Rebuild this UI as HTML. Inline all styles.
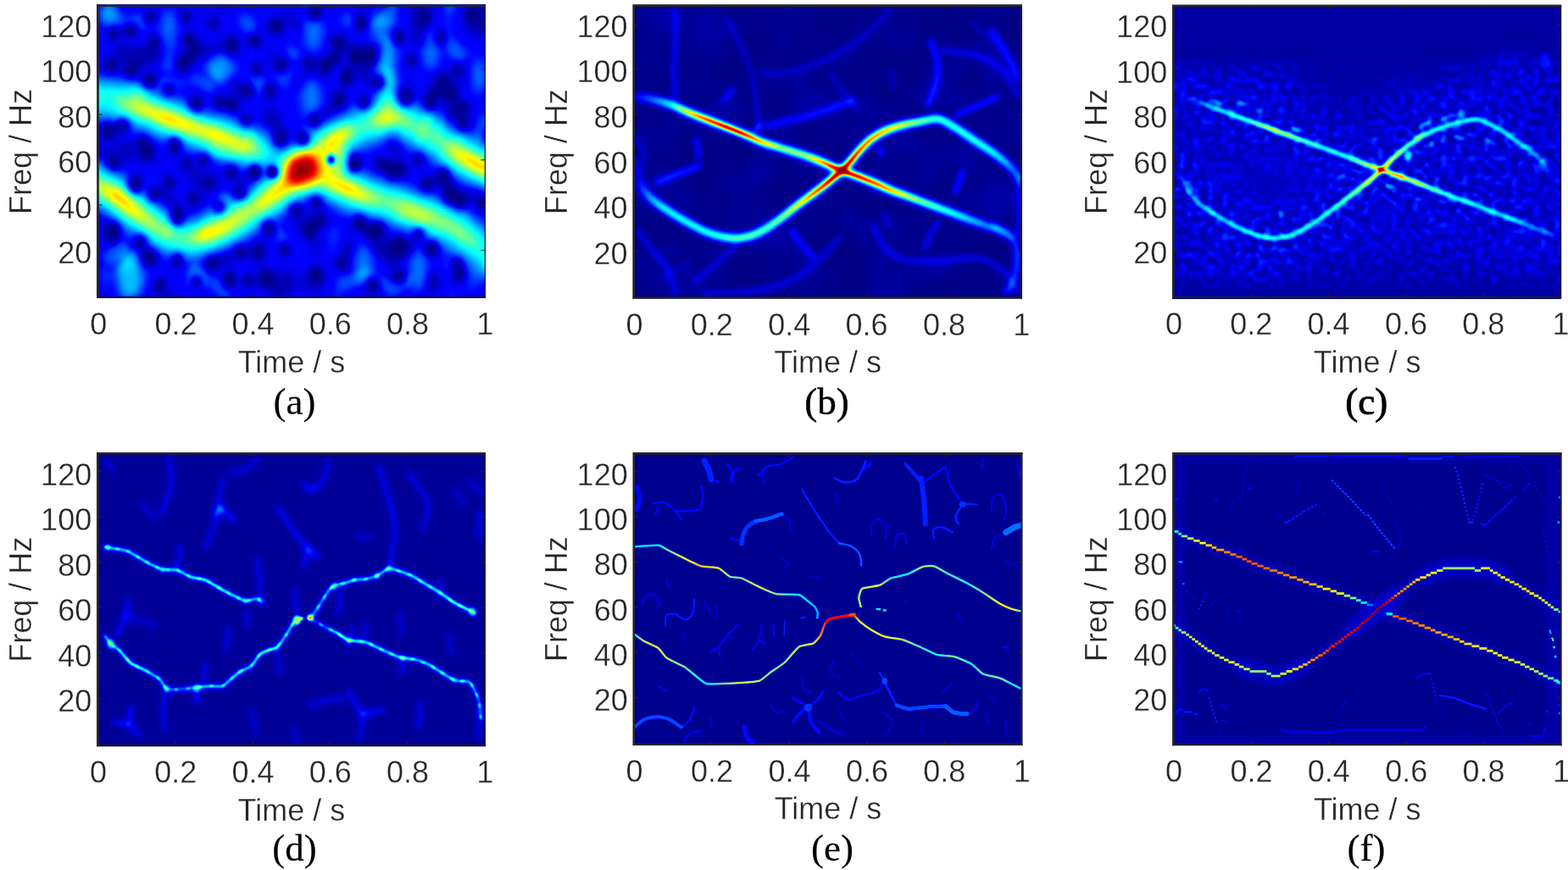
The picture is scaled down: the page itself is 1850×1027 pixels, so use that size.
<!DOCTYPE html>
<html lang="en">
<head>
<meta charset="utf-8">
<title>Time-frequency representations (a)-(f)</title>
<style>
html,body{margin:0;padding:0;background:#fff;}
body{width:1850px;height:1027px;overflow:hidden;}
svg{display:block;}
.tk text{font-family:"Liberation Sans",sans-serif;font-size:36px;fill:#262626;stroke:#fff;stroke-width:0.32px;paint-order:fill stroke;}
text.cap{font-family:"Liberation Serif",serif;font-size:45px;fill:#000;}
</style>
</head>
<body>
<svg width="1850" height="1027" viewBox="0 0 1850 1027">
<defs>
<filter id="jet" filterUnits="userSpaceOnUse" x="-50" y="-50" width="560" height="450" color-interpolation-filters="sRGB"><feComponentTransfer><feFuncR type="table" tableValues="0 0 0 0 0.5 1 1 1 0.5"/><feFuncG type="table" tableValues="0 0 0.5 1 1 1 0.5 0 0"/><feFuncB type="table" tableValues="0.5 1 1 1 0.5 0 0 0 0"/></feComponentTransfer></filter>
<clipPath id="clipP"><rect x="0.5" y="0.5" width="457.8" height="345.8"/></clipPath>
<filter id="bl0_5" filterUnits="userSpaceOnUse" x="-60" y="-60" width="580" height="470" color-interpolation-filters="sRGB"><feGaussianBlur stdDeviation="0.5"/></filter>
<filter id="bl0_6" filterUnits="userSpaceOnUse" x="-60" y="-60" width="580" height="470" color-interpolation-filters="sRGB"><feGaussianBlur stdDeviation="0.6"/></filter>
<filter id="bl0_8" filterUnits="userSpaceOnUse" x="-60" y="-60" width="580" height="470" color-interpolation-filters="sRGB"><feGaussianBlur stdDeviation="0.8"/></filter>
<filter id="bl0_85" filterUnits="userSpaceOnUse" x="-60" y="-60" width="580" height="470" color-interpolation-filters="sRGB"><feGaussianBlur stdDeviation="0.85"/></filter>
<filter id="bl0_9" filterUnits="userSpaceOnUse" x="-60" y="-60" width="580" height="470" color-interpolation-filters="sRGB"><feGaussianBlur stdDeviation="0.9"/></filter>
<filter id="bl1_2" filterUnits="userSpaceOnUse" x="-60" y="-60" width="580" height="470" color-interpolation-filters="sRGB"><feGaussianBlur stdDeviation="1.2"/></filter>
<filter id="bl1_3" filterUnits="userSpaceOnUse" x="-60" y="-60" width="580" height="470" color-interpolation-filters="sRGB"><feGaussianBlur stdDeviation="1.3"/></filter>
<filter id="bl1_6" filterUnits="userSpaceOnUse" x="-60" y="-60" width="580" height="470" color-interpolation-filters="sRGB"><feGaussianBlur stdDeviation="1.6"/></filter>
<filter id="bl1_8" filterUnits="userSpaceOnUse" x="-60" y="-60" width="580" height="470" color-interpolation-filters="sRGB"><feGaussianBlur stdDeviation="1.8"/></filter>
<filter id="bl1_9" filterUnits="userSpaceOnUse" x="-60" y="-60" width="580" height="470" color-interpolation-filters="sRGB"><feGaussianBlur stdDeviation="1.9"/></filter>
<filter id="bl2_0" filterUnits="userSpaceOnUse" x="-60" y="-60" width="580" height="470" color-interpolation-filters="sRGB"><feGaussianBlur stdDeviation="2.0"/></filter>
<filter id="bl2_5" filterUnits="userSpaceOnUse" x="-60" y="-60" width="580" height="470" color-interpolation-filters="sRGB"><feGaussianBlur stdDeviation="2.5"/></filter>
<filter id="bl2_6" filterUnits="userSpaceOnUse" x="-60" y="-60" width="580" height="470" color-interpolation-filters="sRGB"><feGaussianBlur stdDeviation="2.6"/></filter>
<filter id="bl3_0" filterUnits="userSpaceOnUse" x="-60" y="-60" width="580" height="470" color-interpolation-filters="sRGB"><feGaussianBlur stdDeviation="3.0"/></filter>
<filter id="bl3_5" filterUnits="userSpaceOnUse" x="-60" y="-60" width="580" height="470" color-interpolation-filters="sRGB"><feGaussianBlur stdDeviation="3.5"/></filter>
<filter id="bl4_0" filterUnits="userSpaceOnUse" x="-60" y="-60" width="580" height="470" color-interpolation-filters="sRGB"><feGaussianBlur stdDeviation="4.0"/></filter>
<filter id="bl4_5" filterUnits="userSpaceOnUse" x="-60" y="-60" width="580" height="470" color-interpolation-filters="sRGB"><feGaussianBlur stdDeviation="4.5"/></filter>
<filter id="bl5" filterUnits="userSpaceOnUse" x="-60" y="-60" width="580" height="470" color-interpolation-filters="sRGB"><feGaussianBlur stdDeviation="5"/></filter>
<filter id="bl6" filterUnits="userSpaceOnUse" x="-60" y="-60" width="580" height="470" color-interpolation-filters="sRGB"><feGaussianBlur stdDeviation="6"/></filter>
<filter id="bl8" filterUnits="userSpaceOnUse" x="-60" y="-60" width="580" height="470" color-interpolation-filters="sRGB"><feGaussianBlur stdDeviation="8"/></filter>
<filter id="bl9" filterUnits="userSpaceOnUse" x="-60" y="-60" width="580" height="470" color-interpolation-filters="sRGB"><feGaussianBlur stdDeviation="9"/></filter>
<filter id="bl12" filterUnits="userSpaceOnUse" x="-60" y="-60" width="580" height="470" color-interpolation-filters="sRGB"><feGaussianBlur stdDeviation="12"/></filter>
<filter id="tbA" filterUnits="userSpaceOnUse" x="-20" y="-20" width="500" height="390" color-interpolation-filters="sRGB"><feTurbulence type="fractalNoise" baseFrequency="0.03 0.026" numOctaves="1" seed="5" stitchTiles="noStitch"/><feColorMatrix type="matrix" values="1 0 0 0 0 1 0 0 0 0 1 0 0 0 0 0 0 0 0 1"/><feGaussianBlur stdDeviation="2"/><feComponentTransfer><feFuncR type="table" tableValues="0.04 0.04 0.04 0.04 0.04 0.05 0.06 0.08 0.1 0.115 0.125 0.125 0.13 0.15 0.19 0.22 0.22 0.22 0.22 0.22 0.22"/><feFuncG type="table" tableValues="0.04 0.04 0.04 0.04 0.04 0.05 0.06 0.08 0.1 0.115 0.125 0.125 0.13 0.15 0.19 0.22 0.22 0.22 0.22 0.22 0.22"/><feFuncB type="table" tableValues="0.04 0.04 0.04 0.04 0.04 0.05 0.06 0.08 0.1 0.115 0.125 0.125 0.13 0.15 0.19 0.22 0.22 0.22 0.22 0.22 0.22"/></feComponentTransfer></filter>
<filter id="tbB" filterUnits="userSpaceOnUse" x="-20" y="-20" width="500" height="390" color-interpolation-filters="sRGB"><feTurbulence type="fractalNoise" baseFrequency="0.018 0.02" numOctaves="2" seed="8" stitchTiles="noStitch"/><feColorMatrix type="matrix" values="1 0 0 0 0 1 0 0 0 0 1 0 0 0 0 0 0 0 0 1"/><feGaussianBlur stdDeviation="2"/><feComponentTransfer><feFuncR type="table" tableValues="0.01 0.01 0.01 0.01 0.01 0.01 0.01 0.01 0.012 0.014 0.017 0.02 0.025 0.03 0.035 0.04 0.04 0.04 0.04 0.04 0.04"/><feFuncG type="table" tableValues="0.01 0.01 0.01 0.01 0.01 0.01 0.01 0.01 0.012 0.014 0.017 0.02 0.025 0.03 0.035 0.04 0.04 0.04 0.04 0.04 0.04"/><feFuncB type="table" tableValues="0.01 0.01 0.01 0.01 0.01 0.01 0.01 0.01 0.012 0.014 0.017 0.02 0.025 0.03 0.035 0.04 0.04 0.04 0.04 0.04 0.04"/></feComponentTransfer></filter>
<filter id="tbC" filterUnits="userSpaceOnUse" x="-20" y="-20" width="500" height="390" color-interpolation-filters="sRGB"><feTurbulence type="fractalNoise" baseFrequency="0.12 0.14" numOctaves="1" seed="3" stitchTiles="noStitch"/><feColorMatrix type="matrix" values="1 0 0 0 0 1 0 0 0 0 1 0 0 0 0 0 0 0 0 1"/><feGaussianBlur stdDeviation="0.9"/><feComponentTransfer><feFuncR type="table" tableValues="0.03 0.03 0.03 0.03 0.03 0.03 0.035 0.04 0.05 0.065 0.085 0.11 0.14 0.165 0.18 0.19 0.2 0.2 0.2 0.2 0.2"/><feFuncG type="table" tableValues="0.03 0.03 0.03 0.03 0.03 0.03 0.035 0.04 0.05 0.065 0.085 0.11 0.14 0.165 0.18 0.19 0.2 0.2 0.2 0.2 0.2"/><feFuncB type="table" tableValues="0.03 0.03 0.03 0.03 0.03 0.03 0.035 0.04 0.05 0.065 0.085 0.11 0.14 0.165 0.18 0.19 0.2 0.2 0.2 0.2 0.2"/></feComponentTransfer></filter>
<mask id="tbCm" maskUnits="userSpaceOnUse" x="-20" y="-20" width="500" height="390" style="mask-type:luminance"><g filter="url(#bl9)"><rect x="-20" y="72" width="500" height="258" fill="#fff" fill-opacity="0.5"/><path d="M13 108.5C14.2 108.9 12.5 108.2 20.3 111.1C28.1 114 46.7 120.9 60 125.8C73.3 130.7 86.7 135.6 100 140.5C113.3 145.4 127.2 150.6 140 155.3C152.8 160 165.3 164.2 177 168.5C188.7 172.8 201.5 177.7 210 181C218.5 184.3 222 186.2 228.1 188.5C234.2 190.8 238.3 191.6 246.8 194.6C255.3 197.6 265.3 201.2 279.2 206.5C293.1 211.8 314.9 220.6 330.3 226.5C345.7 232.4 358.9 237.1 371.7 241.9C384.5 246.7 396.9 251.6 407 255.5C417.1 259.4 424.7 262.5 432 265.5C439.3 268.5 447.8 272.2 451 273.5" fill="none" stroke="#fff" stroke-opacity="0.600" stroke-width="50" stroke-linecap="round" stroke-linejoin="round"/><path d="M8.4 195.6C9.3 197.9 11.5 204.6 13.5 209.1C15.5 213.6 16.9 218.1 20.3 222.6C23.7 227.2 28.2 231.7 33.8 236.2C39.4 240.7 47.3 245.5 54.1 249.7C60.8 253.9 67.6 258.1 74.3 261.5C81.1 264.9 87.9 267.7 94.6 270C101.4 272.2 108.1 274.5 114.9 275C121.7 275.6 129 274.7 135.2 273.3C141.4 271.9 146.4 269.4 152.1 266.6C157.7 263.8 162.8 260.7 169 256.4C175.2 252.2 182.5 246.3 189.3 241.2C196 236.2 203.3 230.8 209.5 226C215.7 221.2 221.9 216.2 226.4 212.5C230.9 208.8 233.2 207 236.6 204.1C239.9 201.1 243.3 198.1 246.7 194.9C250.1 191.7 253.5 188.1 256.8 184.8C260.2 181.5 263 178.7 267 175.3C270.9 172 275.4 168.1 280.5 164.5C285.6 160.9 291.2 157 297.4 153.7C303.6 150.4 310.9 147.4 317.7 144.9C324.4 142.4 331.2 140.5 338 138.8C344.7 137.2 352.6 134.9 358.2 135.1C363.9 135.3 366.7 137.5 371.7 139.9C376.8 142.2 383 145.5 388.6 149C394.3 152.5 399.9 156.9 405.5 160.8C411.2 164.7 417.4 168.7 422.4 172.6C427.5 176.6 431.7 180.3 436 184.5C440.2 188.6 445.8 195.2 447.8 197.3" fill="none" stroke="#fff" stroke-opacity="0.600" stroke-width="50" stroke-linecap="round" stroke-linejoin="round"/><ellipse cx="351.5" cy="188.9" rx="77.7" ry="43.9" fill="#fff" fill-opacity="0.500"/><ellipse cx="256.8" cy="263.2" rx="111.5" ry="40.6" fill="#fff" fill-opacity="0.400"/><ellipse cx="81.1" cy="293.6" rx="74.3" ry="37.2" fill="#fff" fill-opacity="0.400"/><ellipse cx="405.5" cy="90.8" rx="47.3" ry="37.2" fill="#fff" fill-opacity="0.400"/><ellipse cx="101.4" cy="97.6" rx="43.9" ry="30.4" fill="#fff" fill-opacity="0.300"/><ellipse cx="287.3" cy="111.1" rx="50.7" ry="27" fill="#fff" fill-opacity="0.300"/><ellipse cx="20.3" cy="188.9" rx="16.9" ry="40.6" fill="#fff" fill-opacity="0.400"/><ellipse cx="128.4" cy="205.8" rx="50.7" ry="20.3" fill="#000" fill-opacity="0.450"/><ellipse cx="229.8" cy="84.1" rx="77.7" ry="27" fill="#000" fill-opacity="0.700"/><ellipse cx="263.6" cy="293.6" rx="60.8" ry="20.3" fill="#000" fill-opacity="0.300"/></g></mask>
<linearGradient id="lg1" gradientUnits="userSpaceOnUse" x1="-13.7" y1="0" x2="241.4" y2="0"><stop offset="0.000" stop-color="#fff" stop-opacity="0.300"/><stop offset="0.185" stop-color="#fff" stop-opacity="0.320"/><stop offset="0.318" stop-color="#fff" stop-opacity="0.360"/><stop offset="0.715" stop-color="#fff" stop-opacity="0.360"/><stop offset="0.795" stop-color="#fff" stop-opacity="0.300"/><stop offset="0.861" stop-color="#fff" stop-opacity="0.200"/><stop offset="0.927" stop-color="#fff" stop-opacity="0.160"/><stop offset="1.000" stop-color="#fff" stop-opacity="0.300"/></linearGradient>
<linearGradient id="lg2" gradientUnits="userSpaceOnUse" x1="241.4" y1="0" x2="472.9" y2="0"><stop offset="0.000" stop-color="#fff" stop-opacity="0.300"/><stop offset="0.124" stop-color="#fff" stop-opacity="0.360"/><stop offset="0.270" stop-color="#fff" stop-opacity="0.360"/><stop offset="0.416" stop-color="#fff" stop-opacity="0.300"/><stop offset="0.562" stop-color="#fff" stop-opacity="0.340"/><stop offset="0.781" stop-color="#fff" stop-opacity="0.320"/><stop offset="1.000" stop-color="#fff" stop-opacity="0.300"/></linearGradient>
<linearGradient id="lg3" gradientUnits="userSpaceOnUse" x1="-13.7" y1="0" x2="241.4" y2="0"><stop offset="0.000" stop-color="#fff" stop-opacity="0.300"/><stop offset="0.132" stop-color="#fff" stop-opacity="0.360"/><stop offset="0.318" stop-color="#fff" stop-opacity="0.330"/><stop offset="0.437" stop-color="#fff" stop-opacity="0.300"/><stop offset="0.543" stop-color="#fff" stop-opacity="0.360"/><stop offset="0.848" stop-color="#fff" stop-opacity="0.360"/><stop offset="1.000" stop-color="#fff" stop-opacity="0.360"/></linearGradient>
<linearGradient id="lg4" gradientUnits="userSpaceOnUse" x1="241.4" y1="0" x2="472.9" y2="0"><stop offset="0.000" stop-color="#fff" stop-opacity="0.300"/><stop offset="0.124" stop-color="#fff" stop-opacity="0.360"/><stop offset="0.226" stop-color="#fff" stop-opacity="0.340"/><stop offset="0.314" stop-color="#fff" stop-opacity="0.270"/><stop offset="0.431" stop-color="#fff" stop-opacity="0.360"/><stop offset="0.591" stop-color="#fff" stop-opacity="0.280"/><stop offset="0.781" stop-color="#fff" stop-opacity="0.360"/><stop offset="1.000" stop-color="#fff" stop-opacity="0.360"/></linearGradient>
<linearGradient id="lg5" gradientUnits="userSpaceOnUse" x1="-13.7" y1="0" x2="241.4" y2="0"><stop offset="0.000" stop-color="#fff" stop-opacity="0.000"/><stop offset="0.132" stop-color="#fff" stop-opacity="0.100"/><stop offset="0.225" stop-color="#fff" stop-opacity="0.300"/><stop offset="0.318" stop-color="#fff" stop-opacity="0.450"/><stop offset="0.371" stop-color="#fff" stop-opacity="0.550"/><stop offset="0.437" stop-color="#fff" stop-opacity="0.450"/><stop offset="0.517" stop-color="#fff" stop-opacity="0.360"/><stop offset="0.609" stop-color="#fff" stop-opacity="0.460"/><stop offset="0.689" stop-color="#fff" stop-opacity="0.380"/><stop offset="0.768" stop-color="#fff" stop-opacity="0.250"/><stop offset="0.848" stop-color="#fff" stop-opacity="0.080"/><stop offset="0.927" stop-color="#fff" stop-opacity="0.000"/><stop offset="1.000" stop-color="#fff" stop-opacity="0.100"/></linearGradient>
<linearGradient id="lg6" gradientUnits="userSpaceOnUse" x1="241.4" y1="0" x2="472.9" y2="0"><stop offset="0.000" stop-color="#fff" stop-opacity="0.200"/><stop offset="0.109" stop-color="#fff" stop-opacity="0.300"/><stop offset="0.182" stop-color="#fff" stop-opacity="0.500"/><stop offset="0.241" stop-color="#fff" stop-opacity="0.550"/><stop offset="0.328" stop-color="#fff" stop-opacity="0.350"/><stop offset="0.431" stop-color="#fff" stop-opacity="0.150"/><stop offset="0.562" stop-color="#fff" stop-opacity="0.340"/><stop offset="0.679" stop-color="#fff" stop-opacity="0.200"/><stop offset="0.781" stop-color="#fff" stop-opacity="0.280"/><stop offset="0.869" stop-color="#fff" stop-opacity="0.150"/><stop offset="1.000" stop-color="#fff" stop-opacity="0.100"/></linearGradient>
<linearGradient id="lg7" gradientUnits="userSpaceOnUse" x1="-13.7" y1="0" x2="241.4" y2="0"><stop offset="0.000" stop-color="#fff" stop-opacity="0.100"/><stop offset="0.079" stop-color="#fff" stop-opacity="0.300"/><stop offset="0.146" stop-color="#fff" stop-opacity="0.580"/><stop offset="0.225" stop-color="#fff" stop-opacity="0.450"/><stop offset="0.318" stop-color="#fff" stop-opacity="0.250"/><stop offset="0.411" stop-color="#fff" stop-opacity="0.100"/><stop offset="0.464" stop-color="#fff" stop-opacity="0.150"/><stop offset="0.543" stop-color="#fff" stop-opacity="0.500"/><stop offset="0.636" stop-color="#fff" stop-opacity="0.400"/><stop offset="0.742" stop-color="#fff" stop-opacity="0.300"/><stop offset="0.821" stop-color="#fff" stop-opacity="0.400"/><stop offset="0.901" stop-color="#fff" stop-opacity="0.480"/><stop offset="0.954" stop-color="#fff" stop-opacity="0.400"/><stop offset="1.000" stop-color="#fff" stop-opacity="0.300"/></linearGradient>
<linearGradient id="lg8" gradientUnits="userSpaceOnUse" x1="241.4" y1="0" x2="472.9" y2="0"><stop offset="0.000" stop-color="#fff" stop-opacity="0.300"/><stop offset="0.066" stop-color="#fff" stop-opacity="0.200"/><stop offset="0.124" stop-color="#fff" stop-opacity="0.350"/><stop offset="0.197" stop-color="#fff" stop-opacity="0.500"/><stop offset="0.270" stop-color="#fff" stop-opacity="0.150"/><stop offset="0.343" stop-color="#fff" stop-opacity="0.100"/><stop offset="0.431" stop-color="#fff" stop-opacity="0.420"/><stop offset="0.504" stop-color="#fff" stop-opacity="0.300"/><stop offset="0.591" stop-color="#fff" stop-opacity="0.100"/><stop offset="0.708" stop-color="#fff" stop-opacity="0.150"/><stop offset="0.796" stop-color="#fff" stop-opacity="0.400"/><stop offset="0.869" stop-color="#fff" stop-opacity="0.520"/><stop offset="0.942" stop-color="#fff" stop-opacity="0.500"/><stop offset="1.000" stop-color="#fff" stop-opacity="0.400"/></linearGradient>
<linearGradient id="lg9" gradientUnits="userSpaceOnUse" x1="-10.4" y1="0" x2="445.8" y2="0"><stop offset="0.000" stop-color="#fff" stop-opacity="0.050"/><stop offset="0.037" stop-color="#fff" stop-opacity="0.120"/><stop offset="0.074" stop-color="#fff" stop-opacity="0.250"/><stop offset="0.119" stop-color="#fff" stop-opacity="0.420"/><stop offset="0.170" stop-color="#fff" stop-opacity="0.500"/><stop offset="0.319" stop-color="#fff" stop-opacity="0.550"/><stop offset="0.407" stop-color="#fff" stop-opacity="0.480"/><stop offset="0.467" stop-color="#fff" stop-opacity="0.480"/><stop offset="0.541" stop-color="#fff" stop-opacity="0.600"/><stop offset="0.652" stop-color="#fff" stop-opacity="0.600"/><stop offset="0.733" stop-color="#fff" stop-opacity="0.500"/><stop offset="0.793" stop-color="#fff" stop-opacity="0.460"/><stop offset="0.859" stop-color="#fff" stop-opacity="0.420"/><stop offset="0.933" stop-color="#fff" stop-opacity="0.280"/><stop offset="0.985" stop-color="#fff" stop-opacity="0.160"/><stop offset="1.000" stop-color="#fff" stop-opacity="0.100"/></linearGradient>
<linearGradient id="lg10" gradientUnits="userSpaceOnUse" x1="1.4" y1="0" x2="466.1" y2="0"><stop offset="0.000" stop-color="#fff" stop-opacity="0.060"/><stop offset="0.018" stop-color="#fff" stop-opacity="0.140"/><stop offset="0.040" stop-color="#fff" stop-opacity="0.300"/><stop offset="0.069" stop-color="#fff" stop-opacity="0.420"/><stop offset="0.185" stop-color="#fff" stop-opacity="0.450"/><stop offset="0.265" stop-color="#fff" stop-opacity="0.470"/><stop offset="0.375" stop-color="#fff" stop-opacity="0.470"/><stop offset="0.447" stop-color="#fff" stop-opacity="0.550"/><stop offset="0.527" stop-color="#fff" stop-opacity="0.650"/><stop offset="0.600" stop-color="#fff" stop-opacity="0.600"/><stop offset="0.680" stop-color="#fff" stop-opacity="0.500"/><stop offset="0.760" stop-color="#fff" stop-opacity="0.470"/><stop offset="0.869" stop-color="#fff" stop-opacity="0.450"/><stop offset="0.927" stop-color="#fff" stop-opacity="0.400"/><stop offset="0.964" stop-color="#fff" stop-opacity="0.250"/><stop offset="1.000" stop-color="#fff" stop-opacity="0.100"/></linearGradient>
<linearGradient id="lg11" gradientUnits="userSpaceOnUse" x1="-10.4" y1="0" x2="445.8" y2="0"><stop offset="0.000" stop-color="#fff" stop-opacity="0.000"/><stop offset="0.119" stop-color="#fff" stop-opacity="0.000"/><stop offset="0.148" stop-color="#fff" stop-opacity="0.250"/><stop offset="0.178" stop-color="#fff" stop-opacity="0.500"/><stop offset="0.215" stop-color="#fff" stop-opacity="0.750"/><stop offset="0.267" stop-color="#fff" stop-opacity="0.950"/><stop offset="0.304" stop-color="#fff" stop-opacity="0.900"/><stop offset="0.333" stop-color="#fff" stop-opacity="0.650"/><stop offset="0.363" stop-color="#fff" stop-opacity="0.450"/><stop offset="0.407" stop-color="#fff" stop-opacity="0.200"/><stop offset="0.467" stop-color="#fff" stop-opacity="0.220"/><stop offset="0.504" stop-color="#fff" stop-opacity="0.450"/><stop offset="0.533" stop-color="#fff" stop-opacity="0.800"/><stop offset="0.563" stop-color="#fff" stop-opacity="1.000"/><stop offset="0.615" stop-color="#fff" stop-opacity="0.800"/><stop offset="0.652" stop-color="#fff" stop-opacity="0.650"/><stop offset="0.689" stop-color="#fff" stop-opacity="0.480"/><stop offset="0.733" stop-color="#fff" stop-opacity="0.280"/><stop offset="0.793" stop-color="#fff" stop-opacity="0.100"/><stop offset="0.852" stop-color="#fff" stop-opacity="0.030"/><stop offset="1.000" stop-color="#fff" stop-opacity="0.000"/></linearGradient>
<linearGradient id="lg12" gradientUnits="userSpaceOnUse" x1="1.4" y1="0" x2="466.1" y2="0"><stop offset="0.000" stop-color="#fff" stop-opacity="0.000"/><stop offset="0.142" stop-color="#fff" stop-opacity="0.000"/><stop offset="0.215" stop-color="#fff" stop-opacity="0.040"/><stop offset="0.265" stop-color="#fff" stop-opacity="0.100"/><stop offset="0.338" stop-color="#fff" stop-opacity="0.060"/><stop offset="0.389" stop-color="#fff" stop-opacity="0.200"/><stop offset="0.433" stop-color="#fff" stop-opacity="0.450"/><stop offset="0.469" stop-color="#fff" stop-opacity="0.700"/><stop offset="0.505" stop-color="#fff" stop-opacity="0.950"/><stop offset="0.527" stop-color="#fff" stop-opacity="1.000"/><stop offset="0.556" stop-color="#fff" stop-opacity="0.800"/><stop offset="0.578" stop-color="#fff" stop-opacity="0.600"/><stop offset="0.615" stop-color="#fff" stop-opacity="0.500"/><stop offset="0.651" stop-color="#fff" stop-opacity="0.380"/><stop offset="0.695" stop-color="#fff" stop-opacity="0.250"/><stop offset="0.738" stop-color="#fff" stop-opacity="0.100"/><stop offset="0.767" stop-color="#fff" stop-opacity="0.030"/><stop offset="1.000" stop-color="#fff" stop-opacity="0.000"/></linearGradient>
<linearGradient id="lg13" gradientUnits="userSpaceOnUse" x1="13" y1="0" x2="451" y2="0"><stop offset="0.000" stop-color="#fff" stop-opacity="0.040"/><stop offset="0.039" stop-color="#fff" stop-opacity="0.180"/><stop offset="0.073" stop-color="#fff" stop-opacity="0.380"/><stop offset="0.130" stop-color="#fff" stop-opacity="0.500"/><stop offset="0.279" stop-color="#fff" stop-opacity="0.550"/><stop offset="0.370" stop-color="#fff" stop-opacity="0.500"/><stop offset="0.438" stop-color="#fff" stop-opacity="0.500"/><stop offset="0.507" stop-color="#fff" stop-opacity="0.600"/><stop offset="0.632" stop-color="#fff" stop-opacity="0.600"/><stop offset="0.712" stop-color="#fff" stop-opacity="0.500"/><stop offset="0.815" stop-color="#fff" stop-opacity="0.480"/><stop offset="0.895" stop-color="#fff" stop-opacity="0.420"/><stop offset="0.957" stop-color="#fff" stop-opacity="0.300"/><stop offset="1.000" stop-color="#fff" stop-opacity="0.150"/></linearGradient>
<linearGradient id="lg14" gradientUnits="userSpaceOnUse" x1="8.4" y1="0" x2="447.8" y2="0"><stop offset="0.000" stop-color="#fff" stop-opacity="0.050"/><stop offset="0.019" stop-color="#fff" stop-opacity="0.200"/><stop offset="0.050" stop-color="#fff" stop-opacity="0.400"/><stop offset="0.181" stop-color="#fff" stop-opacity="0.480"/><stop offset="0.265" stop-color="#fff" stop-opacity="0.500"/><stop offset="0.381" stop-color="#fff" stop-opacity="0.500"/><stop offset="0.458" stop-color="#fff" stop-opacity="0.550"/><stop offset="0.542" stop-color="#fff" stop-opacity="0.650"/><stop offset="0.619" stop-color="#fff" stop-opacity="0.550"/><stop offset="0.704" stop-color="#fff" stop-opacity="0.500"/><stop offset="0.796" stop-color="#fff" stop-opacity="0.500"/><stop offset="0.904" stop-color="#fff" stop-opacity="0.450"/><stop offset="0.950" stop-color="#fff" stop-opacity="0.350"/><stop offset="0.981" stop-color="#fff" stop-opacity="0.200"/><stop offset="1.000" stop-color="#fff" stop-opacity="0.100"/></linearGradient>
<linearGradient id="lg15" gradientUnits="userSpaceOnUse" x1="13" y1="0" x2="451" y2="0"><stop offset="0.000" stop-color="#fff" stop-opacity="0.000"/><stop offset="0.126" stop-color="#fff" stop-opacity="0.000"/><stop offset="0.171" stop-color="#fff" stop-opacity="0.120"/><stop offset="0.217" stop-color="#fff" stop-opacity="0.320"/><stop offset="0.240" stop-color="#fff" stop-opacity="0.400"/><stop offset="0.279" stop-color="#fff" stop-opacity="0.320"/><stop offset="0.317" stop-color="#fff" stop-opacity="0.150"/><stop offset="0.370" stop-color="#fff" stop-opacity="0.030"/><stop offset="0.434" stop-color="#fff" stop-opacity="0.030"/><stop offset="0.473" stop-color="#fff" stop-opacity="0.150"/><stop offset="0.502" stop-color="#fff" stop-opacity="0.380"/><stop offset="0.534" stop-color="#fff" stop-opacity="0.620"/><stop offset="0.564" stop-color="#fff" stop-opacity="0.500"/><stop offset="0.596" stop-color="#fff" stop-opacity="0.400"/><stop offset="0.635" stop-color="#fff" stop-opacity="0.280"/><stop offset="0.680" stop-color="#fff" stop-opacity="0.120"/><stop offset="0.742" stop-color="#fff" stop-opacity="0.030"/><stop offset="1.000" stop-color="#fff" stop-opacity="0.000"/></linearGradient>
<linearGradient id="lg16" gradientUnits="userSpaceOnUse" x1="8.4" y1="0" x2="447.8" y2="0"><stop offset="0.000" stop-color="#fff" stop-opacity="0.000"/><stop offset="0.396" stop-color="#fff" stop-opacity="0.000"/><stop offset="0.442" stop-color="#fff" stop-opacity="0.060"/><stop offset="0.481" stop-color="#fff" stop-opacity="0.200"/><stop offset="0.512" stop-color="#fff" stop-opacity="0.400"/><stop offset="0.542" stop-color="#fff" stop-opacity="0.620"/><stop offset="0.565" stop-color="#fff" stop-opacity="0.420"/><stop offset="0.588" stop-color="#fff" stop-opacity="0.250"/><stop offset="0.619" stop-color="#fff" stop-opacity="0.080"/><stop offset="0.658" stop-color="#fff" stop-opacity="0.020"/><stop offset="1.000" stop-color="#fff" stop-opacity="0.000"/></linearGradient>
<linearGradient id="lg17" gradientUnits="userSpaceOnUse" x1="253.9" y1="0" x2="454.3" y2="0"><stop offset="0.000" stop-color="#fff" stop-opacity="0.100"/><stop offset="0.132" stop-color="#fff" stop-opacity="0.200"/><stop offset="0.924" stop-color="#fff" stop-opacity="0.200"/><stop offset="1.000" stop-color="#fff" stop-opacity="0.120"/></linearGradient>
<linearGradient id="lg18" gradientUnits="userSpaceOnUse" x1="9.9" y1="0" x2="196.5" y2="0"><stop offset="0.000" stop-color="#fff" stop-opacity="0.360"/><stop offset="0.145" stop-color="#fff" stop-opacity="0.400"/><stop offset="0.254" stop-color="#fff" stop-opacity="0.440"/><stop offset="0.362" stop-color="#fff" stop-opacity="0.400"/><stop offset="0.489" stop-color="#fff" stop-opacity="0.400"/><stop offset="0.634" stop-color="#fff" stop-opacity="0.600"/><stop offset="0.743" stop-color="#fff" stop-opacity="0.560"/><stop offset="0.815" stop-color="#fff" stop-opacity="0.440"/><stop offset="0.924" stop-color="#fff" stop-opacity="0.360"/><stop offset="0.978" stop-color="#fff" stop-opacity="0.240"/><stop offset="1.000" stop-color="#fff" stop-opacity="0.080"/></linearGradient>
<linearGradient id="lg19" gradientUnits="userSpaceOnUse" x1="253.9" y1="0" x2="453.3" y2="0"><stop offset="0.000" stop-color="#fff" stop-opacity="0.120"/><stop offset="0.081" stop-color="#fff" stop-opacity="0.120"/><stop offset="0.132" stop-color="#fff" stop-opacity="0.400"/><stop offset="0.166" stop-color="#fff" stop-opacity="0.640"/><stop offset="0.251" stop-color="#fff" stop-opacity="0.480"/><stop offset="0.420" stop-color="#fff" stop-opacity="0.400"/><stop offset="0.522" stop-color="#fff" stop-opacity="0.520"/><stop offset="0.607" stop-color="#fff" stop-opacity="0.400"/><stop offset="0.759" stop-color="#fff" stop-opacity="0.400"/><stop offset="0.929" stop-color="#fff" stop-opacity="0.360"/><stop offset="0.980" stop-color="#fff" stop-opacity="0.240"/><stop offset="1.000" stop-color="#fff" stop-opacity="0.100"/></linearGradient>
<linearGradient id="lg20" gradientUnits="userSpaceOnUse" x1="9.9" y1="0" x2="233" y2="0"><stop offset="0.000" stop-color="#fff" stop-opacity="0.320"/><stop offset="0.076" stop-color="#fff" stop-opacity="0.400"/><stop offset="0.136" stop-color="#fff" stop-opacity="0.640"/><stop offset="0.182" stop-color="#fff" stop-opacity="0.560"/><stop offset="0.227" stop-color="#fff" stop-opacity="0.400"/><stop offset="0.318" stop-color="#fff" stop-opacity="0.320"/><stop offset="0.348" stop-color="#fff" stop-opacity="0.100"/><stop offset="0.439" stop-color="#fff" stop-opacity="0.100"/><stop offset="0.477" stop-color="#fff" stop-opacity="0.400"/><stop offset="0.621" stop-color="#fff" stop-opacity="0.400"/><stop offset="0.712" stop-color="#fff" stop-opacity="0.400"/><stop offset="0.803" stop-color="#fff" stop-opacity="0.440"/><stop offset="0.864" stop-color="#fff" stop-opacity="0.600"/><stop offset="0.909" stop-color="#fff" stop-opacity="0.480"/><stop offset="0.955" stop-color="#fff" stop-opacity="0.320"/><stop offset="1.000" stop-color="#fff" stop-opacity="0.400"/></linearGradient>
<linearGradient id="lg21" gradientUnits="userSpaceOnUse" x1="253.3" y1="0" x2="445.9" y2="0"><stop offset="0.000" stop-color="#fff" stop-opacity="0.240"/><stop offset="0.070" stop-color="#fff" stop-opacity="0.200"/><stop offset="0.132" stop-color="#fff" stop-opacity="0.400"/><stop offset="0.263" stop-color="#fff" stop-opacity="0.360"/><stop offset="0.368" stop-color="#fff" stop-opacity="0.240"/><stop offset="0.439" stop-color="#fff" stop-opacity="0.400"/><stop offset="0.614" stop-color="#fff" stop-opacity="0.400"/><stop offset="0.789" stop-color="#fff" stop-opacity="0.480"/><stop offset="0.877" stop-color="#fff" stop-opacity="0.640"/><stop offset="0.947" stop-color="#fff" stop-opacity="0.560"/><stop offset="1.000" stop-color="#fff" stop-opacity="0.400"/></linearGradient>
<linearGradient id="jg22" gradientUnits="userSpaceOnUse" x1="1.4" y1="0" x2="217.7" y2="0"><stop offset="0.000" stop-color="#00f0ff"/><stop offset="0.021" stop-color="#00f3ff"/><stop offset="0.042" stop-color="#00f6ff"/><stop offset="0.062" stop-color="#00f9ff"/><stop offset="0.083" stop-color="#00fcff"/><stop offset="0.104" stop-color="#01fffe"/><stop offset="0.125" stop-color="#04fffb"/><stop offset="0.146" stop-color="#1fffe0"/><stop offset="0.167" stop-color="#47ffb8"/><stop offset="0.188" stop-color="#70ff8f"/><stop offset="0.208" stop-color="#90ff6f"/><stop offset="0.229" stop-color="#acff53"/><stop offset="0.250" stop-color="#c7ff38"/><stop offset="0.271" stop-color="#e2ff1d"/><stop offset="0.292" stop-color="#f5ff0a"/><stop offset="0.312" stop-color="#fff700"/><stop offset="0.333" stop-color="#ffe400"/><stop offset="0.354" stop-color="#ffd200"/><stop offset="0.375" stop-color="#ffcc00"/><stop offset="0.396" stop-color="#ffda00"/><stop offset="0.417" stop-color="#ffe700"/><stop offset="0.438" stop-color="#fff500"/><stop offset="0.458" stop-color="#fcff03"/><stop offset="0.479" stop-color="#d6ff29"/><stop offset="0.500" stop-color="#adff52"/><stop offset="0.521" stop-color="#85ff7a"/><stop offset="0.542" stop-color="#80ff80"/><stop offset="0.562" stop-color="#80ff80"/><stop offset="0.583" stop-color="#80ff80"/><stop offset="0.604" stop-color="#84ff7b"/><stop offset="0.625" stop-color="#a4ff5b"/><stop offset="0.646" stop-color="#c5ff3a"/><stop offset="0.667" stop-color="#e6ff19"/><stop offset="0.688" stop-color="#f0ff0f"/><stop offset="0.708" stop-color="#d4ff2b"/><stop offset="0.729" stop-color="#b9ff46"/><stop offset="0.750" stop-color="#9eff61"/><stop offset="0.771" stop-color="#83ff7c"/><stop offset="0.792" stop-color="#6cff93"/><stop offset="0.812" stop-color="#55ffaa"/><stop offset="0.833" stop-color="#3effc1"/><stop offset="0.854" stop-color="#28ffd7"/><stop offset="0.875" stop-color="#15ffea"/><stop offset="0.896" stop-color="#0bfff4"/><stop offset="0.917" stop-color="#00ffff"/><stop offset="0.938" stop-color="#00f4ff"/><stop offset="0.958" stop-color="#00e1ff"/><stop offset="0.979" stop-color="#00caff"/><stop offset="1.000" stop-color="#00b2ff"/></linearGradient>
<linearGradient id="jg23" gradientUnits="userSpaceOnUse" x1="1.4" y1="0" x2="259.9" y2="0"><stop offset="0.000" stop-color="#00f0ff"/><stop offset="0.021" stop-color="#60ff9f"/><stop offset="0.042" stop-color="#d0ff2f"/><stop offset="0.062" stop-color="#ebff14"/><stop offset="0.083" stop-color="#f1ff0e"/><stop offset="0.104" stop-color="#f8ff07"/><stop offset="0.125" stop-color="#e7ff18"/><stop offset="0.146" stop-color="#caff35"/><stop offset="0.167" stop-color="#b0ff4f"/><stop offset="0.188" stop-color="#a0ff5f"/><stop offset="0.208" stop-color="#8fff70"/><stop offset="0.229" stop-color="#7fff80"/><stop offset="0.250" stop-color="#5effa1"/><stop offset="0.271" stop-color="#3effc1"/><stop offset="0.292" stop-color="#1dffe2"/><stop offset="0.312" stop-color="#12ffed"/><stop offset="0.333" stop-color="#0afff5"/><stop offset="0.354" stop-color="#14ffeb"/><stop offset="0.375" stop-color="#3dffc2"/><stop offset="0.396" stop-color="#66ff99"/><stop offset="0.417" stop-color="#8eff71"/><stop offset="0.438" stop-color="#b7ff48"/><stop offset="0.458" stop-color="#d0ff2f"/><stop offset="0.479" stop-color="#ccff33"/><stop offset="0.500" stop-color="#c9ff36"/><stop offset="0.521" stop-color="#c5ff3a"/><stop offset="0.542" stop-color="#c1ff3e"/><stop offset="0.562" stop-color="#beff41"/><stop offset="0.583" stop-color="#b1ff4e"/><stop offset="0.604" stop-color="#a1ff5e"/><stop offset="0.625" stop-color="#91ff6e"/><stop offset="0.646" stop-color="#80ff7f"/><stop offset="0.667" stop-color="#8bff74"/><stop offset="0.688" stop-color="#97ff68"/><stop offset="0.708" stop-color="#a3ff5c"/><stop offset="0.729" stop-color="#b0ff4f"/><stop offset="0.750" stop-color="#bcff43"/><stop offset="0.771" stop-color="#cfff30"/><stop offset="0.792" stop-color="#e2ff1d"/><stop offset="0.812" stop-color="#f6ff09"/><stop offset="0.833" stop-color="#ffd100"/><stop offset="0.854" stop-color="#ff8e00"/><stop offset="0.875" stop-color="#ff2000"/><stop offset="0.896" stop-color="#ff0b00"/><stop offset="0.917" stop-color="#ff0600"/><stop offset="0.938" stop-color="#ff0100"/><stop offset="0.958" stop-color="#fa0000"/><stop offset="0.979" stop-color="#ff1800"/><stop offset="1.000" stop-color="#ff3800"/></linearGradient>
<linearGradient id="jg24" gradientUnits="userSpaceOnUse" x1="266" y1="0" x2="458" y2="0"><stop offset="0.000" stop-color="#b3ff4c"/><stop offset="0.021" stop-color="#beff41"/><stop offset="0.042" stop-color="#caff35"/><stop offset="0.062" stop-color="#d6ff29"/><stop offset="0.083" stop-color="#e1ff1e"/><stop offset="0.104" stop-color="#edff12"/><stop offset="0.125" stop-color="#f9ff06"/><stop offset="0.146" stop-color="#bdff42"/><stop offset="0.167" stop-color="#7bff84"/><stop offset="0.188" stop-color="#38ffc7"/><stop offset="0.208" stop-color="#17ffe8"/><stop offset="0.229" stop-color="#13ffec"/><stop offset="0.250" stop-color="#0ffff0"/><stop offset="0.271" stop-color="#0bfff4"/><stop offset="0.292" stop-color="#07fff8"/><stop offset="0.312" stop-color="#19ffe6"/><stop offset="0.333" stop-color="#45ffba"/><stop offset="0.354" stop-color="#70ff8f"/><stop offset="0.375" stop-color="#9cff63"/><stop offset="0.396" stop-color="#b8ff47"/><stop offset="0.417" stop-color="#a6ff59"/><stop offset="0.438" stop-color="#94ff6b"/><stop offset="0.458" stop-color="#82ff7d"/><stop offset="0.479" stop-color="#75ff8a"/><stop offset="0.500" stop-color="#69ff96"/><stop offset="0.521" stop-color="#5dffa2"/><stop offset="0.542" stop-color="#51ffae"/><stop offset="0.562" stop-color="#46ffb9"/><stop offset="0.583" stop-color="#3cffc3"/><stop offset="0.604" stop-color="#32ffcd"/><stop offset="0.625" stop-color="#28ffd7"/><stop offset="0.646" stop-color="#1effe1"/><stop offset="0.667" stop-color="#25ffda"/><stop offset="0.688" stop-color="#39ffc6"/><stop offset="0.708" stop-color="#4dffb2"/><stop offset="0.729" stop-color="#61ff9e"/><stop offset="0.750" stop-color="#75ff8a"/><stop offset="0.771" stop-color="#8bff74"/><stop offset="0.792" stop-color="#a4ff5b"/><stop offset="0.812" stop-color="#bcff43"/><stop offset="0.833" stop-color="#d4ff2b"/><stop offset="0.854" stop-color="#ecff13"/><stop offset="0.875" stop-color="#feff01"/><stop offset="0.896" stop-color="#fff700"/><stop offset="0.917" stop-color="#ffee00"/><stop offset="0.938" stop-color="#ffe900"/><stop offset="0.958" stop-color="#cdff32"/><stop offset="0.979" stop-color="#85ff7a"/><stop offset="1.000" stop-color="#05fffa"/></linearGradient>
<linearGradient id="jg25" gradientUnits="userSpaceOnUse" x1="259.9" y1="0" x2="458" y2="0"><stop offset="0.000" stop-color="#ff4c00"/><stop offset="0.021" stop-color="#ffbd00"/><stop offset="0.042" stop-color="#faff05"/><stop offset="0.062" stop-color="#faff05"/><stop offset="0.083" stop-color="#faff05"/><stop offset="0.104" stop-color="#faff05"/><stop offset="0.125" stop-color="#faff05"/><stop offset="0.146" stop-color="#faff05"/><stop offset="0.167" stop-color="#faff05"/><stop offset="0.188" stop-color="#faff05"/><stop offset="0.208" stop-color="#eeff11"/><stop offset="0.229" stop-color="#e1ff1e"/><stop offset="0.250" stop-color="#d5ff2a"/><stop offset="0.271" stop-color="#c8ff37"/><stop offset="0.292" stop-color="#bbff44"/><stop offset="0.312" stop-color="#a4ff5b"/><stop offset="0.333" stop-color="#8dff72"/><stop offset="0.354" stop-color="#76ff89"/><stop offset="0.375" stop-color="#60ff9f"/><stop offset="0.396" stop-color="#4bffb4"/><stop offset="0.417" stop-color="#40ffbf"/><stop offset="0.438" stop-color="#36ffc9"/><stop offset="0.458" stop-color="#2cffd3"/><stop offset="0.479" stop-color="#21ffde"/><stop offset="0.500" stop-color="#1fffe0"/><stop offset="0.521" stop-color="#33ffcc"/><stop offset="0.542" stop-color="#48ffb7"/><stop offset="0.562" stop-color="#5dffa2"/><stop offset="0.583" stop-color="#72ff8d"/><stop offset="0.604" stop-color="#79ff86"/><stop offset="0.625" stop-color="#64ff9b"/><stop offset="0.646" stop-color="#4fffb0"/><stop offset="0.667" stop-color="#3affc5"/><stop offset="0.688" stop-color="#26ffd9"/><stop offset="0.708" stop-color="#20ffdf"/><stop offset="0.729" stop-color="#30ffcf"/><stop offset="0.750" stop-color="#3fffc0"/><stop offset="0.771" stop-color="#4effb1"/><stop offset="0.792" stop-color="#58ffa7"/><stop offset="0.812" stop-color="#63ff9c"/><stop offset="0.833" stop-color="#6dff92"/><stop offset="0.854" stop-color="#77ff88"/><stop offset="0.875" stop-color="#78ff87"/><stop offset="0.896" stop-color="#59ffa6"/><stop offset="0.917" stop-color="#3affc5"/><stop offset="0.938" stop-color="#1bffe4"/><stop offset="0.958" stop-color="#0cfff3"/><stop offset="0.979" stop-color="#00feff"/><stop offset="1.000" stop-color="#00f0ff"/></linearGradient>
</defs>
<rect width="1850" height="1027" fill="#fff"/>
<g transform="translate(114.2 5.4) scale(1.00000 1.00000)">
<g clip-path="url(#clipP)"><g filter="url(#jet)">
<rect x="-40" y="-40" width="538.8" height="426.8" fill="#202020"/>
<rect x="-20" y="-20" width="500" height="390" fill="#000" filter="url(#tbA)"/>
<g filter="url(#bl6)"><ellipse cx="85" cy="42.2" rx="9.6" ry="36.2" fill="#fff" fill-opacity="0.135"/><ellipse cx="146.3" cy="74.6" rx="14.9" ry="17" fill="#fff" fill-opacity="0.230"/><ellipse cx="10" cy="9.8" rx="10.6" ry="10.6" fill="#fff" fill-opacity="0.108"/><ellipse cx="221.3" cy="84.8" rx="8.5" ry="12.8" fill="#fff" fill-opacity="0.108"/><ellipse cx="255.4" cy="33.7" rx="10.6" ry="21.3" fill="#fff" fill-opacity="0.135"/><ellipse cx="251.9" cy="110.3" rx="11.7" ry="23.4" fill="#fff" fill-opacity="0.149"/><ellipse cx="343.1" cy="103.5" rx="10.6" ry="25.6" fill="#fff" fill-opacity="0.216" transform="rotate(5 343.1 103.5)"/><ellipse cx="340.5" cy="71.2" rx="9.6" ry="36.2" fill="#fff" fill-opacity="0.216" transform="rotate(8 340.5 71.2)"/><ellipse cx="333.7" cy="26.9" rx="9.6" ry="19.2" fill="#fff" fill-opacity="0.135"/><ellipse cx="393.3" cy="52.4" rx="9.6" ry="23.4" fill="#fff" fill-opacity="0.135" transform="rotate(-5 393.3 52.4)"/><ellipse cx="451.3" cy="84.8" rx="8.5" ry="19.2" fill="#fff" fill-opacity="0.135"/><ellipse cx="39" cy="319.1" rx="14.9" ry="27.7" fill="#fff" fill-opacity="0.270"/><ellipse cx="117.3" cy="322.5" rx="10.6" ry="12.8" fill="#fff" fill-opacity="0.068"/><ellipse cx="8.3" cy="325.9" rx="8.5" ry="12.8" fill="#fff" fill-opacity="0.081"/><ellipse cx="315" cy="305.5" rx="10.6" ry="23.4" fill="#fff" fill-opacity="0.135"/><ellipse cx="379.7" cy="312.3" rx="10.6" ry="25.6" fill="#fff" fill-opacity="0.135"/><ellipse cx="446.2" cy="325.9" rx="8.5" ry="14.9" fill="#fff" fill-opacity="0.108"/><ellipse cx="280.9" cy="278.2" rx="8.5" ry="14.9" fill="#fff" fill-opacity="0.068"/></g>
<g filter="url(#bl8)"><path d="M-14 108C-11.1 108.4 -2.3 109.5 3.4 110.4C9.1 111.3 13.5 112.1 20 113.5C26.5 114.9 35.6 116.7 42.6 118.9C49.6 121.1 55.5 124 62 126.5C68.5 129.1 74.1 131.4 81.8 134.2C89.5 136.9 99.1 140 108 143C116.9 146 126.6 148.9 135 152C143.4 155.1 150.7 158.6 158.6 161.5C166.5 164.4 174.9 167 182.3 169.5C189.7 172 196.2 173.8 203 176.5C209.8 179.2 216.6 183.1 223 186C229.4 188.9 238.4 192.7 241.5 194" fill="none" stroke="url(#lg1)" stroke-width="43" stroke-linecap="round" stroke-linejoin="round"/><path d="M241.4 193.9C246.2 195.9 261.4 202.1 270.2 205.8C278.9 209.4 285.9 212.5 293.8 215.9C301.7 219.3 309.6 223.2 317.5 226C325.4 228.8 332.1 230 341.1 232.8C350.1 235.6 362 239.5 371.5 242.9C381.1 246.3 390.1 249.1 398.6 253.1C407 257 414.9 262.1 422.2 266.6C429.6 271.1 436.9 275.6 442.5 280.1C448.1 284.6 451 289.1 456 293.6C461.1 298.1 470.1 304.9 472.9 307.1" fill="none" stroke="url(#lg2)" stroke-width="43" stroke-linecap="round" stroke-linejoin="round"/><path d="M-13.7 202.4C-10.9 204.6 -3 211.9 3.2 215.9C9.4 219.8 16.7 221.5 23.5 226C30.2 230.5 36.4 237.3 43.7 242.9C51.1 248.6 59.5 254.8 67.4 259.8C75.3 264.9 84.9 270.4 91 273.3C97.2 276.3 98.9 277.7 104.6 277.4C110.2 277.1 117.5 274 124.8 271.7C132.2 269.3 140.1 267.4 148.5 263.2C156.9 259 167.6 251.4 175.5 246.3C183.4 241.2 189.1 237.3 195.8 232.8C202.6 228.3 210.5 223.2 216.1 219.3C221.7 215.3 225.4 213.4 229.6 209.1C233.8 204.9 239.5 196.5 241.4 193.9" fill="none" stroke="url(#lg3)" stroke-width="43" stroke-linecap="round" stroke-linejoin="round"/><path d="M241.4 193.9C245.7 189.7 259.2 175.1 266.8 168.6C274.4 162.1 279.7 159 287.1 155.1C294.4 151.1 301.7 148.5 310.7 144.9C319.7 141.4 333.2 135.5 341.1 133.8C349 132.1 353 133.5 358 134.8C363.1 136.1 365.4 138.2 371.5 141.5C377.7 144.9 387.9 150.6 395.2 155.1C402.5 159.6 408.2 163.8 415.5 168.6C422.8 173.4 432.4 179.8 439.1 183.8C445.9 187.7 450.4 189.7 456 192.2C461.7 194.8 470.1 197.9 472.9 199" fill="none" stroke="url(#lg4)" stroke-width="43" stroke-linecap="round" stroke-linejoin="round"/></g>
<g filter="url(#bl4_0)"><ellipse cx="19.4" cy="34.5" rx="7.5" ry="7.9" fill="#000" fill-opacity="0.950"/><ellipse cx="39.8" cy="30.3" rx="8.5" ry="8.7" fill="#000" fill-opacity="0.950"/><ellipse cx="62.8" cy="15.8" rx="8.1" ry="9.1" fill="#000" fill-opacity="0.950"/><ellipse cx="67.9" cy="43.9" rx="6.7" ry="7.9" fill="#000" fill-opacity="0.950"/><ellipse cx="105.4" cy="14.9" rx="6.6" ry="7.6" fill="#000" fill-opacity="0.950"/><ellipse cx="137.8" cy="22.6" rx="6.7" ry="6.9" fill="#000" fill-opacity="0.950"/><ellipse cx="159.1" cy="46.4" rx="7.8" ry="10" fill="#000" fill-opacity="0.950"/><ellipse cx="117.3" cy="52.4" rx="6.9" ry="7.4" fill="#000" fill-opacity="0.950"/><ellipse cx="102" cy="69.4" rx="8.4" ry="11.2" fill="#000" fill-opacity="0.950"/><ellipse cx="16.8" cy="71.2" rx="8.2" ry="9.4" fill="#000" fill-opacity="0.950"/><ellipse cx="39.8" cy="76.3" rx="9.4" ry="9.6" fill="#000" fill-opacity="0.950"/><ellipse cx="62.8" cy="89.9" rx="9.1" ry="10" fill="#000" fill-opacity="0.950"/><ellipse cx="85" cy="100.1" rx="6.9" ry="7.2" fill="#000" fill-opacity="0.950"/><ellipse cx="117.3" cy="117.1" rx="7.4" ry="9.5" fill="#000" fill-opacity="0.950"/><ellipse cx="144.6" cy="115.4" rx="7" ry="8.5" fill="#000" fill-opacity="0.950"/><ellipse cx="159.9" cy="117.1" rx="8.4" ry="9.5" fill="#000" fill-opacity="0.950"/><ellipse cx="176.1" cy="101.8" rx="8.1" ry="8.3" fill="#000" fill-opacity="0.950"/><ellipse cx="176.1" cy="135.9" rx="6.7" ry="7.2" fill="#000" fill-opacity="0.950"/><ellipse cx="216.2" cy="158" rx="8.5" ry="9.8" fill="#000" fill-opacity="0.950"/><ellipse cx="204.2" cy="101.8" rx="7.4" ry="9" fill="#000" fill-opacity="0.950"/><ellipse cx="30.5" cy="142.7" rx="7.9" ry="8.7" fill="#000" fill-opacity="0.950"/><ellipse cx="13.4" cy="149.5" rx="8.9" ry="11.1" fill="#000" fill-opacity="0.950"/><ellipse cx="54.3" cy="163.1" rx="7.2" ry="8.7" fill="#000" fill-opacity="0.950"/><ellipse cx="91.8" cy="166.6" rx="8.1" ry="10.5" fill="#000" fill-opacity="0.950"/><ellipse cx="185.5" cy="42.2" rx="8.7" ry="9.6" fill="#000" fill-opacity="0.950"/><ellipse cx="211" cy="25.2" rx="9.4" ry="9.8" fill="#000" fill-opacity="0.950"/><ellipse cx="217.9" cy="71.2" rx="7.8" ry="9.8" fill="#000" fill-opacity="0.950"/><ellipse cx="187.2" cy="76.3" rx="7" ry="8.1" fill="#000" fill-opacity="0.950"/><ellipse cx="110.5" cy="62.6" rx="6.6" ry="8.2" fill="#000" fill-opacity="0.950"/><ellipse cx="108.8" cy="42.2" rx="8.8" ry="10.6" fill="#000" fill-opacity="0.950"/><ellipse cx="257.1" cy="9.8" rx="9.1" ry="10.1" fill="#000" fill-opacity="0.950"/><ellipse cx="311.6" cy="21.7" rx="8.6" ry="10.4" fill="#000" fill-opacity="0.950"/><ellipse cx="286" cy="45.6" rx="8.2" ry="9.6" fill="#000" fill-opacity="0.950"/><ellipse cx="304.8" cy="60.9" rx="9" ry="12" fill="#000" fill-opacity="0.950"/><ellipse cx="321.8" cy="60.9" rx="7.9" ry="9.8" fill="#000" fill-opacity="0.950"/><ellipse cx="250.2" cy="69.4" rx="6.7" ry="8.3" fill="#000" fill-opacity="0.950"/><ellipse cx="269" cy="72.9" rx="8.4" ry="11.4" fill="#000" fill-opacity="0.950"/><ellipse cx="332" cy="91.6" rx="9" ry="9.9" fill="#000" fill-opacity="0.950"/><ellipse cx="355.9" cy="38.8" rx="7.7" ry="9.4" fill="#000" fill-opacity="0.950"/><ellipse cx="371.2" cy="66" rx="6.6" ry="7.6" fill="#000" fill-opacity="0.950"/><ellipse cx="386.5" cy="14.9" rx="7" ry="7.3" fill="#000" fill-opacity="0.950"/><ellipse cx="405.3" cy="38.8" rx="6.7" ry="8.5" fill="#000" fill-opacity="0.950"/><ellipse cx="425.7" cy="78" rx="6.9" ry="7.5" fill="#000" fill-opacity="0.950"/><ellipse cx="441" cy="11.5" rx="7.7" ry="10" fill="#000" fill-opacity="0.950"/><ellipse cx="408.7" cy="88.2" rx="6.7" ry="7.8" fill="#000" fill-opacity="0.950"/><ellipse cx="393.3" cy="113.7" rx="8.1" ry="10.7" fill="#000" fill-opacity="0.950"/><ellipse cx="364.4" cy="108.6" rx="9" ry="11.7" fill="#000" fill-opacity="0.950"/><ellipse cx="315" cy="115.4" rx="7.3" ry="8.4" fill="#000" fill-opacity="0.950"/><ellipse cx="286" cy="110.3" rx="7.6" ry="9.9" fill="#000" fill-opacity="0.950"/><ellipse cx="430.8" cy="122.3" rx="9.4" ry="9.9" fill="#000" fill-opacity="0.950"/><ellipse cx="432.5" cy="141" rx="7" ry="7.6" fill="#000" fill-opacity="0.950"/><ellipse cx="257.1" cy="135.9" rx="7.2" ry="8.4" fill="#000" fill-opacity="0.950"/><ellipse cx="243.4" cy="158" rx="8.3" ry="9" fill="#000" fill-opacity="0.950"/><ellipse cx="400.2" cy="101.8" rx="6.5" ry="7.5" fill="#000" fill-opacity="0.950"/><ellipse cx="417.2" cy="105.2" rx="7.6" ry="9.1" fill="#000" fill-opacity="0.950"/><ellipse cx="294.5" cy="84.8" rx="9.4" ry="11.6" fill="#000" fill-opacity="0.950"/><ellipse cx="280.9" cy="64.3" rx="8" ry="9.8" fill="#000" fill-opacity="0.950"/><ellipse cx="20.2" cy="186.2" rx="8.5" ry="8.7" fill="#000" fill-opacity="0.950"/><ellipse cx="59.4" cy="174.3" rx="9.2" ry="11.7" fill="#000" fill-opacity="0.950"/><ellipse cx="45.8" cy="211.8" rx="9.1" ry="11.7" fill="#000" fill-opacity="0.950"/><ellipse cx="67.9" cy="223.7" rx="7.7" ry="8.7" fill="#000" fill-opacity="0.950"/><ellipse cx="85" cy="210.1" rx="6.8" ry="8.3" fill="#000" fill-opacity="0.950"/><ellipse cx="105.4" cy="187.9" rx="6.7" ry="6.8" fill="#000" fill-opacity="0.950"/><ellipse cx="125.9" cy="182.8" rx="7.1" ry="7.5" fill="#000" fill-opacity="0.950"/><ellipse cx="113.9" cy="228.8" rx="7.5" ry="7.7" fill="#000" fill-opacity="0.950"/><ellipse cx="134.4" cy="211.8" rx="6.5" ry="6.8" fill="#000" fill-opacity="0.950"/><ellipse cx="144.6" cy="239" rx="6.8" ry="7.7" fill="#000" fill-opacity="0.950"/><ellipse cx="158.2" cy="198.2" rx="6.6" ry="8.6" fill="#000" fill-opacity="0.950"/><ellipse cx="168.5" cy="222" rx="8.3" ry="8.8" fill="#000" fill-opacity="0.950"/><ellipse cx="187.2" cy="198.2" rx="7.3" ry="8.1" fill="#000" fill-opacity="0.950"/><ellipse cx="207.6" cy="198.2" rx="7.6" ry="7.9" fill="#000" fill-opacity="0.950"/><ellipse cx="95.2" cy="249.3" rx="9" ry="12.2" fill="#000" fill-opacity="0.950"/><ellipse cx="202.5" cy="262.9" rx="7.9" ry="9.2" fill="#000" fill-opacity="0.950"/><ellipse cx="16.8" cy="274.8" rx="6.8" ry="7" fill="#000" fill-opacity="0.950"/><ellipse cx="50.9" cy="279.9" rx="7.5" ry="8.2" fill="#000" fill-opacity="0.950"/><ellipse cx="62.8" cy="298.7" rx="9" ry="9.5" fill="#000" fill-opacity="0.950"/><ellipse cx="95.2" cy="302.1" rx="6.6" ry="8.8" fill="#000" fill-opacity="0.950"/><ellipse cx="136.1" cy="305.5" rx="8.1" ry="8.5" fill="#000" fill-opacity="0.950"/><ellipse cx="170.2" cy="291.9" rx="8.1" ry="8.2" fill="#000" fill-opacity="0.950"/><ellipse cx="190.6" cy="291.9" rx="8.1" ry="10.9" fill="#000" fill-opacity="0.950"/><ellipse cx="156.5" cy="325.9" rx="9.1" ry="11.3" fill="#000" fill-opacity="0.950"/><ellipse cx="178.7" cy="325.9" rx="7.3" ry="8.2" fill="#000" fill-opacity="0.950"/><ellipse cx="117.3" cy="327.6" rx="7" ry="8.9" fill="#000" fill-opacity="0.950"/><ellipse cx="73.1" cy="331" rx="8.1" ry="10.3" fill="#000" fill-opacity="0.950"/><ellipse cx="221.3" cy="288.4" rx="7.5" ry="8.1" fill="#000" fill-opacity="0.950"/><ellipse cx="18.5" cy="268" rx="8.9" ry="12" fill="#000" fill-opacity="0.950"/><ellipse cx="200.8" cy="322.5" rx="9.1" ry="11.6" fill="#000" fill-opacity="0.950"/><ellipse cx="303.1" cy="186.2" rx="9" ry="11.3" fill="#000" fill-opacity="0.950"/><ellipse cx="335.4" cy="187.9" rx="7.2" ry="8.5" fill="#000" fill-opacity="0.950"/><ellipse cx="359.3" cy="194.7" rx="7.6" ry="7.6" fill="#000" fill-opacity="0.950"/><ellipse cx="379.7" cy="182.8" rx="6.6" ry="7.2" fill="#000" fill-opacity="0.950"/><ellipse cx="389.9" cy="211.8" rx="7.3" ry="9" fill="#000" fill-opacity="0.950"/><ellipse cx="408.7" cy="203.3" rx="9.4" ry="10.8" fill="#000" fill-opacity="0.950"/><ellipse cx="417.2" cy="223.7" rx="9.3" ry="12.5" fill="#000" fill-opacity="0.950"/><ellipse cx="429.1" cy="230.5" rx="9.4" ry="10.6" fill="#000" fill-opacity="0.950"/><ellipse cx="234.9" cy="242.4" rx="7.2" ry="7.7" fill="#000" fill-opacity="0.950"/><ellipse cx="258.8" cy="233.9" rx="7.1" ry="7.6" fill="#000" fill-opacity="0.950"/><ellipse cx="251.9" cy="264.6" rx="8.4" ry="11" fill="#000" fill-opacity="0.950"/><ellipse cx="309.9" cy="257.8" rx="9" ry="10.5" fill="#000" fill-opacity="0.950"/><ellipse cx="332" cy="266.3" rx="8.5" ry="10.8" fill="#000" fill-opacity="0.950"/><ellipse cx="379.7" cy="271.4" rx="6.8" ry="8.3" fill="#000" fill-opacity="0.950"/><ellipse cx="355.9" cy="285" rx="9.2" ry="11.8" fill="#000" fill-opacity="0.950"/><ellipse cx="395" cy="288.4" rx="8.8" ry="10.2" fill="#000" fill-opacity="0.950"/><ellipse cx="425.7" cy="307.2" rx="7" ry="9" fill="#000" fill-opacity="0.950"/><ellipse cx="289.4" cy="305.5" rx="7.5" ry="9.6" fill="#000" fill-opacity="0.950"/><ellipse cx="258.8" cy="319.1" rx="9.4" ry="10.7" fill="#000" fill-opacity="0.950"/><ellipse cx="325.2" cy="331" rx="7.7" ry="10.3" fill="#000" fill-opacity="0.950"/><ellipse cx="355.9" cy="320.8" rx="8.7" ry="9.2" fill="#000" fill-opacity="0.950"/><ellipse cx="454.7" cy="235.6" rx="6.9" ry="7.2" fill="#000" fill-opacity="0.950"/><ellipse cx="349.1" cy="194.7" rx="9.2" ry="11.8" fill="#000" fill-opacity="0.950"/><ellipse cx="263.9" cy="254.4" rx="6.9" ry="8.9" fill="#000" fill-opacity="0.950"/><ellipse cx="325.2" cy="268" rx="9.4" ry="11.6" fill="#000" fill-opacity="0.950"/><ellipse cx="427.4" cy="319.1" rx="7.6" ry="9" fill="#000" fill-opacity="0.950"/></g>
<g filter="url(#bl6)"><path d="M-14 108C-11.1 108.4 -2.3 109.5 3.4 110.4C9.1 111.3 13.5 112.1 20 113.5C26.5 114.9 35.6 116.7 42.6 118.9C49.6 121.1 55.5 124 62 126.5C68.5 129.1 74.1 131.4 81.8 134.2C89.5 136.9 99.1 140 108 143C116.9 146 126.6 148.9 135 152C143.4 155.1 150.7 158.6 158.6 161.5C166.5 164.4 174.9 167 182.3 169.5C189.7 172 196.2 173.8 203 176.5C209.8 179.2 216.6 183.1 223 186C229.4 188.9 238.4 192.7 241.5 194" fill="none" stroke="url(#lg5)" stroke-width="14" stroke-linecap="round" stroke-linejoin="round"/><path d="M241.4 193.9C246.2 195.9 261.4 202.1 270.2 205.8C278.9 209.4 285.9 212.5 293.8 215.9C301.7 219.3 309.6 223.2 317.5 226C325.4 228.8 332.1 230 341.1 232.8C350.1 235.6 362 239.5 371.5 242.9C381.1 246.3 390.1 249.1 398.6 253.1C407 257 414.9 262.1 422.2 266.6C429.6 271.1 436.9 275.6 442.5 280.1C448.1 284.6 451 289.1 456 293.6C461.1 298.1 470.1 304.9 472.9 307.1" fill="none" stroke="url(#lg6)" stroke-width="14" stroke-linecap="round" stroke-linejoin="round"/><path d="M-13.7 202.4C-10.9 204.6 -3 211.9 3.2 215.9C9.4 219.8 16.7 221.5 23.5 226C30.2 230.5 36.4 237.3 43.7 242.9C51.1 248.6 59.5 254.8 67.4 259.8C75.3 264.9 84.9 270.4 91 273.3C97.2 276.3 98.9 277.7 104.6 277.4C110.2 277.1 117.5 274 124.8 271.7C132.2 269.3 140.1 267.4 148.5 263.2C156.9 259 167.6 251.4 175.5 246.3C183.4 241.2 189.1 237.3 195.8 232.8C202.6 228.3 210.5 223.2 216.1 219.3C221.7 215.3 225.4 213.4 229.6 209.1C233.8 204.9 239.5 196.5 241.4 193.9" fill="none" stroke="url(#lg7)" stroke-width="14" stroke-linecap="round" stroke-linejoin="round"/><path d="M241.4 193.9C245.7 189.7 259.2 175.1 266.8 168.6C274.4 162.1 279.7 159 287.1 155.1C294.4 151.1 301.7 148.5 310.7 144.9C319.7 141.4 333.2 135.5 341.1 133.8C349 132.1 353 133.5 358 134.8C363.1 136.1 365.4 138.2 371.5 141.5C377.7 144.9 387.9 150.6 395.2 155.1C402.5 159.6 408.2 163.8 415.5 168.6C422.8 173.4 432.4 179.8 439.1 183.8C445.9 187.7 450.4 189.7 456 192.2C461.7 194.8 470.1 197.9 472.9 199" fill="none" stroke="url(#lg8)" stroke-width="14" stroke-linecap="round" stroke-linejoin="round"/></g>
<g filter="url(#bl6)"><ellipse cx="282" cy="183.8" rx="15" ry="20" fill="#fff" fill-opacity="0.300"/></g>
<g filter="url(#bl2_5)"><ellipse cx="276.2" cy="183.1" rx="5.2" ry="6.2" fill="#000" fill-opacity="0.900"/><ellipse cx="185.7" cy="197.3" rx="5.5" ry="6.6" fill="#000" fill-opacity="0.900"/><ellipse cx="206.6" cy="197.3" rx="5" ry="6" fill="#000" fill-opacity="0.900"/><ellipse cx="304" cy="188.9" rx="5" ry="6" fill="#000" fill-opacity="0.900"/></g>
<g filter="url(#bl4_5)"><path d="M225.8 208.9L230.3 184.9L253.8 179.4L259.3 189.9L257.8 200.9L236.8 210.4Z" fill="#fff" fill-opacity="0.74"/></g>
<g filter="url(#bl3_5)"><ellipse cx="239.8" cy="195.9" rx="5.5" ry="4.5" fill="#fff" fill-opacity="0.620" transform="rotate(-30 239.8 195.9)"/></g>
</g>
</g>
<path d="M93.2 345.8v-4.6M93.2 1v4.6M184.4 345.8v-4.6M184.4 1v4.6M275.6 345.8v-4.6M275.6 1v4.6M366.8 345.8v-4.6M366.8 1v4.6M1 290.2h5.2M457.8 290.2h-4.6M1 236.7h5.2M457.8 236.7h-4.6M1 183.3h5.2M457.8 183.3h-4.6M1 129.8h5.2M457.8 129.8h-4.6M1 76.4h5.2M457.8 76.4h-4.6M1 22.9h5.2M457.8 22.9h-4.6" stroke="#262626" stroke-width="1.5" stroke-opacity="0.7" fill="none"/>
<path d="M458.15 0.4V346.6" fill="none" stroke="#14143c" stroke-width="1.3" stroke-opacity="0.92"/>
<path d="M0.4 345.45H458.7" fill="none" stroke="#14143c" stroke-width="2.4" stroke-opacity="0.92"/>
<path d="M1.3 346.65000000000003V1.3H458.7" fill="none" stroke="#262626" stroke-width="2.6"/>
</g>
<g class="tk">
<text x="108.4" y="311.1" text-anchor="end">20</text>
<text x="108.4" y="257.7" text-anchor="end">40</text>
<text x="108.4" y="204.3" text-anchor="end">60</text>
<text x="108.4" y="150.8" text-anchor="end">80</text>
<text x="108.4" y="97.4" text-anchor="end">100</text>
<text x="108.4" y="43.9" text-anchor="end">120</text>
<text x="116.2" y="395.1" text-anchor="middle">0</text>
<text x="207.4" y="395.1" text-anchor="middle">0.2</text>
<text x="298.6" y="395.1" text-anchor="middle">0.4</text>
<text x="389.8" y="395.1" text-anchor="middle">0.6</text>
<text x="481.0" y="395.1" text-anchor="middle">0.8</text>
<text x="572.2" y="395.1" text-anchor="middle">1</text>
<text x="344.0" y="439.6" text-anchor="middle">Time / s</text>
<text transform="translate(36.8 178.9) rotate(-90)" text-anchor="middle">Freq / Hz</text>
</g>
<text class="cap" x="347.5" y="489.0" text-anchor="middle" stroke="#000" stroke-width="0.15">(a)</text>
<g transform="translate(746.4 5.3) scale(1.00196 1.00202)">
<g clip-path="url(#clipP)"><g filter="url(#jet)">
<rect x="-40" y="-40" width="538.8" height="426.8" fill="#040404"/>
<rect x="-20" y="-20" width="500" height="390" fill="#000" filter="url(#tbB)"/>
<g filter="url(#bl3_0)"><path d="M50.4 6.4C50.4 12 50.7 28.3 50.4 40.2C50.1 52 48.7 65.5 48.7 77.3C48.7 89.2 50.1 105.5 50.4 111.1" fill="none" stroke="#fff" stroke-opacity="0.125" stroke-width="6" stroke-linecap="round" stroke-linejoin="round"/><path d="M111.2 16.5C114 22.1 123.1 38.5 128.1 50.3C133.2 62.1 138.3 72.3 141.6 87.5C145 102.7 147.3 132.5 148.4 141.5" fill="none" stroke="#fff" stroke-opacity="0.088" stroke-width="5.5" stroke-linecap="round" stroke-linejoin="round"/><path d="M158.5 143.2C162.5 142.1 173.7 138.6 182.2 136.5C190.6 134.4 200.2 133.3 209.2 130.7C218.2 128.2 227.8 124.2 236.3 121.3C244.7 118.3 256 114.2 259.9 112.8" fill="none" stroke="#fff" stroke-opacity="0.163" stroke-width="6.5" stroke-linecap="round" stroke-linejoin="round"/><path d="M303.9 6.4C299.4 10.9 288.1 24.4 276.8 33.4C265.6 42.4 250.9 52.8 236.3 60.4C221.6 68 203 75.6 189 79C174.9 82.4 158 80.4 151.8 80.7" fill="none" stroke="#fff" stroke-opacity="0.075" stroke-width="6.5" stroke-linecap="round" stroke-linejoin="round"/><path d="M232.9 80.7C235.1 84.1 240.8 93.7 246.4 101C252 108.3 263.3 120.7 266.7 124.6" fill="none" stroke="#fff" stroke-opacity="0.075" stroke-width="5.5" stroke-linecap="round" stroke-linejoin="round"/><path d="M351.2 43.5C352.4 47.5 357.5 59.3 358.6 67.2C359.7 75.1 359.7 82.4 357.9 90.8C356.1 99.3 349.5 113.4 347.8 117.9" fill="none" stroke="#fff" stroke-opacity="0.175" stroke-width="6.5" stroke-linecap="round" stroke-linejoin="round"/><path d="M422.1 30C425 34.5 433.7 47.5 439 57.1C444.4 66.6 451.7 82.4 454.2 87.5" fill="none" stroke="#fff" stroke-opacity="0.163" stroke-width="6.5" stroke-linecap="round" stroke-linejoin="round"/><path d="M364.7 53.7C371.4 54.8 393.4 56.5 405.2 60.4C417.1 64.4 427.5 69.4 435.7 77.3C443.8 85.2 451.1 102.7 454.2 107.7" fill="none" stroke="#fff" stroke-opacity="0.112" stroke-width="6" stroke-linecap="round" stroke-linejoin="round"/><path d="M381.6 129.7C385.5 128 397.4 123 405.2 119.6C413.1 116.2 425 111.1 428.9 109.4" fill="none" stroke="#fff" stroke-opacity="0.163" stroke-width="6.5" stroke-linecap="round" stroke-linejoin="round"/><path d="M30.1 209.1C33.5 207.7 42.5 203.8 50.4 200.7C58.3 197.6 72.9 192.2 77.4 190.5" fill="none" stroke="#fff" stroke-opacity="0.175" stroke-width="7.5" stroke-linecap="round" stroke-linejoin="round"/><path d="M74.7 158.4C75.1 160.1 76.2 164.9 76.8 168.6C77.3 172.2 77.9 178.4 78.1 180.4" fill="none" stroke="#fff" stroke-opacity="0.150" stroke-width="6.5" stroke-linecap="round" stroke-linejoin="round"/><path d="M107.8 112.8L118 99.3" fill="none" stroke="#fff" stroke-opacity="0.150" stroke-width="6.5" stroke-linecap="round" stroke-linejoin="round"/><path d="M121.4 283.5C118.5 286.3 112.4 293.3 104.5 300.4C96.6 307.4 79.1 321.5 74 325.7" fill="none" stroke="#fff" stroke-opacity="0.100" stroke-width="6" stroke-linecap="round" stroke-linejoin="round"/><path d="M187.3 266.6C189.2 269.4 194.9 278.4 199.1 283.5C203.3 288.5 210.4 294.7 212.6 297" fill="none" stroke="#fff" stroke-opacity="0.150" stroke-width="6.5" stroke-linecap="round" stroke-linejoin="round"/><path d="M84.2 340.9C93.8 340.4 124.2 340.4 141.6 337.6C159.1 334.7 176 330.2 189 324C201.9 317.8 210.4 308.5 219.4 300.4C228.4 292.2 239.1 279.3 243 275" fill="none" stroke="#fff" stroke-opacity="0.100" stroke-width="6.5" stroke-linecap="round" stroke-linejoin="round"/><path d="M283.6 259.8C285.8 264.3 290.9 280.1 297.1 286.9C303.3 293.6 309.5 297.8 320.8 300.4C332 302.9 350.6 302.3 364.7 302.1C378.8 301.8 393.4 296.7 405.2 298.7C417.1 300.7 427.8 307.4 435.7 313.9C443.5 320.4 449.7 333.6 452.6 337.6" fill="none" stroke="#fff" stroke-opacity="0.112" stroke-width="6.5" stroke-linecap="round" stroke-linejoin="round"/><path d="M344.4 285.2C345.5 282.6 348.6 274.7 351.2 270C353.7 265.2 358.2 258.7 359.6 256.4" fill="none" stroke="#fff" stroke-opacity="0.125" stroke-width="6.5" stroke-linecap="round" stroke-linejoin="round"/><path d="M379.9 221C380.6 219 382.9 213.1 384.3 209.1C385.7 205.2 387.7 199.3 388.3 197.3" fill="none" stroke="#fff" stroke-opacity="0.175" stroke-width="6.5" stroke-linecap="round" stroke-linejoin="round"/><path d="M6.5 266.6C9.3 270.5 17.7 282.9 23.4 290.2C29 297.6 35.7 302.1 40.3 310.5C44.8 319 48.7 335.9 50.4 340.9" fill="none" stroke="#fff" stroke-opacity="0.100" stroke-width="6.5" stroke-linecap="round" stroke-linejoin="round"/><path d="M3.1 158.4C4.8 161.3 12.1 169.1 13.2 175.3C14.3 181.5 10.4 192.2 9.8 195.6" fill="none" stroke="#fff" stroke-opacity="0.075" stroke-width="6.5" stroke-linecap="round" stroke-linejoin="round"/><path d="M290.3 168.6L293 177" fill="none" stroke="#fff" stroke-opacity="0.200" stroke-width="5.5" stroke-linecap="round" stroke-linejoin="round"/><path d="M303.9 77.3L307.2 97.6" fill="none" stroke="#fff" stroke-opacity="0.075" stroke-width="5.5" stroke-linecap="round" stroke-linejoin="round"/><path d="M297.1 246.3L300.5 259.8" fill="none" stroke="#fff" stroke-opacity="0.100" stroke-width="5.5" stroke-linecap="round" stroke-linejoin="round"/><path d="M454.2 202.4C454.4 208 455.3 224.9 455.3 236.2C455.3 247.4 454.4 264.3 454.2 270" fill="none" stroke="#fff" stroke-opacity="0.125" stroke-width="6.5" stroke-linecap="round" stroke-linejoin="round"/><path d="M145 148.3L150.1 141.5" fill="none" stroke="#fff" stroke-opacity="0.250" stroke-width="5.5" stroke-linecap="round" stroke-linejoin="round"/><path d="M33.5 324L67.3 303.8" fill="none" stroke="#fff" stroke-opacity="0.062" stroke-width="5.5" stroke-linecap="round" stroke-linejoin="round"/><path d="M398.5 19.9L425.5 46.9" fill="none" stroke="#fff" stroke-opacity="0.062" stroke-width="5.5" stroke-linecap="round" stroke-linejoin="round"/></g>
<g filter="url(#bl3_0)"><path d="M-10.4 107.1C-8.7 107.3 -5.4 107.7 -0.3 108.4C4.8 109.1 12.7 109.6 20 111.1C27.3 112.6 35.7 114.8 43.6 117.5C51.5 120.3 58.8 124.2 67.3 127.7C75.7 131.1 85.9 134.9 94.3 138.2C102.8 141.4 110.7 144.4 118 147.3C125.3 150.2 132.6 153.3 138.3 155.7C143.9 158.2 145.6 159.6 151.8 161.8C158 164.1 167 166.6 175.4 169.3C183.9 171.9 194.6 175 202.5 177.7C210.4 180.4 217.1 183.2 222.7 185.5C228.4 187.8 232.3 189.9 236.3 191.6C240.2 193.2 241.3 193.7 246.4 195.6C251.5 197.5 259.9 200.5 266.7 203C273.4 205.6 280.8 208.6 287 211.2C293.2 213.7 297.7 216.1 303.9 218.6C310.1 221.1 316.2 223.1 324.1 226C332 229 342.2 232.8 351.2 236.2C360.2 239.5 369.2 242.9 378.2 246.3C387.2 249.7 396.2 253.1 405.2 256.4C414.3 259.8 425.5 263.8 432.3 266.6C439 269.4 443.5 272.2 445.8 273.3" fill="none" stroke="url(#lg9)" stroke-width="9" stroke-linecap="round" stroke-linejoin="round"/><path d="M425.5 261.2C427.9 262.5 436.1 266.2 440 269C443.9 271.8 446.9 274.2 449 278C451.1 281.8 452.2 287.2 452.8 291.9C453.4 296.6 452.8 301.8 452.5 306C452.2 310.2 452.2 313.4 451.1 317.4C450 321.4 447.9 326.6 446 330C444.1 333.4 441 336.7 440 338" fill="none" stroke="#fff" stroke-opacity="0.200" stroke-width="7.5" stroke-linecap="round" stroke-linejoin="round"/><path d="M1.4 182.1C2.1 185.5 3.8 196.2 5.8 202.4C7.8 208.6 9.7 214.2 13.2 219.3C16.7 224.3 21.1 228.3 26.7 232.8C32.4 237.3 40.3 242.1 47 246.3C53.8 250.5 60.5 254.5 67.3 258.1C74 261.8 80.8 265.6 87.6 268.3C94.3 270.9 101.6 272.8 107.8 274C114 275.2 119.1 275.8 124.7 275.4C130.4 275 136 273.7 141.6 271.7C147.3 269.6 152.9 266.6 158.5 263.2C164.2 259.8 169.8 255.6 175.4 251.4C181.1 247.1 186.7 242.2 192.3 237.9C198 233.5 203.6 229.6 209.2 225.4C214.9 221.1 221.6 216.1 226.1 212.5C230.6 209 232.9 206.9 236.3 204.1C239.6 201.2 243 198.8 246.4 195.6C249.8 192.4 253.2 188.6 256.5 184.8C259.9 181 262.7 176.9 266.7 172.6C270.6 168.4 275.1 163.1 280.2 159.1C285.3 155.2 290.9 151.8 297.1 149C303.3 146.2 310.6 144 317.4 142.2C324.1 140.4 331.5 139.4 337.7 138.2C343.8 136.9 350.3 135.2 354.5 134.8C358.8 134.3 360.2 134.6 363 135.5C365.8 136.3 367.8 137.7 371.4 139.9C375.1 142 379.3 144.6 385 148.3C390.6 152 398.5 157.3 405.2 161.8C412 166.3 419.3 170.8 425.5 175.3C431.7 179.8 437.3 184.1 442.4 188.9C447.5 193.6 452 199 455.9 204.1C459.9 209.1 464.4 216.7 466.1 219.3" fill="none" stroke="url(#lg10)" stroke-width="9" stroke-linecap="round" stroke-linejoin="round"/></g>
<g filter="url(#bl1_8)"><path d="M-10.4 107.1C-8.7 107.3 -5.4 107.7 -0.3 108.4C4.8 109.1 12.7 109.6 20 111.1C27.3 112.6 35.7 114.8 43.6 117.5C51.5 120.3 58.8 124.2 67.3 127.7C75.7 131.1 85.9 134.9 94.3 138.2C102.8 141.4 110.7 144.4 118 147.3C125.3 150.2 132.6 153.3 138.3 155.7C143.9 158.2 145.6 159.6 151.8 161.8C158 164.1 167 166.6 175.4 169.3C183.9 171.9 194.6 175 202.5 177.7C210.4 180.4 217.1 183.2 222.7 185.5C228.4 187.8 232.3 189.9 236.3 191.6C240.2 193.2 241.3 193.7 246.4 195.6C251.5 197.5 259.9 200.5 266.7 203C273.4 205.6 280.8 208.6 287 211.2C293.2 213.7 297.7 216.1 303.9 218.6C310.1 221.1 316.2 223.1 324.1 226C332 229 342.2 232.8 351.2 236.2C360.2 239.5 369.2 242.9 378.2 246.3C387.2 249.7 396.2 253.1 405.2 256.4C414.3 259.8 425.5 263.8 432.3 266.6C439 269.4 443.5 272.2 445.8 273.3" fill="none" stroke="url(#lg11)" stroke-width="4.6" stroke-linecap="round" stroke-linejoin="round"/><path d="M1.4 182.1C2.1 185.5 3.8 196.2 5.8 202.4C7.8 208.6 9.7 214.2 13.2 219.3C16.7 224.3 21.1 228.3 26.7 232.8C32.4 237.3 40.3 242.1 47 246.3C53.8 250.5 60.5 254.5 67.3 258.1C74 261.8 80.8 265.6 87.6 268.3C94.3 270.9 101.6 272.8 107.8 274C114 275.2 119.1 275.8 124.7 275.4C130.4 275 136 273.7 141.6 271.7C147.3 269.6 152.9 266.6 158.5 263.2C164.2 259.8 169.8 255.6 175.4 251.4C181.1 247.1 186.7 242.2 192.3 237.9C198 233.5 203.6 229.6 209.2 225.4C214.9 221.1 221.6 216.1 226.1 212.5C230.6 209 232.9 206.9 236.3 204.1C239.6 201.2 243 198.8 246.4 195.6C249.8 192.4 253.2 188.6 256.5 184.8C259.9 181 262.7 176.9 266.7 172.6C270.6 168.4 275.1 163.1 280.2 159.1C285.3 155.2 290.9 151.8 297.1 149C303.3 146.2 310.6 144 317.4 142.2C324.1 140.4 331.5 139.4 337.7 138.2C343.8 136.9 350.3 135.2 354.5 134.8C358.8 134.3 360.2 134.6 363 135.5C365.8 136.3 367.8 137.7 371.4 139.9C375.1 142 379.3 144.6 385 148.3C390.6 152 398.5 157.3 405.2 161.8C412 166.3 419.3 170.8 425.5 175.3C431.7 179.8 437.3 184.1 442.4 188.9C447.5 193.6 452 199 455.9 204.1C459.9 209.1 464.4 216.7 466.1 219.3" fill="none" stroke="url(#lg12)" stroke-width="4.6" stroke-linecap="round" stroke-linejoin="round"/></g>
<g filter="url(#bl2_0)"><ellipse cx="247.1" cy="195.6" rx="5.5" ry="4" fill="#fff" fill-opacity="0.950" transform="rotate(10 247.1 195.6)"/></g>
</g>
</g>
<path d="M93.2 345.8v-4.6M93.2 1v4.6M184.4 345.8v-4.6M184.4 1v4.6M275.6 345.8v-4.6M275.6 1v4.6M366.8 345.8v-4.6M366.8 1v4.6M1 290.2h5.2M457.8 290.2h-4.6M1 236.7h5.2M457.8 236.7h-4.6M1 183.3h5.2M457.8 183.3h-4.6M1 129.8h5.2M457.8 129.8h-4.6M1 76.4h5.2M457.8 76.4h-4.6M1 22.9h5.2M457.8 22.9h-4.6" stroke="#262626" stroke-width="1.5" stroke-opacity="0.7" fill="none"/>
<path d="M457.60 0.4V346.6" fill="none" stroke="#1a1a3a" stroke-width="2.4" stroke-opacity="0.92"/>
<path d="M0.4 345.25H458.7" fill="none" stroke="#1a1a3a" stroke-width="2.8" stroke-opacity="0.92"/>
<path d="M1.3 346.65000000000003V1.3H458.7" fill="none" stroke="#262626" stroke-width="2.6"/>
</g>
<g class="tk">
<text x="740.6" y="311.7" text-anchor="end">20</text>
<text x="740.6" y="258.1" text-anchor="end">40</text>
<text x="740.6" y="204.6" text-anchor="end">60</text>
<text x="740.6" y="151.0" text-anchor="end">80</text>
<text x="740.6" y="97.4" text-anchor="end">100</text>
<text x="740.6" y="43.9" text-anchor="end">120</text>
<text x="748.4" y="395.8" text-anchor="middle">0</text>
<text x="839.8" y="395.8" text-anchor="middle">0.2</text>
<text x="931.2" y="395.8" text-anchor="middle">0.4</text>
<text x="1022.5" y="395.8" text-anchor="middle">0.6</text>
<text x="1113.9" y="395.8" text-anchor="middle">0.8</text>
<text x="1205.3" y="395.8" text-anchor="middle">1</text>
<text x="976.7" y="440.4" text-anchor="middle">Time / s</text>
<text transform="translate(668.8 179.2) rotate(-90)" text-anchor="middle">Freq / Hz</text>
</g>
<text class="cap" x="975.6" y="489.0" text-anchor="middle" stroke="#000" stroke-width="0.5">(b)</text>
<g transform="translate(1383.0 5.5) scale(1.00109 1.00058)">
<g clip-path="url(#clipP)"><g filter="url(#jet)">
<rect x="-40" y="-40" width="538.8" height="426.8" fill="#090909"/>
<g filter="url(#bl12)"><path d="M13 108.5C14.2 108.9 12.5 108.2 20.3 111.1C28.1 114 46.7 120.9 60 125.8C73.3 130.7 86.7 135.6 100 140.5C113.3 145.4 127.2 150.6 140 155.3C152.8 160 165.3 164.2 177 168.5C188.7 172.8 201.5 177.7 210 181C218.5 184.3 222 186.2 228.1 188.5C234.2 190.8 238.3 191.6 246.8 194.6C255.3 197.6 265.3 201.2 279.2 206.5C293.1 211.8 314.9 220.6 330.3 226.5C345.7 232.4 358.9 237.1 371.7 241.9C384.5 246.7 396.9 251.6 407 255.5C417.1 259.4 424.7 262.5 432 265.5C439.3 268.5 447.8 272.2 451 273.5" fill="none" stroke="#fff" stroke-opacity="0.050" stroke-width="70" stroke-linecap="round" stroke-linejoin="round"/><path d="M8.4 195.6C9.3 197.9 11.5 204.6 13.5 209.1C15.5 213.6 16.9 218.1 20.3 222.6C23.7 227.2 28.2 231.7 33.8 236.2C39.4 240.7 47.3 245.5 54.1 249.7C60.8 253.9 67.6 258.1 74.3 261.5C81.1 264.9 87.9 267.7 94.6 270C101.4 272.2 108.1 274.5 114.9 275C121.7 275.6 129 274.7 135.2 273.3C141.4 271.9 146.4 269.4 152.1 266.6C157.7 263.8 162.8 260.7 169 256.4C175.2 252.2 182.5 246.3 189.3 241.2C196 236.2 203.3 230.8 209.5 226C215.7 221.2 221.9 216.2 226.4 212.5C230.9 208.8 233.2 207 236.6 204.1C239.9 201.1 243.3 198.1 246.7 194.9C250.1 191.7 253.5 188.1 256.8 184.8C260.2 181.5 263 178.7 267 175.3C270.9 172 275.4 168.1 280.5 164.5C285.6 160.9 291.2 157 297.4 153.7C303.6 150.4 310.9 147.4 317.7 144.9C324.4 142.4 331.2 140.5 338 138.8C344.7 137.2 352.6 134.9 358.2 135.1C363.9 135.3 366.7 137.5 371.7 139.9C376.8 142.2 383 145.5 388.6 149C394.3 152.5 399.9 156.9 405.5 160.8C411.2 164.7 417.4 168.7 422.4 172.6C427.5 176.6 431.7 180.3 436 184.5C440.2 188.6 445.8 195.2 447.8 197.3" fill="none" stroke="#fff" stroke-opacity="0.050" stroke-width="70" stroke-linecap="round" stroke-linejoin="round"/><ellipse cx="118.3" cy="209.1" rx="87.9" ry="37.2" fill="#fff" fill-opacity="0.030"/><ellipse cx="354.8" cy="188.9" rx="74.3" ry="40.6" fill="#fff" fill-opacity="0.040"/><ellipse cx="253.5" cy="263.2" rx="111.5" ry="37.2" fill="#fff" fill-opacity="0.040"/><ellipse cx="84.5" cy="297" rx="67.6" ry="30.4" fill="#fff" fill-opacity="0.035"/><ellipse cx="398.8" cy="297" rx="50.7" ry="23.7" fill="#fff" fill-opacity="0.030"/><ellipse cx="398.8" cy="87.5" rx="43.9" ry="30.4" fill="#fff" fill-opacity="0.040"/><ellipse cx="101.4" cy="101" rx="37.2" ry="27" fill="#fff" fill-opacity="0.030"/><ellipse cx="287.3" cy="111.1" rx="47.3" ry="23.7" fill="#fff" fill-opacity="0.030"/></g>
<g mask="url(#tbCm)"><rect x="-20" y="-20" width="500" height="390" fill="#000" filter="url(#tbC)"/></g>
<g filter="url(#bl1_8)"><ellipse cx="145.3" cy="147.3" rx="6.1" ry="3" fill="#fff" fill-opacity="0.280" transform="rotate(25 145.3 147.3)"/><ellipse cx="277.8" cy="178" rx="4.7" ry="6.1" fill="#fff" fill-opacity="0.260" transform="rotate(20 277.8 178)"/><ellipse cx="267" cy="202.4" rx="8.8" ry="3" fill="#fff" fill-opacity="0.260" transform="rotate(12 267 202.4)"/><ellipse cx="341.3" cy="128" rx="4.1" ry="5.4" fill="#fff" fill-opacity="0.200"/><ellipse cx="290.6" cy="155.7" rx="7.4" ry="3" fill="#fff" fill-opacity="0.220" transform="rotate(-30 290.6 155.7)"/><ellipse cx="338" cy="156.7" rx="7.4" ry="2.7" fill="#fff" fill-opacity="0.180" transform="rotate(10 338 156.7)"/><ellipse cx="375.1" cy="161.8" rx="6.8" ry="2.7" fill="#fff" fill-opacity="0.150" transform="rotate(25 375.1 161.8)"/><ellipse cx="128.4" cy="246.3" rx="3.4" ry="4.1" fill="#fff" fill-opacity="0.160"/><ellipse cx="121.7" cy="148.3" rx="3.4" ry="3.4" fill="#fff" fill-opacity="0.120"/><ellipse cx="50.7" cy="114.5" rx="8.4" ry="3.4" fill="#fff" fill-opacity="0.160" transform="rotate(20 50.7 114.5)"/><ellipse cx="199.4" cy="202.4" rx="4.7" ry="2.7" fill="#fff" fill-opacity="0.140"/><ellipse cx="212.9" cy="205.8" rx="3.4" ry="2.7" fill="#fff" fill-opacity="0.140"/><ellipse cx="439.3" cy="67.2" rx="6.1" ry="10.1" fill="#fff" fill-opacity="0.100"/><ellipse cx="436" cy="188.9" rx="5.4" ry="6.1" fill="#fff" fill-opacity="0.120"/><ellipse cx="20.3" cy="215.9" rx="4.1" ry="8.4" fill="#fff" fill-opacity="0.150"/><ellipse cx="81.1" cy="116.2" rx="4.7" ry="2.7" fill="#fff" fill-opacity="0.140"/><ellipse cx="101.4" cy="124.6" rx="4.7" ry="2.7" fill="#fff" fill-opacity="0.140"/><ellipse cx="239.9" cy="158.4" rx="3.4" ry="2.7" fill="#fff" fill-opacity="0.100"/><ellipse cx="256.8" cy="214.2" rx="5.4" ry="2.7" fill="#fff" fill-opacity="0.200" transform="rotate(5 256.8 214.2)"/><ellipse cx="290.6" cy="229.4" rx="4.1" ry="2.7" fill="#fff" fill-opacity="0.120"/><ellipse cx="305.8" cy="164.5" rx="3.4" ry="4.7" fill="#fff" fill-opacity="0.180" transform="rotate(15 305.8 164.5)"/><ellipse cx="319.4" cy="158.4" rx="2.7" ry="4.7" fill="#fff" fill-opacity="0.160" transform="rotate(15 319.4 158.4)"/><ellipse cx="297.4" cy="141.5" rx="8.8" ry="2.7" fill="#fff" fill-opacity="0.200" transform="rotate(-28 297.4 141.5)"/><ellipse cx="324.4" cy="133.1" rx="10.1" ry="2.7" fill="#fff" fill-opacity="0.160" transform="rotate(-18 324.4 133.1)"/></g>
<g filter="url(#bl1_9)"><path d="M13 108.5C14.2 108.9 12.5 108.2 20.3 111.1C28.1 114 46.7 120.9 60 125.8C73.3 130.7 86.7 135.6 100 140.5C113.3 145.4 127.2 150.6 140 155.3C152.8 160 165.3 164.2 177 168.5C188.7 172.8 201.5 177.7 210 181C218.5 184.3 222 186.2 228.1 188.5C234.2 190.8 238.3 191.6 246.8 194.6C255.3 197.6 265.3 201.2 279.2 206.5C293.1 211.8 314.9 220.6 330.3 226.5C345.7 232.4 358.9 237.1 371.7 241.9C384.5 246.7 396.9 251.6 407 255.5C417.1 259.4 424.7 262.5 432 265.5C439.3 268.5 447.8 272.2 451 273.5" fill="none" stroke="url(#lg13)" stroke-width="4.2" stroke-linecap="round" stroke-linejoin="round"/><path d="M8.4 195.6C9.3 197.9 11.5 204.6 13.5 209.1C15.5 213.6 16.9 218.1 20.3 222.6C23.7 227.2 28.2 231.7 33.8 236.2C39.4 240.7 47.3 245.5 54.1 249.7C60.8 253.9 67.6 258.1 74.3 261.5C81.1 264.9 87.9 267.7 94.6 270C101.4 272.2 108.1 274.5 114.9 275C121.7 275.6 129 274.7 135.2 273.3C141.4 271.9 146.4 269.4 152.1 266.6C157.7 263.8 162.8 260.7 169 256.4C175.2 252.2 182.5 246.3 189.3 241.2C196 236.2 203.3 230.8 209.5 226C215.7 221.2 221.9 216.2 226.4 212.5C230.9 208.8 233.2 207 236.6 204.1C239.9 201.1 243.3 198.1 246.7 194.9C250.1 191.7 253.5 188.1 256.8 184.8C260.2 181.5 263 178.7 267 175.3C270.9 172 275.4 168.1 280.5 164.5C285.6 160.9 291.2 157 297.4 153.7C303.6 150.4 310.9 147.4 317.7 144.9C324.4 142.4 331.2 140.5 338 138.8C344.7 137.2 352.6 134.9 358.2 135.1C363.9 135.3 366.7 137.5 371.7 139.9C376.8 142.2 383 145.5 388.6 149C394.3 152.5 399.9 156.9 405.5 160.8C411.2 164.7 417.4 168.7 422.4 172.6C427.5 176.6 431.7 180.3 436 184.5C440.2 188.6 445.8 195.2 447.8 197.3" fill="none" stroke="url(#lg14)" stroke-width="4.2" stroke-linecap="round" stroke-linejoin="round"/></g>
<g filter="url(#bl1_2)"><path d="M13 108.5C14.2 108.9 12.5 108.2 20.3 111.1C28.1 114 46.7 120.9 60 125.8C73.3 130.7 86.7 135.6 100 140.5C113.3 145.4 127.2 150.6 140 155.3C152.8 160 165.3 164.2 177 168.5C188.7 172.8 201.5 177.7 210 181C218.5 184.3 222 186.2 228.1 188.5C234.2 190.8 238.3 191.6 246.8 194.6C255.3 197.6 265.3 201.2 279.2 206.5C293.1 211.8 314.9 220.6 330.3 226.5C345.7 232.4 358.9 237.1 371.7 241.9C384.5 246.7 396.9 251.6 407 255.5C417.1 259.4 424.7 262.5 432 265.5C439.3 268.5 447.8 272.2 451 273.5" fill="none" stroke="url(#lg15)" stroke-width="2.6" stroke-linecap="round" stroke-linejoin="round"/><path d="M8.4 195.6C9.3 197.9 11.5 204.6 13.5 209.1C15.5 213.6 16.9 218.1 20.3 222.6C23.7 227.2 28.2 231.7 33.8 236.2C39.4 240.7 47.3 245.5 54.1 249.7C60.8 253.9 67.6 258.1 74.3 261.5C81.1 264.9 87.9 267.7 94.6 270C101.4 272.2 108.1 274.5 114.9 275C121.7 275.6 129 274.7 135.2 273.3C141.4 271.9 146.4 269.4 152.1 266.6C157.7 263.8 162.8 260.7 169 256.4C175.2 252.2 182.5 246.3 189.3 241.2C196 236.2 203.3 230.8 209.5 226C215.7 221.2 221.9 216.2 226.4 212.5C230.9 208.8 233.2 207 236.6 204.1C239.9 201.1 243.3 198.1 246.7 194.9C250.1 191.7 253.5 188.1 256.8 184.8C260.2 181.5 263 178.7 267 175.3C270.9 172 275.4 168.1 280.5 164.5C285.6 160.9 291.2 157 297.4 153.7C303.6 150.4 310.9 147.4 317.7 144.9C324.4 142.4 331.2 140.5 338 138.8C344.7 137.2 352.6 134.9 358.2 135.1C363.9 135.3 366.7 137.5 371.7 139.9C376.8 142.2 383 145.5 388.6 149C394.3 152.5 399.9 156.9 405.5 160.8C411.2 164.7 417.4 168.7 422.4 172.6C427.5 176.6 431.7 180.3 436 184.5C440.2 188.6 445.8 195.2 447.8 197.3" fill="none" stroke="url(#lg16)" stroke-width="2.6" stroke-linecap="round" stroke-linejoin="round"/></g>
<g filter="url(#bl1_3)"><ellipse cx="245.7" cy="194.4" rx="3" ry="2.6" fill="#fff" fill-opacity="0.900"/></g>
</g>
</g>
<path d="M93.2 345.8v-4.6M93.2 1v4.6M184.4 345.8v-4.6M184.4 1v4.6M275.6 345.8v-4.6M275.6 1v4.6M366.8 345.8v-4.6M366.8 1v4.6M1 290.2h5.2M457.8 290.2h-4.6M1 236.7h5.2M457.8 236.7h-4.6M1 183.3h5.2M457.8 183.3h-4.6M1 129.8h5.2M457.8 129.8h-4.6M1 76.4h5.2M457.8 76.4h-4.6M1 22.9h5.2M457.8 22.9h-4.6" stroke="#262626" stroke-width="1.5" stroke-opacity="0.7" fill="none"/>
<path d="M457.80 0.4V346.6" fill="none" stroke="#1a1a3a" stroke-width="2.0" stroke-opacity="0.92"/>
<path d="M0.4 345.25H458.7" fill="none" stroke="#1a1a3a" stroke-width="2.8" stroke-opacity="0.92"/>
<path d="M1.3 346.65000000000003V1.3H458.7" fill="none" stroke="#262626" stroke-width="2.6"/>
</g>
<g class="tk">
<text x="1377.2" y="311.4" text-anchor="end">20</text>
<text x="1377.2" y="257.9" text-anchor="end">40</text>
<text x="1377.2" y="204.5" text-anchor="end">60</text>
<text x="1377.2" y="151.0" text-anchor="end">80</text>
<text x="1377.2" y="97.5" text-anchor="end">100</text>
<text x="1377.2" y="44.0" text-anchor="end">120</text>
<text x="1385.0" y="395.4" text-anchor="middle">0</text>
<text x="1476.3" y="395.4" text-anchor="middle">0.2</text>
<text x="1567.6" y="395.4" text-anchor="middle">0.4</text>
<text x="1658.9" y="395.4" text-anchor="middle">0.6</text>
<text x="1750.2" y="395.4" text-anchor="middle">0.8</text>
<text x="1841.5" y="395.4" text-anchor="middle">1</text>
<text x="1613.1" y="440.0" text-anchor="middle">Time / s</text>
<text transform="translate(1305.5 179.1) rotate(-90)" text-anchor="middle">Freq / Hz</text>
</g>
<text class="cap" x="1612.2" y="489.0" text-anchor="middle" stroke="#000" stroke-width="0.9">(c)</text>
<g transform="translate(114.0 533.9) scale(1.00044 1.00202)">
<g clip-path="url(#clipP)"><g filter="url(#jet)">
<rect x="-40" y="-40" width="538.8" height="426.8" fill="#060606"/>
<g filter="url(#bl5)"><path d="M84.3 5.1C85 9.9 88.6 25.6 88.3 33.8C88.1 42 84.7 47.9 82.6 54.1C80.5 60.3 77 68.2 75.8 71" fill="none" stroke="#fff" stroke-opacity="0.045" stroke-width="11" stroke-linecap="round" stroke-linejoin="round"/><path d="M148.5 32.1C147.7 36.3 143.9 51.8 143.4 57.5C143 63.1 145.4 64.5 145.8 65.9" fill="none" stroke="#fff" stroke-opacity="0.045" stroke-width="11" stroke-linecap="round" stroke-linejoin="round"/><path d="M145.8 65.9L162 79.4" fill="none" stroke="#fff" stroke-opacity="0.045" stroke-width="11" stroke-linecap="round" stroke-linejoin="round"/><path d="M145.8 65.9C144 70.7 137.9 87 135 94.6C132.1 102.2 129.3 108.7 128.2 111.5" fill="none" stroke="#fff" stroke-opacity="0.045" stroke-width="11" stroke-linecap="round" stroke-linejoin="round"/><path d="M145.8 65.9L140.1 72.7" fill="none" stroke="#fff" stroke-opacity="0.045" stroke-width="11" stroke-linecap="round" stroke-linejoin="round"/><path d="M189.1 6.8C186.8 9 180.6 17.5 175.5 20.3C170.5 23.1 161.5 23.1 158.6 23.7" fill="none" stroke="#fff" stroke-opacity="0.045" stroke-width="11" stroke-linecap="round" stroke-linejoin="round"/><path d="M212.7 64.2C214.7 67 220.6 75.5 224.5 81.1C228.5 86.7 232.1 92.4 236.4 98C240.6 103.6 247.6 112.1 249.9 114.9" fill="none" stroke="#fff" stroke-opacity="0.045" stroke-width="11" stroke-linecap="round" stroke-linejoin="round"/><path d="M249.9 114.9L261.7 123.4" fill="none" stroke="#fff" stroke-opacity="0.045" stroke-width="11" stroke-linecap="round" stroke-linejoin="round"/><path d="M249.9 114.9L243.8 135.2" fill="none" stroke="#fff" stroke-opacity="0.045" stroke-width="11" stroke-linecap="round" stroke-linejoin="round"/><path d="M273.5 11.8C272.4 15.5 270.2 28.4 266.8 33.8C263.4 39.1 255.5 42.2 253.3 43.9" fill="none" stroke="#fff" stroke-opacity="0.045" stroke-width="11" stroke-linecap="round" stroke-linejoin="round"/><path d="M253.3 43.9L243.1 37.2" fill="none" stroke="#fff" stroke-opacity="0.045" stroke-width="11" stroke-linecap="round" stroke-linejoin="round"/><path d="M332.7 16.9C334.1 21.4 338.3 34.4 341.1 43.9C343.9 53.5 347.9 64.8 349.6 74.3C351.3 83.9 352 91.5 351.3 101.4C350.5 111.2 346.2 128.1 345.2 133.5" fill="none" stroke="#fff" stroke-opacity="0.045" stroke-width="11" stroke-linecap="round" stroke-linejoin="round"/><path d="M366.5 23.7C369 27 377.5 37.2 381.7 43.9C385.9 50.7 391.5 56.3 391.8 64.2C392.1 72.1 384.8 86.7 383.4 91.2" fill="none" stroke="#fff" stroke-opacity="0.045" stroke-width="11" stroke-linecap="round" stroke-linejoin="round"/><path d="M189.1 125C189.5 129 191.1 141.4 191.8 148.7C192.4 156 192.9 165.6 193.1 169" fill="none" stroke="#fff" stroke-opacity="0.045" stroke-width="11" stroke-linecap="round" stroke-linejoin="round"/><path d="M98.5 111.5C98.1 114.3 96.8 124 96.1 128.4C95.4 132.8 94.7 136.3 94.4 137.9" fill="none" stroke="#fff" stroke-opacity="0.045" stroke-width="11" stroke-linecap="round" stroke-linejoin="round"/><path d="M37 174C36.5 177.1 36.5 185.6 34.3 192.6C32 199.7 25.3 212.3 23.5 216.3" fill="none" stroke="#fff" stroke-opacity="0.045" stroke-width="11" stroke-linecap="round" stroke-linejoin="round"/><path d="M34.3 192.6L67.4 202.8" fill="none" stroke="#fff" stroke-opacity="0.045" stroke-width="11" stroke-linecap="round" stroke-linejoin="round"/><path d="M452.7 71L451 101.4" fill="none" stroke="#fff" stroke-opacity="0.045" stroke-width="11" stroke-linecap="round" stroke-linejoin="round"/><path d="M439.1 33.8L454.3 47.3" fill="none" stroke="#fff" stroke-opacity="0.045" stroke-width="11" stroke-linecap="round" stroke-linejoin="round"/><path d="M40.4 300.8L37.7 321.1" fill="none" stroke="#fff" stroke-opacity="0.045" stroke-width="11" stroke-linecap="round" stroke-linejoin="round"/><path d="M20.1 317.7C23 318.2 32.6 318.5 37.7 321.1C42.7 323.6 48.4 330.9 50.5 332.9" fill="none" stroke="#fff" stroke-opacity="0.045" stroke-width="11" stroke-linecap="round" stroke-linejoin="round"/><path d="M118.1 278.8L118.1 294" fill="none" stroke="#fff" stroke-opacity="0.045" stroke-width="11" stroke-linecap="round" stroke-linejoin="round"/><path d="M82.6 278.8C81.9 283 78.5 296.3 78.2 304.2C77.9 312 80.5 322.5 80.9 326.1" fill="none" stroke="#fff" stroke-opacity="0.045" stroke-width="11" stroke-linecap="round" stroke-linejoin="round"/><path d="M297.2 280.5C298.6 283.3 302.8 292.8 305.6 297.4C308.5 302 312.7 306.4 314.1 308.2" fill="none" stroke="#fff" stroke-opacity="0.045" stroke-width="11" stroke-linecap="round" stroke-linejoin="round"/><path d="M314.1 308.2L337.8 303.5" fill="none" stroke="#fff" stroke-opacity="0.045" stroke-width="11" stroke-linecap="round" stroke-linejoin="round"/><path d="M314.1 308.2L310.7 338" fill="none" stroke="#fff" stroke-opacity="0.045" stroke-width="11" stroke-linecap="round" stroke-linejoin="round"/><path d="M249.9 298.1C253.3 297.1 263.4 293.7 270.2 292.3C276.9 291 287.1 290.4 290.4 290" fill="none" stroke="#fff" stroke-opacity="0.045" stroke-width="11" stroke-linecap="round" stroke-linejoin="round"/><path d="M381.7 294L379 324.4" fill="none" stroke="#fff" stroke-opacity="0.045" stroke-width="11" stroke-linecap="round" stroke-linejoin="round"/><path d="M452 297.4L451 338" fill="none" stroke="#fff" stroke-opacity="0.045" stroke-width="11" stroke-linecap="round" stroke-linejoin="round"/><path d="M155.3 207.8L152.6 233.2" fill="none" stroke="#fff" stroke-opacity="0.045" stroke-width="11" stroke-linecap="round" stroke-linejoin="round"/><path d="M176.2 187.6L178.9 204.5" fill="none" stroke="#fff" stroke-opacity="0.045" stroke-width="11" stroke-linecap="round" stroke-linejoin="round"/><path d="M213.4 236.6L216.1 258.5" fill="none" stroke="#fff" stroke-opacity="0.045" stroke-width="11" stroke-linecap="round" stroke-linejoin="round"/><path d="M287.7 162.2L285.7 189.3" fill="none" stroke="#fff" stroke-opacity="0.045" stroke-width="11" stroke-linecap="round" stroke-linejoin="round"/><path d="M300.6 206.2L297.2 229.8" fill="none" stroke="#fff" stroke-opacity="0.045" stroke-width="11" stroke-linecap="round" stroke-linejoin="round"/><path d="M317.5 201.1L315.8 218" fill="none" stroke="#fff" stroke-opacity="0.045" stroke-width="11" stroke-linecap="round" stroke-linejoin="round"/><path d="M128.2 248.4L126.5 270.4" fill="none" stroke="#fff" stroke-opacity="0.045" stroke-width="11" stroke-linecap="round" stroke-linejoin="round"/><path d="M361.4 243.3L359.7 260.2" fill="none" stroke="#fff" stroke-opacity="0.045" stroke-width="11" stroke-linecap="round" stroke-linejoin="round"/><path d="M405.3 152.1L403.7 169" fill="none" stroke="#fff" stroke-opacity="0.045" stroke-width="11" stroke-linecap="round" stroke-linejoin="round"/><path d="M9.9 10.1L20.1 20.3" fill="none" stroke="#fff" stroke-opacity="0.045" stroke-width="11" stroke-linecap="round" stroke-linejoin="round"/><path d="M422.2 43.9L432.4 60.8" fill="none" stroke="#fff" stroke-opacity="0.045" stroke-width="11" stroke-linecap="round" stroke-linejoin="round"/><path d="M53.9 60.8L67.4 77.7" fill="none" stroke="#fff" stroke-opacity="0.045" stroke-width="11" stroke-linecap="round" stroke-linejoin="round"/><path d="M233 162.2L236.4 189.3" fill="none" stroke="#fff" stroke-opacity="0.045" stroke-width="11" stroke-linecap="round" stroke-linejoin="round"/><path d="M324.2 101.4L307.3 98" fill="none" stroke="#fff" stroke-opacity="0.045" stroke-width="11" stroke-linecap="round" stroke-linejoin="round"/><path d="M358 189.3L359.7 216.3" fill="none" stroke="#fff" stroke-opacity="0.045" stroke-width="11" stroke-linecap="round" stroke-linejoin="round"/><path d="M182.3 304.2L189.1 331.2" fill="none" stroke="#fff" stroke-opacity="0.045" stroke-width="11" stroke-linecap="round" stroke-linejoin="round"/><path d="M233 324.4L236.4 341.3" fill="none" stroke="#fff" stroke-opacity="0.045" stroke-width="11" stroke-linecap="round" stroke-linejoin="round"/><path d="M415.5 216.3L418.9 236.6" fill="none" stroke="#fff" stroke-opacity="0.045" stroke-width="11" stroke-linecap="round" stroke-linejoin="round"/></g>
<g filter="url(#bl2_6)"><path d="M84.3 5.1C85 9.9 88.6 25.6 88.3 33.8C88.1 42 84.7 47.9 82.6 54.1C80.5 60.3 77 68.2 75.8 71" fill="none" stroke="#fff" stroke-opacity="0.081" stroke-width="3.4" stroke-linecap="round" stroke-linejoin="round"/><path d="M148.5 32.1C147.7 36.3 143.9 51.8 143.4 57.5C143 63.1 145.4 64.5 145.8 65.9" fill="none" stroke="#fff" stroke-opacity="0.081" stroke-width="3.4" stroke-linecap="round" stroke-linejoin="round"/><path d="M145.8 65.9L162 79.4" fill="none" stroke="#fff" stroke-opacity="0.108" stroke-width="3.8" stroke-linecap="round" stroke-linejoin="round"/><path d="M145.8 65.9C144 70.7 137.9 87 135 94.6C132.1 102.2 129.3 108.7 128.2 111.5" fill="none" stroke="#fff" stroke-opacity="0.072" stroke-width="3.4" stroke-linecap="round" stroke-linejoin="round"/><path d="M145.8 65.9L140.1 72.7" fill="none" stroke="#fff" stroke-opacity="0.126" stroke-width="4.8" stroke-linecap="round" stroke-linejoin="round"/><path d="M189.1 6.8C186.8 9 180.6 17.5 175.5 20.3C170.5 23.1 161.5 23.1 158.6 23.7" fill="none" stroke="#fff" stroke-opacity="0.054" stroke-width="3.4" stroke-linecap="round" stroke-linejoin="round"/><path d="M212.7 64.2C214.7 67 220.6 75.5 224.5 81.1C228.5 86.7 232.1 92.4 236.4 98C240.6 103.6 247.6 112.1 249.9 114.9" fill="none" stroke="#fff" stroke-opacity="0.090" stroke-width="3.4" stroke-linecap="round" stroke-linejoin="round"/><path d="M249.9 114.9L261.7 123.4" fill="none" stroke="#fff" stroke-opacity="0.108" stroke-width="3.8" stroke-linecap="round" stroke-linejoin="round"/><path d="M249.9 114.9L243.8 135.2" fill="none" stroke="#fff" stroke-opacity="0.090" stroke-width="3.4" stroke-linecap="round" stroke-linejoin="round"/><path d="M273.5 11.8C272.4 15.5 270.2 28.4 266.8 33.8C263.4 39.1 255.5 42.2 253.3 43.9" fill="none" stroke="#fff" stroke-opacity="0.081" stroke-width="3.4" stroke-linecap="round" stroke-linejoin="round"/><path d="M253.3 43.9L243.1 37.2" fill="none" stroke="#fff" stroke-opacity="0.072" stroke-width="3.8" stroke-linecap="round" stroke-linejoin="round"/><path d="M332.7 16.9C334.1 21.4 338.3 34.4 341.1 43.9C343.9 53.5 347.9 64.8 349.6 74.3C351.3 83.9 352 91.5 351.3 101.4C350.5 111.2 346.2 128.1 345.2 133.5" fill="none" stroke="#fff" stroke-opacity="0.090" stroke-width="3.4" stroke-linecap="round" stroke-linejoin="round"/><path d="M366.5 23.7C369 27 377.5 37.2 381.7 43.9C385.9 50.7 391.5 56.3 391.8 64.2C392.1 72.1 384.8 86.7 383.4 91.2" fill="none" stroke="#fff" stroke-opacity="0.072" stroke-width="3.4" stroke-linecap="round" stroke-linejoin="round"/><path d="M189.1 125C189.5 129 191.1 141.4 191.8 148.7C192.4 156 192.9 165.6 193.1 169" fill="none" stroke="#fff" stroke-opacity="0.072" stroke-width="3.4" stroke-linecap="round" stroke-linejoin="round"/><path d="M98.5 111.5C98.1 114.3 96.8 124 96.1 128.4C95.4 132.8 94.7 136.3 94.4 137.9" fill="none" stroke="#fff" stroke-opacity="0.090" stroke-width="3.4" stroke-linecap="round" stroke-linejoin="round"/><path d="M37 174C36.5 177.1 36.5 185.6 34.3 192.6C32 199.7 25.3 212.3 23.5 216.3" fill="none" stroke="#fff" stroke-opacity="0.090" stroke-width="3.4" stroke-linecap="round" stroke-linejoin="round"/><path d="M34.3 192.6L67.4 202.8" fill="none" stroke="#fff" stroke-opacity="0.045" stroke-width="3.4" stroke-linecap="round" stroke-linejoin="round"/><path d="M452.7 71L451 101.4" fill="none" stroke="#fff" stroke-opacity="0.063" stroke-width="3.8" stroke-linecap="round" stroke-linejoin="round"/><path d="M439.1 33.8L454.3 47.3" fill="none" stroke="#fff" stroke-opacity="0.045" stroke-width="3.4" stroke-linecap="round" stroke-linejoin="round"/><path d="M40.4 300.8L37.7 321.1" fill="none" stroke="#fff" stroke-opacity="0.108" stroke-width="3.8" stroke-linecap="round" stroke-linejoin="round"/><path d="M20.1 317.7C23 318.2 32.6 318.5 37.7 321.1C42.7 323.6 48.4 330.9 50.5 332.9" fill="none" stroke="#fff" stroke-opacity="0.090" stroke-width="3.8" stroke-linecap="round" stroke-linejoin="round"/><path d="M118.1 278.8L118.1 294" fill="none" stroke="#fff" stroke-opacity="0.108" stroke-width="3.8" stroke-linecap="round" stroke-linejoin="round"/><path d="M82.6 278.8C81.9 283 78.5 296.3 78.2 304.2C77.9 312 80.5 322.5 80.9 326.1" fill="none" stroke="#fff" stroke-opacity="0.072" stroke-width="3.4" stroke-linecap="round" stroke-linejoin="round"/><path d="M297.2 280.5C298.6 283.3 302.8 292.8 305.6 297.4C308.5 302 312.7 306.4 314.1 308.2" fill="none" stroke="#fff" stroke-opacity="0.090" stroke-width="3.4" stroke-linecap="round" stroke-linejoin="round"/><path d="M314.1 308.2L337.8 303.5" fill="none" stroke="#fff" stroke-opacity="0.090" stroke-width="3.4" stroke-linecap="round" stroke-linejoin="round"/><path d="M314.1 308.2L310.7 338" fill="none" stroke="#fff" stroke-opacity="0.072" stroke-width="3.4" stroke-linecap="round" stroke-linejoin="round"/><path d="M249.9 298.1C253.3 297.1 263.4 293.7 270.2 292.3C276.9 291 287.1 290.4 290.4 290" fill="none" stroke="#fff" stroke-opacity="0.063" stroke-width="3.4" stroke-linecap="round" stroke-linejoin="round"/><path d="M381.7 294L379 324.4" fill="none" stroke="#fff" stroke-opacity="0.072" stroke-width="3.4" stroke-linecap="round" stroke-linejoin="round"/><path d="M452 297.4L451 338" fill="none" stroke="#fff" stroke-opacity="0.054" stroke-width="3.4" stroke-linecap="round" stroke-linejoin="round"/><path d="M155.3 207.8L152.6 233.2" fill="none" stroke="#fff" stroke-opacity="0.054" stroke-width="3.4" stroke-linecap="round" stroke-linejoin="round"/><path d="M176.2 187.6L178.9 204.5" fill="none" stroke="#fff" stroke-opacity="0.054" stroke-width="3.4" stroke-linecap="round" stroke-linejoin="round"/><path d="M213.4 236.6L216.1 258.5" fill="none" stroke="#fff" stroke-opacity="0.063" stroke-width="3.4" stroke-linecap="round" stroke-linejoin="round"/><path d="M287.7 162.2L285.7 189.3" fill="none" stroke="#fff" stroke-opacity="0.072" stroke-width="3.4" stroke-linecap="round" stroke-linejoin="round"/><path d="M300.6 206.2L297.2 229.8" fill="none" stroke="#fff" stroke-opacity="0.072" stroke-width="3.4" stroke-linecap="round" stroke-linejoin="round"/><path d="M317.5 201.1L315.8 218" fill="none" stroke="#fff" stroke-opacity="0.063" stroke-width="3.4" stroke-linecap="round" stroke-linejoin="round"/><path d="M128.2 248.4L126.5 270.4" fill="none" stroke="#fff" stroke-opacity="0.063" stroke-width="3.4" stroke-linecap="round" stroke-linejoin="round"/><path d="M361.4 243.3L359.7 260.2" fill="none" stroke="#fff" stroke-opacity="0.072" stroke-width="3.4" stroke-linecap="round" stroke-linejoin="round"/><path d="M405.3 152.1L403.7 169" fill="none" stroke="#fff" stroke-opacity="0.054" stroke-width="3.4" stroke-linecap="round" stroke-linejoin="round"/><path d="M9.9 10.1L20.1 20.3" fill="none" stroke="#fff" stroke-opacity="0.054" stroke-width="3.8" stroke-linecap="round" stroke-linejoin="round"/><path d="M422.2 43.9L432.4 60.8" fill="none" stroke="#fff" stroke-opacity="0.045" stroke-width="3.4" stroke-linecap="round" stroke-linejoin="round"/><path d="M53.9 60.8L67.4 77.7" fill="none" stroke="#fff" stroke-opacity="0.045" stroke-width="3.4" stroke-linecap="round" stroke-linejoin="round"/><path d="M233 162.2L236.4 189.3" fill="none" stroke="#fff" stroke-opacity="0.063" stroke-width="3.4" stroke-linecap="round" stroke-linejoin="round"/><path d="M324.2 101.4L307.3 98" fill="none" stroke="#fff" stroke-opacity="0.036" stroke-width="3.4" stroke-linecap="round" stroke-linejoin="round"/><path d="M358 189.3L359.7 216.3" fill="none" stroke="#fff" stroke-opacity="0.045" stroke-width="3.4" stroke-linecap="round" stroke-linejoin="round"/><path d="M182.3 304.2L189.1 331.2" fill="none" stroke="#fff" stroke-opacity="0.045" stroke-width="3.4" stroke-linecap="round" stroke-linejoin="round"/><path d="M233 324.4L236.4 341.3" fill="none" stroke="#fff" stroke-opacity="0.045" stroke-width="3.4" stroke-linecap="round" stroke-linejoin="round"/><path d="M415.5 216.3L418.9 236.6" fill="none" stroke="#fff" stroke-opacity="0.045" stroke-width="3.4" stroke-linecap="round" stroke-linejoin="round"/></g>
<g filter="url(#bl2_6)"><path d="M9.9 111.5C11 111.7 17.4 112.7 20.1 113.2C22.8 113.7 33.3 115.1 37 116.6C40.7 118.1 53.2 126.3 57.3 128.4C61.3 130.6 73.8 136.9 77.5 137.9C81.2 138.9 91 137.6 94.4 138.6C97.8 139.5 107.9 145.8 111.3 147C114.7 148.2 124.5 148.9 128.2 150.4C131.9 151.9 145.1 160.4 148.5 162.2C151.9 164.1 159.3 167.7 162 169C164.7 170.3 172.8 174.7 175.5 175.1C178.2 175.4 187 172.1 189.1 172.4C191.1 172.6 195.7 177.2 196.5 177.8" fill="none" stroke="#fff" stroke-opacity="0.200" stroke-width="5" stroke-linecap="round" stroke-linejoin="round"/><path d="M253.9 196.7C255.6 197.6 267.2 204.5 270.2 206.2C273.1 207.8 281 211.4 283.7 212.9C286.4 214.4 293.8 220.3 297.2 221.4C300.6 222.4 313.4 222.5 317.5 223.7C321.5 224.9 333.7 231.4 337.8 233.2C341.8 235 354.3 240.6 358 241.6C361.7 242.7 371.5 243.2 374.9 244C378.3 244.8 388.8 248.6 391.8 250.1C394.9 251.5 402.3 256.7 405.3 258.5C408.4 260.4 418.9 267.5 422.2 268.7C425.6 269.9 436.8 269.2 439.1 270.4C441.5 271.5 444.7 278.1 445.9 280.5C447.1 282.9 450.2 290.6 451 294C451.7 297.4 453.1 312.3 453.3 314.3" fill="none" stroke="url(#lg17)" stroke-width="5" stroke-linecap="round" stroke-linejoin="round"/><path d="M9.9 216.3C10.6 217.2 15 224.1 16.7 225.8C18.4 227.4 24.5 230.9 26.8 233.2C29.2 235.5 37.3 246 40.4 248.4C43.4 250.8 53.9 255 57.3 256.8C60.6 258.7 71.6 264.8 74.1 267C76.7 269.2 80.2 277.6 82.6 278.8C85 280 94.3 279.3 97.8 279.1C101.4 279 114.4 277.5 118.1 277.1C121.8 276.7 131.9 275.6 135 275.4C138 275.3 146.1 276.3 148.5 275.4C150.9 274.6 156.6 268.7 158.6 267C160.7 265.3 166.4 260.1 168.8 258.5C171.1 257 179.9 253.8 182.3 251.8C184.7 249.7 190.4 240.1 192.4 238.3C194.5 236.4 200.5 234 202.6 233.2C204.6 232.3 210.7 231.5 212.7 229.8C214.7 228.1 220.8 219.3 222.8 216.3C224.9 213.2 232 201.1 233 199.4" fill="none" stroke="#fff" stroke-opacity="0.200" stroke-width="5" stroke-linecap="round" stroke-linejoin="round"/><path d="M253.3 194.3C254.3 192.8 261.4 182.3 263.4 179.1C265.4 176 271.9 165.1 273.5 162.9C275.2 160.7 278.3 158.1 280.3 157.1C282.3 156.2 291.5 154.4 293.8 153.8C296.2 153.1 301.6 150.8 304 150.4C306.3 149.9 314.8 149.9 317.5 149.4C320.2 148.9 328.3 146.6 331 145.3C333.7 144.1 341.8 137.4 344.5 136.9C347.2 136.4 355.3 139.4 358 140.3C360.7 141.1 368.5 143.8 371.5 145.3C374.6 146.8 385.1 153.4 388.4 155.5C391.8 157.5 402 163.4 405.3 165.6C408.7 167.8 419.2 175.6 422.2 177.4C425.3 179.3 433.4 183 435.8 184.2C438.1 185.4 444.9 188.7 445.9 189.3" fill="none" stroke="#fff" stroke-opacity="0.200" stroke-width="5" stroke-linecap="round" stroke-linejoin="round"/></g>
<g filter="url(#bl0_85)"><path d="M9.9 111.5C11 111.7 17.4 112.7 20.1 113.2C22.8 113.7 33.3 115.1 37 116.6C40.7 118.1 53.2 126.3 57.3 128.4C61.3 130.6 73.8 136.9 77.5 137.9C81.2 138.9 91 137.6 94.4 138.6C97.8 139.5 107.9 145.8 111.3 147C114.7 148.2 124.5 148.9 128.2 150.4C131.9 151.9 145.1 160.4 148.5 162.2C151.9 164.1 159.3 167.7 162 169C164.7 170.3 172.8 174.7 175.5 175.1C178.2 175.4 187 172.1 189.1 172.4C191.1 172.6 195.7 177.2 196.5 177.8" fill="none" stroke="url(#lg18)" stroke-width="1.5" stroke-linecap="round" stroke-linejoin="round"/><path d="M253.9 196.7C255.6 197.6 267.2 204.5 270.2 206.2C273.1 207.8 281 211.4 283.7 212.9C286.4 214.4 293.8 220.3 297.2 221.4C300.6 222.4 313.4 222.5 317.5 223.7C321.5 224.9 333.7 231.4 337.8 233.2C341.8 235 354.3 240.6 358 241.6C361.7 242.7 371.5 243.2 374.9 244C378.3 244.8 388.8 248.6 391.8 250.1C394.9 251.5 402.3 256.7 405.3 258.5C408.4 260.4 418.9 267.5 422.2 268.7C425.6 269.9 436.8 269.2 439.1 270.4C441.5 271.5 444.7 278.1 445.9 280.5C447.1 282.9 450.2 290.6 451 294C451.7 297.4 453.1 312.3 453.3 314.3" fill="none" stroke="url(#lg19)" stroke-width="1.5" stroke-linecap="round" stroke-linejoin="round"/><path d="M9.9 216.3C10.6 217.2 15 224.1 16.7 225.8C18.4 227.4 24.5 230.9 26.8 233.2C29.2 235.5 37.3 246 40.4 248.4C43.4 250.8 53.9 255 57.3 256.8C60.6 258.7 71.6 264.8 74.1 267C76.7 269.2 80.2 277.6 82.6 278.8C85 280 94.3 279.3 97.8 279.1C101.4 279 114.4 277.5 118.1 277.1C121.8 276.7 131.9 275.6 135 275.4C138 275.3 146.1 276.3 148.5 275.4C150.9 274.6 156.6 268.7 158.6 267C160.7 265.3 166.4 260.1 168.8 258.5C171.1 257 179.9 253.8 182.3 251.8C184.7 249.7 190.4 240.1 192.4 238.3C194.5 236.4 200.5 234 202.6 233.2C204.6 232.3 210.7 231.5 212.7 229.8C214.7 228.1 220.8 219.3 222.8 216.3C224.9 213.2 232 201.1 233 199.4" fill="none" stroke="url(#lg20)" stroke-width="1.5" stroke-linecap="round" stroke-linejoin="round"/><path d="M253.3 194.3C254.3 192.8 261.4 182.3 263.4 179.1C265.4 176 271.9 165.1 273.5 162.9C275.2 160.7 278.3 158.1 280.3 157.1C282.3 156.2 291.5 154.4 293.8 153.8C296.2 153.1 301.6 150.8 304 150.4C306.3 149.9 314.8 149.9 317.5 149.4C320.2 148.9 328.3 146.6 331 145.3C333.7 144.1 341.8 137.4 344.5 136.9C347.2 136.4 355.3 139.4 358 140.3C360.7 141.1 368.5 143.8 371.5 145.3C374.6 146.8 385.1 153.4 388.4 155.5C391.8 157.5 402 163.4 405.3 165.6C408.7 167.8 419.2 175.6 422.2 177.4C425.3 179.3 433.4 183 435.8 184.2C438.1 185.4 444.9 188.7 445.9 189.3" fill="none" stroke="url(#lg21)" stroke-width="1.5" stroke-linecap="round" stroke-linejoin="round"/></g>
<g filter="url(#bl0_8)"><path stroke-dasharray="4 9" stroke-dashoffset="0" d="M9.9 111.5C11 111.7 17.4 112.7 20.1 113.2C22.8 113.7 33.3 115.1 37 116.6C40.7 118.1 53.2 126.3 57.3 128.4C61.3 130.6 73.8 136.9 77.5 137.9C81.2 138.9 91 137.6 94.4 138.6C97.8 139.5 107.9 145.8 111.3 147C114.7 148.2 124.5 148.9 128.2 150.4C131.9 151.9 145.1 160.4 148.5 162.2C151.9 164.1 159.3 167.7 162 169C164.7 170.3 172.8 174.7 175.5 175.1C178.2 175.4 187 172.1 189.1 172.4C191.1 172.6 195.7 177.2 196.5 177.8" fill="none" stroke="#fff" stroke-opacity="0.420" stroke-width="1.5" stroke-linecap="butt" stroke-linejoin="round"/><path stroke-dasharray="5 8" stroke-dashoffset="3" d="M253.9 196.7C255.6 197.6 267.2 204.5 270.2 206.2C273.1 207.8 281 211.4 283.7 212.9C286.4 214.4 293.8 220.3 297.2 221.4C300.6 222.4 313.4 222.5 317.5 223.7C321.5 224.9 333.7 231.4 337.8 233.2C341.8 235 354.3 240.6 358 241.6C361.7 242.7 371.5 243.2 374.9 244C378.3 244.8 388.8 248.6 391.8 250.1C394.9 251.5 402.3 256.7 405.3 258.5C408.4 260.4 418.9 267.5 422.2 268.7C425.6 269.9 436.8 269.2 439.1 270.4C441.5 271.5 444.7 278.1 445.9 280.5C447.1 282.9 450.2 290.6 451 294C451.7 297.4 453.1 312.3 453.3 314.3" fill="none" stroke="#fff" stroke-opacity="0.420" stroke-width="1.5" stroke-linecap="butt" stroke-linejoin="round"/><path stroke-dasharray="4 10" stroke-dashoffset="5" d="M9.9 216.3C10.6 217.2 15 224.1 16.7 225.8C18.4 227.4 24.5 230.9 26.8 233.2C29.2 235.5 37.3 246 40.4 248.4C43.4 250.8 53.9 255 57.3 256.8C60.6 258.7 71.6 264.8 74.1 267C76.7 269.2 80.2 277.6 82.6 278.8C85 280 94.3 279.3 97.8 279.1C101.4 279 114.4 277.5 118.1 277.1C121.8 276.7 131.9 275.6 135 275.4C138 275.3 146.1 276.3 148.5 275.4C150.9 274.6 156.6 268.7 158.6 267C160.7 265.3 166.4 260.1 168.8 258.5C171.1 257 179.9 253.8 182.3 251.8C184.7 249.7 190.4 240.1 192.4 238.3C194.5 236.4 200.5 234 202.6 233.2C204.6 232.3 210.7 231.5 212.7 229.8C214.7 228.1 220.8 219.3 222.8 216.3C224.9 213.2 232 201.1 233 199.4" fill="none" stroke="#fff" stroke-opacity="0.420" stroke-width="1.5" stroke-linecap="butt" stroke-linejoin="round"/><path stroke-dasharray="5 9" stroke-dashoffset="2" d="M253.3 194.3C254.3 192.8 261.4 182.3 263.4 179.1C265.4 176 271.9 165.1 273.5 162.9C275.2 160.7 278.3 158.1 280.3 157.1C282.3 156.2 291.5 154.4 293.8 153.8C296.2 153.1 301.6 150.8 304 150.4C306.3 149.9 314.8 149.9 317.5 149.4C320.2 148.9 328.3 146.6 331 145.3C333.7 144.1 341.8 137.4 344.5 136.9C347.2 136.4 355.3 139.4 358 140.3C360.7 141.1 368.5 143.8 371.5 145.3C374.6 146.8 385.1 153.4 388.4 155.5C391.8 157.5 402 163.4 405.3 165.6C408.7 167.8 419.2 175.6 422.2 177.4C425.3 179.3 433.4 183 435.8 184.2C438.1 185.4 444.9 188.7 445.9 189.3" fill="none" stroke="#fff" stroke-opacity="0.420" stroke-width="1.5" stroke-linecap="butt" stroke-linejoin="round"/></g>
<g filter="url(#bl1_8)"><ellipse cx="13.3" cy="112.2" rx="3.2" ry="4.1" fill="#fff" fill-opacity="0.193"/><ellipse cx="78.2" cy="138.6" rx="2.8" ry="3.5" fill="#fff" fill-opacity="0.165"/><ellipse cx="175.5" cy="175.1" rx="2.8" ry="3.5" fill="#fff" fill-opacity="0.165"/><ellipse cx="192.4" cy="172.4" rx="2.4" ry="3" fill="#fff" fill-opacity="0.138"/><ellipse cx="16.7" cy="225.8" rx="4.9" ry="6.1" fill="#fff" fill-opacity="0.220"/><ellipse cx="82.6" cy="278.8" rx="3.2" ry="4.1" fill="#fff" fill-opacity="0.165"/><ellipse cx="118.1" cy="277.8" rx="4.1" ry="5.1" fill="#fff" fill-opacity="0.193"/><ellipse cx="168.8" cy="259.5" rx="2.4" ry="3" fill="#fff" fill-opacity="0.138"/><ellipse cx="280.3" cy="157.8" rx="3.6" ry="4.6" fill="#fff" fill-opacity="0.193"/><ellipse cx="331" cy="146" rx="3.2" ry="4.1" fill="#fff" fill-opacity="0.165"/><ellipse cx="345.2" cy="136.9" rx="3.2" ry="4.1" fill="#fff" fill-opacity="0.165"/><ellipse cx="443.2" cy="187.9" rx="4.5" ry="5.6" fill="#fff" fill-opacity="0.220"/><ellipse cx="361.4" cy="242.6" rx="2.8" ry="3.5" fill="#fff" fill-opacity="0.165"/><ellipse cx="297.2" cy="222" rx="2.4" ry="3" fill="#fff" fill-opacity="0.165"/><ellipse cx="422.2" cy="268.7" rx="2.4" ry="3" fill="#fff" fill-opacity="0.138"/><ellipse cx="212.7" cy="230.5" rx="2" ry="2.5" fill="#fff" fill-opacity="0.138"/><ellipse cx="304" cy="150.7" rx="2.4" ry="3" fill="#fff" fill-opacity="0.138"/><ellipse cx="145.1" cy="158.8" rx="2" ry="2.5" fill="#fff" fill-opacity="0.138"/></g>
<g filter="url(#bl1_6)"><ellipse cx="236.4" cy="197.7" rx="4.5" ry="5.5" fill="#fff" fill-opacity="0.500"/><ellipse cx="251.6" cy="194.7" rx="3.5" ry="3.5" fill="#fff" fill-opacity="0.500"/></g>
<g filter="url(#bl0_9)"><ellipse cx="241.1" cy="196" rx="3" ry="1.6" fill="#fff" fill-opacity="0.600" transform="rotate(-10 241.1 196)"/><ellipse cx="251.6" cy="195" rx="1.9" ry="1.5" fill="#fff" fill-opacity="0.750"/></g>
</g>
</g>
<path d="M93.2 345.8v-4.6M93.2 1v4.6M184.4 345.8v-4.6M184.4 1v4.6M275.6 345.8v-4.6M275.6 1v4.6M366.8 345.8v-4.6M366.8 1v4.6M1 290.2h5.2M457.8 290.2h-4.6M1 236.7h5.2M457.8 236.7h-4.6M1 183.3h5.2M457.8 183.3h-4.6M1 129.8h5.2M457.8 129.8h-4.6M1 76.4h5.2M457.8 76.4h-4.6M1 22.9h5.2M457.8 22.9h-4.6" stroke="#262626" stroke-width="1.5" stroke-opacity="0.7" fill="none"/>
<path d="M457.90 0.4V346.6" fill="none" stroke="#16163a" stroke-width="1.8" stroke-opacity="0.92"/>
<path d="M0.4 345.25H458.7" fill="none" stroke="#16163a" stroke-width="2.8" stroke-opacity="0.92"/>
<path d="M1.3 346.65000000000003V1.3H458.7" fill="none" stroke="#262626" stroke-width="2.6"/>
</g>
<g class="tk">
<text x="108.2" y="840.3" text-anchor="end">20</text>
<text x="108.2" y="786.7" text-anchor="end">40</text>
<text x="108.2" y="733.2" text-anchor="end">60</text>
<text x="108.2" y="679.6" text-anchor="end">80</text>
<text x="108.2" y="626.0" text-anchor="end">100</text>
<text x="108.2" y="572.5" text-anchor="end">120</text>
<text x="116.0" y="924.4" text-anchor="middle">0</text>
<text x="207.2" y="924.4" text-anchor="middle">0.2</text>
<text x="298.5" y="924.4" text-anchor="middle">0.4</text>
<text x="389.7" y="924.4" text-anchor="middle">0.6</text>
<text x="481.0" y="924.4" text-anchor="middle">0.8</text>
<text x="572.2" y="924.4" text-anchor="middle">1</text>
<text x="343.9" y="969.0" text-anchor="middle">Time / s</text>
<text transform="translate(36.6 707.8) rotate(-90)" text-anchor="middle">Freq / Hz</text>
</g>
<text class="cap" x="347.6" y="1016.4" text-anchor="middle" stroke="#000" stroke-width="0.15">(d)</text>
<g transform="translate(746.5 534.1) scale(1.00283 0.99798)">
<g clip-path="url(#clipP)"><g filter="url(#jet)">
<rect x="-40" y="-40" width="538.8" height="426.8" fill="#040404"/>
<g filter="url(#bl0_6)"><path d="M256.5 236.6L270.1 250.1" fill="none" stroke="#111111" stroke-opacity="1.000" stroke-width="2" stroke-linecap="round" stroke-linejoin="round"/><path d="M209.2 147L219.4 148.7" fill="none" stroke="#131313" stroke-opacity="1.000" stroke-width="2" stroke-linecap="round" stroke-linejoin="round"/><path d="M337.7 317.7L341 331.2" fill="none" stroke="#131313" stroke-opacity="1.000" stroke-width="2" stroke-linecap="round" stroke-linejoin="round"/><path d="M381.6 189.3L388.3 202.8" fill="none" stroke="#131313" stroke-opacity="1.000" stroke-width="2" stroke-linecap="round" stroke-linejoin="round"/><path d="M418.8 287.3L428.9 294" fill="none" stroke="#131313" stroke-opacity="1.000" stroke-width="2" stroke-linecap="round" stroke-linejoin="round"/><path d="M317.4 175.7L324.1 177.4" fill="none" stroke="#131313" stroke-opacity="1.000" stroke-width="2" stroke-linecap="round" stroke-linejoin="round"/><path d="M97.7 179.1L99.4 196" fill="none" stroke="#161616" stroke-opacity="1.000" stroke-width="2" stroke-linecap="round" stroke-linejoin="round"/><path d="M57.2 212.9L63.9 223" fill="none" stroke="#161616" stroke-opacity="1.000" stroke-width="2" stroke-linecap="round" stroke-linejoin="round"/><path d="M175.4 125C176.8 126.2 183.3 130.1 183.9 131.8C184.4 133.5 179.7 134.6 178.8 135.2" fill="none" stroke="#161616" stroke-opacity="1.000" stroke-width="2" stroke-linecap="round" stroke-linejoin="round"/><path d="M243 304.2L249.8 317.7" fill="none" stroke="#161616" stroke-opacity="1.000" stroke-width="2" stroke-linecap="round" stroke-linejoin="round"/><path d="M415.4 307.5L418.8 321.1" fill="none" stroke="#161616" stroke-opacity="1.000" stroke-width="2" stroke-linecap="round" stroke-linejoin="round"/><path d="M439 317.7L440.7 334.6" fill="none" stroke="#161616" stroke-opacity="1.000" stroke-width="2" stroke-linecap="round" stroke-linejoin="round"/><path d="M239.6 47.3L241.3 64.2" fill="none" stroke="#181818" stroke-opacity="1.000" stroke-width="1.5" stroke-linecap="round" stroke-linejoin="round"/><path d="M439 128.4L452.6 135.2" fill="none" stroke="#181818" stroke-opacity="1.000" stroke-width="2" stroke-linecap="round" stroke-linejoin="round"/><path d="M84.2 175.7L90.9 189.3" fill="none" stroke="#181818" stroke-opacity="1.000" stroke-width="2" stroke-linecap="round" stroke-linejoin="round"/><path d="M101.1 229.8L102.8 243.3" fill="none" stroke="#181818" stroke-opacity="1.000" stroke-width="2" stroke-linecap="round" stroke-linejoin="round"/><path d="M111.2 216.3L118 219.7" fill="none" stroke="#181818" stroke-opacity="1.000" stroke-width="2" stroke-linecap="round" stroke-linejoin="round"/><path d="M90.9 314.3L92.6 324.4" fill="none" stroke="#181818" stroke-opacity="1.000" stroke-width="2" stroke-linecap="round" stroke-linejoin="round"/><path d="M161.9 297.4C163 299.1 165.9 306.1 168.7 307.5C171.5 308.9 177.1 306.1 178.8 305.8" fill="none" stroke="#181818" stroke-opacity="1.000" stroke-width="2" stroke-linecap="round" stroke-linejoin="round"/><path d="M199.1 267C199.7 269.2 200.5 277.7 202.5 280.5C204.4 283.3 209.5 283.3 210.9 283.9" fill="none" stroke="#181818" stroke-opacity="1.000" stroke-width="2" stroke-linecap="round" stroke-linejoin="round"/><path d="M236.3 246.7C235.7 249 231.8 256.8 232.9 260.2C234 263.6 241.3 265.9 243 267" fill="none" stroke="#181818" stroke-opacity="1.000" stroke-width="2" stroke-linecap="round" stroke-linejoin="round"/><path d="M219.4 317.7C222.2 319.6 231.2 327 236.3 329.5C241.3 332 247.5 332.3 249.8 332.9" fill="none" stroke="#181818" stroke-opacity="1.000" stroke-width="2.5" stroke-linecap="round" stroke-linejoin="round"/><path d="M293.7 307.5C295.4 308.7 302.2 311.5 303.9 314.3C305.5 317.1 305 321.1 303.9 324.4C302.7 327.8 298.2 332.9 297.1 334.6" fill="none" stroke="#181818" stroke-opacity="1.000" stroke-width="2" stroke-linecap="round" stroke-linejoin="round"/><path d="M364.7 283.9L374.8 273.7" fill="none" stroke="#181818" stroke-opacity="1.000" stroke-width="2" stroke-linecap="round" stroke-linejoin="round"/><path d="M280.2 98C280.5 95.8 280.2 87.6 281.9 84.5C283.6 81.4 287.5 78.9 290.3 79.4C293.2 80 297.7 84.2 298.8 87.9C299.9 91.5 297.4 99.1 297.1 101.4" fill="none" stroke="#1b1b1b" stroke-opacity="1.000" stroke-width="2" stroke-linecap="round" stroke-linejoin="round"/><path d="M308.9 111.5C309.2 109.3 308.9 100.5 310.6 98C312.3 95.5 317.1 94.6 319.1 96.3C321 98 321.9 106.2 322.4 108.1" fill="none" stroke="#1b1b1b" stroke-opacity="1.000" stroke-width="2" stroke-linecap="round" stroke-linejoin="round"/><path d="M40.3 148.7L43.6 162.2" fill="none" stroke="#1b1b1b" stroke-opacity="1.000" stroke-width="2" stroke-linecap="round" stroke-linejoin="round"/><path d="M151.8 20.3L153.5 37.2" fill="none" stroke="#1d1d1d" stroke-opacity="1.000" stroke-width="2" stroke-linecap="round" stroke-linejoin="round"/><path d="M30.1 64.2L26.7 74.3" fill="none" stroke="#1d1d1d" stroke-opacity="1.000" stroke-width="2.5" stroke-linecap="round" stroke-linejoin="round"/><path d="M175.4 72.7C176.8 74.1 182.2 78 183.9 81.1C185.6 84.2 185.3 89.6 185.6 91.2" fill="none" stroke="#1d1d1d" stroke-opacity="1.000" stroke-width="2" stroke-linecap="round" stroke-linejoin="round"/><path d="M422.1 71C422.4 68.2 421.9 57.5 423.8 54.1C425.8 50.7 431.4 48.4 434 50.7C436.5 52.9 438.5 62.8 439 67.6C439.6 72.4 437.6 77.4 437.3 79.4" fill="none" stroke="#1d1d1d" stroke-opacity="1.000" stroke-width="2" stroke-linecap="round" stroke-linejoin="round"/><path d="M422.1 114.9C422.7 112.7 423.3 104.2 425.5 101.4C427.8 98.6 434 98.6 435.7 98" fill="none" stroke="#1d1d1d" stroke-opacity="1.000" stroke-width="2" stroke-linecap="round" stroke-linejoin="round"/><path d="M412 6.8L410.3 20.3" fill="none" stroke="#1d1d1d" stroke-opacity="1.000" stroke-width="2" stroke-linecap="round" stroke-linejoin="round"/><path d="M452.6 13.5L455.9 30.4" fill="none" stroke="#1d1d1d" stroke-opacity="1.000" stroke-width="2.5" stroke-linecap="round" stroke-linejoin="round"/><path d="M11.5 179.1C12.1 177.7 12.7 172.4 14.9 170.7C17.2 169 22.2 167.8 25 169C27.9 170.1 31.2 174.9 31.8 177.4C32.4 180 29 183.1 28.4 184.2" fill="none" stroke="#1d1d1d" stroke-opacity="1.000" stroke-width="2" stroke-linecap="round" stroke-linejoin="round"/><path d="M90.9 236.6C92.6 235.4 97.7 233.2 101.1 229.8C104.5 226.4 107.3 220.8 111.2 216.3C115.2 211.8 122.5 205 124.7 202.8" fill="none" stroke="#1d1d1d" stroke-opacity="1.000" stroke-width="2.5" stroke-linecap="round" stroke-linejoin="round"/><path d="M141.6 233.2C142.8 231.2 146.7 226.4 148.4 221.4C150.1 216.3 151.2 205.9 151.8 202.8" fill="none" stroke="#1d1d1d" stroke-opacity="1.000" stroke-width="2.5" stroke-linecap="round" stroke-linejoin="round"/><path d="M148.4 221.4L155.2 226.4" fill="none" stroke="#1d1d1d" stroke-opacity="1.000" stroke-width="2.5" stroke-linecap="round" stroke-linejoin="round"/><path d="M30.1 277.1L40.3 282.2" fill="none" stroke="#1d1d1d" stroke-opacity="1.000" stroke-width="2" stroke-linecap="round" stroke-linejoin="round"/><path d="M60.5 341.3C61.7 339.9 63.9 334.9 67.3 332.9C70.7 330.9 78.6 330.1 80.8 329.5" fill="none" stroke="#1d1d1d" stroke-opacity="1.000" stroke-width="2.5" stroke-linecap="round" stroke-linejoin="round"/><path d="M393.4 309.2C395.1 308.1 401.6 305 403.6 302.5C405.5 299.9 405 295.4 405.2 294" fill="none" stroke="#1d1d1d" stroke-opacity="1.000" stroke-width="2" stroke-linecap="round" stroke-linejoin="round"/><path d="M435.7 229.8L442.4 231.5" fill="none" stroke="#1d1d1d" stroke-opacity="1.000" stroke-width="2.5" stroke-linecap="round" stroke-linejoin="round"/><path d="M92.6 32.1L101.1 35.5" fill="none" stroke="#222222" stroke-opacity="1.000" stroke-width="2.5" stroke-linecap="round" stroke-linejoin="round"/><path d="M111.2 13.5C112.4 14.9 115.4 21.1 118 22C120.5 22.8 125 19.2 126.4 18.6" fill="none" stroke="#222222" stroke-opacity="1.000" stroke-width="2.5" stroke-linecap="round" stroke-linejoin="round"/><path d="M118 22L116.3 33.8" fill="none" stroke="#222222" stroke-opacity="1.000" stroke-width="4.3" stroke-linecap="round" stroke-linejoin="round"/><path d="M4.8 40.6C5.3 42.8 8.1 49.6 8.1 54.1C8.1 58.6 5.3 65.3 4.8 67.6" fill="none" stroke="#222222" stroke-opacity="1.000" stroke-width="5.3" stroke-linecap="round" stroke-linejoin="round"/><path d="M23.4 60.8C25.6 60.5 32.4 57.7 36.9 59.1C41.4 60.5 47 65.9 50.4 69.3C53.8 72.7 56 77.7 57.2 79.4" fill="none" stroke="#222222" stroke-opacity="1.000" stroke-width="2.5" stroke-linecap="round" stroke-linejoin="round"/><path d="M50.4 69.3C54.9 69 72.1 70.7 77.4 67.6C82.8 64.5 81.9 55.2 82.5 50.7C83.1 46.2 81.1 42.2 80.8 40.6" fill="none" stroke="#222222" stroke-opacity="1.000" stroke-width="2.5" stroke-linecap="round" stroke-linejoin="round"/><path d="M148.4 27C150.1 25.3 154 19.2 158.5 16.9C163 14.6 170.4 15.5 175.4 13.5C180.5 11.5 186.7 6.5 189 5.1" fill="none" stroke="#222222" stroke-opacity="1.000" stroke-width="2.5" stroke-linecap="round" stroke-linejoin="round"/><path d="M114.6 101.4L128.1 104.8" fill="none" stroke="#222222" stroke-opacity="1.000" stroke-width="2.5" stroke-linecap="round" stroke-linejoin="round"/><path d="M270.1 20.3L280.2 13.5" fill="none" stroke="#222222" stroke-opacity="1.000" stroke-width="4.3" stroke-linecap="round" stroke-linejoin="round"/><path d="M341 37.2C343.8 34.9 353.4 27 357.9 23.7C362.4 20.3 366.4 18 368.1 16.9" fill="none" stroke="#222222" stroke-opacity="1.000" stroke-width="2.5" stroke-linecap="round" stroke-linejoin="round"/><path d="M368.1 16.9C369.2 20.8 371.4 33.2 374.8 40.6C378.2 47.9 386.1 57.5 388.3 60.8" fill="none" stroke="#222222" stroke-opacity="1.000" stroke-width="2.5" stroke-linecap="round" stroke-linejoin="round"/><path d="M165.3 202.8L166 216.3" fill="none" stroke="#222222" stroke-opacity="1.000" stroke-width="2" stroke-linecap="round" stroke-linejoin="round"/><path d="M57.2 325.1C58.8 323.6 64.8 319.8 67.3 316C69.8 312.2 71.5 304.7 72.4 302.5" fill="none" stroke="#222222" stroke-opacity="1.000" stroke-width="2.5" stroke-linecap="round" stroke-linejoin="round"/><path d="M131.5 324.4C132.1 326.7 133.2 334.9 134.9 338C136.6 341 140.5 342.2 141.6 343" fill="none" stroke="#222222" stroke-opacity="1.000" stroke-width="5.3" stroke-linecap="round" stroke-linejoin="round"/><path d="M189 317.7C190.6 315.7 196.2 308.7 199.1 305.8C202 303 205.3 301.6 206.5 300.8" fill="none" stroke="#222222" stroke-opacity="1.000" stroke-width="4.3" stroke-linecap="round" stroke-linejoin="round"/><path d="M206.5 300.8C208.1 299.7 213 297.1 216 294C219 290.9 223 284.2 224.4 282.2" fill="none" stroke="#222222" stroke-opacity="1.000" stroke-width="3" stroke-linecap="round" stroke-linejoin="round"/><path d="M206.5 300.8C207 303.6 207.1 312.6 209.2 317.7C211.4 322.7 217.7 328.9 219.4 331.2" fill="none" stroke="#222222" stroke-opacity="1.000" stroke-width="4.3" stroke-linecap="round" stroke-linejoin="round"/><path d="M189 290.6L206.5 300.8" fill="none" stroke="#222222" stroke-opacity="1.000" stroke-width="3" stroke-linecap="round" stroke-linejoin="round"/><path d="M296.4 270.4C294.8 272.3 291.4 279.4 287 282.2C282.6 285 275.7 285.6 270.1 287.3C264.4 288.9 257.7 292.9 253.2 292.3C248.7 291.8 244.7 285.3 243 283.9" fill="none" stroke="#222222" stroke-opacity="1.000" stroke-width="2.5" stroke-linecap="round" stroke-linejoin="round"/><path d="M84.2 10.1C85 11.8 87.8 16.6 89.3 20.3C90.7 23.9 92.1 30.1 92.6 32.1" fill="none" stroke="#282828" stroke-opacity="1.000" stroke-width="7.3" stroke-linecap="round" stroke-linejoin="round"/><path d="M199.1 43.9C200.8 46.8 205.6 54.9 209.2 60.8C212.9 66.7 217.1 73.5 221.1 79.4C225 85.3 229.2 91.6 232.9 96.3C236.5 101 241.3 105.6 243 107.5" fill="none" stroke="#282828" stroke-opacity="1.000" stroke-width="2.5" stroke-linecap="round" stroke-linejoin="round"/><path d="M238 30.4C239.9 31.3 245.6 35.2 249.8 35.5C254 35.8 259.9 34.6 263.3 32.1C266.7 29.6 268.3 23.9 270.1 20.3C271.9 16.6 273.4 11.8 274.1 10.1" fill="none" stroke="#282828" stroke-opacity="1.000" stroke-width="3" stroke-linecap="round" stroke-linejoin="round"/><path d="M320.8 13.5C322.7 15.8 329.2 23.1 332.6 27C336 31 339.6 35.5 341 37.2" fill="none" stroke="#282828" stroke-opacity="1.000" stroke-width="4.3" stroke-linecap="round" stroke-linejoin="round"/><path d="M339.3 30.4C339.9 34.9 341.9 48.4 342.7 57.5C343.6 66.5 344.1 80 344.4 84.5" fill="none" stroke="#282828" stroke-opacity="1.000" stroke-width="6.3" stroke-linecap="round" stroke-linejoin="round"/><path d="M388.3 60.8L405.2 61.5" fill="none" stroke="#282828" stroke-opacity="1.000" stroke-width="2.5" stroke-linecap="round" stroke-linejoin="round"/><path d="M388.3 60.8C386.9 63.4 380.7 72.1 379.9 76C379.1 80 382.7 83.1 383.3 84.5" fill="none" stroke="#282828" stroke-opacity="1.000" stroke-width="3" stroke-linecap="round" stroke-linejoin="round"/><path d="M354.5 101.4C354.4 99.7 352.2 93.4 353.9 91.2C355.6 89.1 360.9 88 364.7 88.5C368.5 89.1 374.5 93.6 376.5 94.6" fill="none" stroke="#282828" stroke-opacity="1.000" stroke-width="2.5" stroke-linecap="round" stroke-linejoin="round"/><path d="M38.6 206.2C38.7 203.9 37.6 195.2 39.6 192.6C41.5 190.1 48.6 191.2 50.4 190.9" fill="none" stroke="#282828" stroke-opacity="1.000" stroke-width="2" stroke-linecap="round" stroke-linejoin="round"/><path d="M50.4 190.9C52.4 192.1 58.8 198 62.2 197.7C65.6 197.4 69 193.2 70.7 189.3C72.4 185.3 72.1 176.6 72.4 174" fill="none" stroke="#282828" stroke-opacity="1.000" stroke-width="2.5" stroke-linecap="round" stroke-linejoin="round"/><path d="M178.8 199.4L178.1 216.3" fill="none" stroke="#282828" stroke-opacity="1.000" stroke-width="2" stroke-linecap="round" stroke-linejoin="round"/><path d="M199.1 196L202.5 195" fill="none" stroke="#282828" stroke-opacity="1.000" stroke-width="2.5" stroke-linecap="round" stroke-linejoin="round"/><path d="M290.3 260.2L296.4 270.4" fill="none" stroke="#282828" stroke-opacity="1.000" stroke-width="2.5" stroke-linecap="round" stroke-linejoin="round"/><path d="M296.4 270.4C297.7 273.2 301.5 282.5 303.9 287.3C306.2 292 309.5 297.1 310.6 299.1" fill="none" stroke="#282828" stroke-opacity="1.000" stroke-width="3" stroke-linecap="round" stroke-linejoin="round"/><path d="M128.1 108.1C128.4 106.5 128.7 101.4 129.8 98C130.9 94.6 132.3 90.7 134.9 87.9C137.4 85.1 143.3 82.2 145 81.1" fill="none" stroke="#2d2d2d" stroke-opacity="1.000" stroke-width="5.3" stroke-linecap="round" stroke-linejoin="round"/><ellipse cx="388.3" cy="61.5" rx="4.1" ry="3.4" fill="#2d2d2d" fill-opacity="1.000"/><ellipse cx="206.5" cy="301.5" rx="4.7" ry="4.7" fill="#2d2d2d" fill-opacity="1.000"/><path d="M3.1 324.4C4.8 323 8.7 318 13.2 316C17.7 314 25 312.6 30.1 312.6C35.2 312.6 39.1 313.9 43.6 316C48.1 318.1 54.9 323.6 57.2 325.1" fill="none" stroke="#323232" stroke-opacity="1.000" stroke-width="4.3" stroke-linecap="round" stroke-linejoin="round"/><ellipse cx="296.4" cy="270.4" rx="3.4" ry="4.1" fill="#323232" fill-opacity="1.000"/><path d="M310.6 299.1C312.9 299.8 317.9 302.9 324.1 303.1C330.3 303.4 340.5 301.3 347.8 300.8C355.1 300.3 364.7 300.2 368.1 300.1" fill="none" stroke="#323232" stroke-opacity="1.000" stroke-width="4.8" stroke-linecap="round" stroke-linejoin="round"/><path d="M145 81.1C147.3 80.7 153.5 79.8 158.5 78.4C163.6 77 172.6 73.6 175.4 72.7" fill="none" stroke="#373737" stroke-opacity="1.000" stroke-width="4.8" stroke-linecap="round" stroke-linejoin="round"/><path d="M243 107.5C245.3 108 252.6 108.8 256.5 110.8C260.5 112.9 264.6 116.2 266.7 120C268.8 123.7 268.7 131.2 269 133.5" fill="none" stroke="#373737" stroke-opacity="1.000" stroke-width="2.7" stroke-linecap="round" stroke-linejoin="round"/><path d="M368.1 300.1C369.8 301.3 374 306 378.2 307.5C382.4 309.1 390.9 308.9 393.4 309.2" fill="none" stroke="#373737" stroke-opacity="1.000" stroke-width="5.3" stroke-linecap="round" stroke-linejoin="round"/><path d="M439 94.6C440.7 93.6 446.1 90 449.2 88.5C452.3 87.1 456.2 86.6 457.6 86.2" fill="none" stroke="#3c3c3c" stroke-opacity="1.000" stroke-width="7.3" stroke-linecap="round" stroke-linejoin="round"/></g>
<g filter="url(#bl1_3)"><path d="M1.4 111.5C3.8 111.4 26.9 109.6 30.1 109.8C33.4 110.1 37.7 113.6 40.3 114.9C42.8 116.2 57.2 123.4 60.5 125C63.9 126.7 77.4 133.5 80.8 134.5C84.2 135.5 98.3 135.8 101.1 136.9C103.9 137.9 112.4 146 114.6 147C116.9 148 125.3 147.7 128.1 148.7C130.9 149.7 145 157.3 148.4 158.8C151.8 160.4 164.7 166.5 168.7 167.3C172.6 168.1 192.6 167.6 195.7 168.3C198.8 169 204.3 174.6 205.9 175.7C207.4 176.9 213.3 181.3 214.3 182.5C215.3 183.7 217.5 188.7 217.7 189.9C217.9 191.1 217.1 196.1 217 196.7" fill="none" stroke="#fff" stroke-opacity="0.100" stroke-width="3.4" stroke-linecap="round" stroke-linejoin="round"/><path d="M1.4 214.6C2.4 215.3 10.8 221.6 13.2 223C15.6 224.5 27.9 229.8 30.1 231.5C32.4 233.2 37.7 241.5 40.3 243.3C42.8 245.2 57.4 251.5 60.5 253.5C63.6 255.4 75.2 265.3 77.4 267C79.7 268.7 84.2 273.2 87.6 273.7C90.9 274.2 112.9 273.3 118 273.1C123.1 272.8 144.7 271.4 148.4 270.4C152.1 269.3 159.4 262.1 161.9 260.2C164.5 258.4 176 250.9 178.8 248.4C181.6 245.9 192.9 231.7 195.7 229.8C198.5 227.9 210.5 226.9 212.6 225.8C214.7 224.6 219.9 218.2 221.1 216.3C222.2 214.4 225.4 204.3 226.1 202.8C226.9 201.2 228.8 198.4 230.2 197.7C231.6 197 240.5 194.8 243 194.3C245.5 193.8 258.5 192.2 259.9 192" fill="none" stroke="#fff" stroke-opacity="0.100" stroke-width="3.4" stroke-linecap="round" stroke-linejoin="round"/><path d="M268.7 183.2C268.5 182.3 265.9 174.2 266 172.4C266.1 170.5 268 162.1 270.1 160.9C272.1 159.6 287.5 158.2 290.3 157.1C293.2 156.1 301 149.8 303.9 148.7C306.7 147.6 321 144.8 324.1 143.6C327.2 142.5 338.5 135.9 341 135.2C343.6 134.4 352 133.8 354.5 134.5C357.1 135.2 368.3 142 371.4 143.6C374.5 145.2 388.3 151.9 391.7 153.8C395.1 155.6 408.6 163.5 412 165.6C415.4 167.7 429.5 177.5 432.3 179.1C435.1 180.7 443.7 184.5 445.8 185.2C447.9 185.9 456.9 187.7 458 187.9" fill="none" stroke="#fff" stroke-opacity="0.100" stroke-width="3.4" stroke-linecap="round" stroke-linejoin="round"/><path d="M259.9 192C260.5 192.6 265.7 198.6 267.4 200.1C269 201.5 277.7 208 280.2 209.5C282.7 211 294 217 297.1 218C300.2 219 314 220.4 317.4 221.4C320.8 222.3 334.3 228.3 337.7 229.8C341 231.3 354.5 238.3 357.9 239.3C361.3 240.3 374.8 240.7 378.2 241.6C381.6 242.5 395.7 248.4 398.5 250.1C401.3 251.8 409.2 260.5 412 261.9C414.8 263.3 429.5 266 432.3 267C435.1 268 443.7 272.7 445.8 273.7C447.9 274.8 456.9 279.3 458 279.8" fill="none" stroke="#fff" stroke-opacity="0.100" stroke-width="3.4" stroke-linecap="round" stroke-linejoin="round"/></g>
</g>
<g filter="url(#bl0_5)"><path d="M1.4 111.5C3.8 111.4 26.9 109.6 30.1 109.8C33.4 110.1 37.7 113.6 40.3 114.9C42.8 116.2 57.2 123.4 60.5 125C63.9 126.7 77.4 133.5 80.8 134.5C84.2 135.5 98.3 135.8 101.1 136.9C103.9 137.9 112.4 146 114.6 147C116.9 148 125.3 147.7 128.1 148.7C130.9 149.7 145 157.3 148.4 158.8C151.8 160.4 164.7 166.5 168.7 167.3C172.6 168.1 192.6 167.6 195.7 168.3C198.8 169 204.3 174.6 205.9 175.7C207.4 176.9 213.3 181.3 214.3 182.5C215.3 183.7 217.5 188.7 217.7 189.9C217.9 191.1 217.1 196.1 217 196.7" fill="none" stroke="url(#jg22)" stroke-width="2.3" stroke-linecap="butt" stroke-linejoin="round"/><path d="M1.4 214.6C2.4 215.3 10.8 221.6 13.2 223C15.6 224.5 27.9 229.8 30.1 231.5C32.4 233.2 37.7 241.5 40.3 243.3C42.8 245.2 57.4 251.5 60.5 253.5C63.6 255.4 75.2 265.3 77.4 267C79.7 268.7 84.2 273.2 87.6 273.7C90.9 274.2 112.9 273.3 118 273.1C123.1 272.8 144.7 271.4 148.4 270.4C152.1 269.3 159.4 262.1 161.9 260.2C164.5 258.4 176 250.9 178.8 248.4C181.6 245.9 192.9 231.7 195.7 229.8C198.5 227.9 210.5 226.9 212.6 225.8C214.7 224.6 219.9 218.2 221.1 216.3C222.2 214.4 225.4 204.3 226.1 202.8C226.9 201.2 228.8 198.4 230.2 197.7C231.6 197 240.5 194.8 243 194.3C245.5 193.8 258.5 192.2 259.9 192" fill="none" stroke="url(#jg23)" stroke-width="2.3" stroke-linecap="butt" stroke-linejoin="round"/><path d="M268.7 183.2C268.5 182.3 265.9 174.2 266 172.4C266.1 170.5 268 162.1 270.1 160.9C272.1 159.6 287.5 158.2 290.3 157.1C293.2 156.1 301 149.8 303.9 148.7C306.7 147.6 321 144.8 324.1 143.6C327.2 142.5 338.5 135.9 341 135.2C343.6 134.4 352 133.8 354.5 134.5C357.1 135.2 368.3 142 371.4 143.6C374.5 145.2 388.3 151.9 391.7 153.8C395.1 155.6 408.6 163.5 412 165.6C415.4 167.7 429.5 177.5 432.3 179.1C435.1 180.7 443.7 184.5 445.8 185.2C447.9 185.9 456.9 187.7 458 187.9" fill="none" stroke="url(#jg24)" stroke-width="2.3" stroke-linecap="butt" stroke-linejoin="round"/><path d="M259.9 192C260.5 192.6 265.7 198.6 267.4 200.1C269 201.5 277.7 208 280.2 209.5C282.7 211 294 217 297.1 218C300.2 219 314 220.4 317.4 221.4C320.8 222.3 334.3 228.3 337.7 229.8C341 231.3 354.5 238.3 357.9 239.3C361.3 240.3 374.8 240.7 378.2 241.6C381.6 242.5 395.7 248.4 398.5 250.1C401.3 251.8 409.2 260.5 412 261.9C414.8 263.3 429.5 266 432.3 267C435.1 268 443.7 272.7 445.8 273.7C447.9 274.8 456.9 279.3 458 279.8" fill="none" stroke="url(#jg25)" stroke-width="2.3" stroke-linecap="butt" stroke-linejoin="round"/><path d="M286.3 185.2L291.7 185.5" fill="none" stroke="#05fffa" stroke-opacity="1.000" stroke-width="2.4" stroke-linecap="butt" stroke-linejoin="round"/><path d="M294.4 186.5L298.4 186.9" fill="none" stroke="#00f0ff" stroke-opacity="1.000" stroke-width="2.4" stroke-linecap="butt" stroke-linejoin="round"/><path d="M228.2 200.1C228.6 199.7 231.4 197.2 232.9 196.7C234.4 196.1 240.8 195.1 243 194.7C245.2 194.3 253.1 192.9 254.9 192.6C256.6 192.4 260 192 260.6 192" fill="none" stroke="#ff0500" stroke-opacity="1.000" stroke-width="3.1" stroke-linecap="round" stroke-linejoin="round"/><path d="M255.9 192.3L260.6 191.6" fill="none" stroke="#ff4c00" stroke-opacity="1.000" stroke-width="3.8" stroke-linecap="round" stroke-linejoin="round"/></g>
</g>
<path d="M93.2 345.8v-4.6M93.2 1v4.6M184.4 345.8v-4.6M184.4 1v4.6M275.6 345.8v-4.6M275.6 1v4.6M366.8 345.8v-4.6M366.8 1v4.6M1 290.2h5.2M457.8 290.2h-4.6M1 236.7h5.2M457.8 236.7h-4.6M1 183.3h5.2M457.8 183.3h-4.6M1 129.8h5.2M457.8 129.8h-4.6M1 76.4h5.2M457.8 76.4h-4.6M1 22.9h5.2M457.8 22.9h-4.6" stroke="#262626" stroke-width="1.5" stroke-opacity="0.7" fill="none"/>
<path d="M457.65 0.4V346.6" fill="none" stroke="#26262c" stroke-width="2.3" stroke-opacity="0.92"/>
<path d="M0.4 345.50H458.7" fill="none" stroke="#26262c" stroke-width="2.3" stroke-opacity="0.92"/>
<path d="M1.3 346.65000000000003V1.3H458.7" fill="none" stroke="#262626" stroke-width="2.6"/>
</g>
<g class="tk">
<text x="740.7" y="839.2" text-anchor="end">20</text>
<text x="740.7" y="785.9" text-anchor="end">40</text>
<text x="740.7" y="732.5" text-anchor="end">60</text>
<text x="740.7" y="679.2" text-anchor="end">80</text>
<text x="740.7" y="625.9" text-anchor="end">100</text>
<text x="740.7" y="572.5" text-anchor="end">120</text>
<text x="748.5" y="923.0" text-anchor="middle">0</text>
<text x="840.0" y="923.0" text-anchor="middle">0.2</text>
<text x="931.4" y="923.0" text-anchor="middle">0.4</text>
<text x="1022.9" y="923.0" text-anchor="middle">0.6</text>
<text x="1114.3" y="923.0" text-anchor="middle">0.8</text>
<text x="1205.8" y="923.0" text-anchor="middle">1</text>
<text x="977.0" y="967.4" text-anchor="middle">Time / s</text>
<text transform="translate(668.9 707.2) rotate(-90)" text-anchor="middle">Freq / Hz</text>
</g>
<text class="cap" x="982.0" y="1016.4" text-anchor="middle" stroke="#000" stroke-width="0.15">(e)</text>
<g transform="translate(1383.1 534.1) scale(1.00174 0.99856)">
<g clip-path="url(#clipP)"><g filter="url(#jet)">
<rect x="-40" y="-40" width="538.8" height="426.8" fill="#040404"/>
<g filter="url(#bl2_5)"><path d="M0 0H458.8V346.8H0Z M16 14V332.8H438.8V14Z" fill="#fff" fill-opacity="0.022" fill-rule="evenodd"/><path d="M0 92.3L4.3 93.7L10.2 97.1L36.6 107.3L51.1 113.3L78.4 123L92 129.5L119.3 139.7L136.3 145.7L163.5 155L180.6 161L204.4 168.7L222 176L236 181.5L252 189.5L255.6 190.7L262.4 193.3L281.1 200.1L303.3 208.6L325.4 217.1L345.8 225.7L369.7 232.5L390.1 241.8L410.6 249.5L427.6 258L443 265.7L454.9 271.1L458.5 272.5" fill="none" stroke="#fff" stroke-opacity="0.025" stroke-width="20" stroke-linecap="round" stroke-linejoin="round"/><path d="M0 203.5L5.1 206.9L18.7 216.3L30.7 225.7L46 235.9L59.6 243.6L73.3 249.5L85.2 255.5L92 258L108 258L112.4 260.6L117 264L126 264L131.2 260.9L139.7 258L148.2 255.1L158.4 249.5L163.5 246.4L175.5 239.3L180.6 235.9L187.4 229.9L197.6 223.1L206.1 217.1L216.4 208.6L224.9 201L230 197.6L240.2 187.3L252.1 178L257.3 173.8L264.1 168.7L272.6 161.8L281.1 155.9L289.6 149.9L298.1 146.5L306.7 142.2L316.9 139.4L322 136.6L354.4 136.6L357.8 139.7L362 139.7L366.3 136.6L372 136.6L374.8 139.7L383.3 144L393.5 149.9L403.8 155L414 161L422.5 166.1L432.7 171.2L444.7 180.5L454.9 187.7L458.5 189.5" fill="none" stroke="#fff" stroke-opacity="0.025" stroke-width="20" stroke-linecap="round" stroke-linejoin="round"/><path d="M300 146C303.7 144.5 312 138.7 322 137C332 135.3 349.5 135 360 136C370.5 137 380.8 141.8 385 143" fill="none" stroke="#fff" stroke-opacity="0.030" stroke-width="26" stroke-linecap="round" stroke-linejoin="round"/><path d="M85 255C90.8 256.5 109.2 264 120 264C130.8 264 145 256.5 150 255" fill="none" stroke="#fff" stroke-opacity="0.030" stroke-width="24" stroke-linecap="round" stroke-linejoin="round"/><path d="M215 205C219.2 202.2 232.2 193.8 240 188C247.8 182.2 258.3 173 262 170" fill="none" stroke="#fff" stroke-opacity="0.035" stroke-width="26" stroke-linecap="round" stroke-linejoin="round"/></g>
<g filter="url(#bl0_5)"><path d="M143.1 4.6L183.1 4.6" fill="none" stroke="#222222" stroke-opacity="1.000" stroke-width="3" stroke-linecap="butt" stroke-linejoin="round"/><path d="M185.7 4.3L230 4.3" fill="none" stroke="#1f1f1f" stroke-opacity="1.000" stroke-width="2.6" stroke-linecap="butt" stroke-linejoin="round"/><path d="M230 4.3L274.3 4.3" fill="none" stroke="#1f1f1f" stroke-opacity="1.000" stroke-width="2.6" stroke-linecap="butt" stroke-linejoin="round"/><path d="M277.7 7.2L318.6 7.2" fill="none" stroke="#272727" stroke-opacity="1.000" stroke-width="3.4" stroke-linecap="butt" stroke-linejoin="round"/><path d="M318.6 4.6L332.2 4.6" fill="none" stroke="#222222" stroke-opacity="1.000" stroke-width="2.6" stroke-linecap="butt" stroke-linejoin="round"/><path d="M345.8 4.6L410.6 4.6" fill="none" stroke="#1a1a1a" stroke-opacity="1.000" stroke-width="2.4" stroke-linecap="butt" stroke-linejoin="round"/><path d="M127.8 327.9L141.4 330.1L192.5 330.4L195.9 327.9L230 327.9" fill="none" stroke="#1d1d1d" stroke-opacity="1.000" stroke-width="2.4" stroke-linecap="butt" stroke-linejoin="round"/><path d="M230 327.9L294.7 327.9L298.1 323.6" fill="none" stroke="#1d1d1d" stroke-opacity="1.000" stroke-width="2.4" stroke-linecap="butt" stroke-linejoin="round"/><path d="M422.5 335.5L436.1 335.5L439.5 325.3" fill="none" stroke="#1d1d1d" stroke-opacity="1.000" stroke-width="2.4" stroke-linecap="butt" stroke-linejoin="round"/><path stroke-dasharray="3.2 1.2" d="M187.4 32.4L207.8 52.8L228.3 75" fill="none" stroke="#343434" stroke-opacity="1.000" stroke-width="2.2" stroke-linecap="butt" stroke-linejoin="round"/><path d="M131.2 82.6L136.3 82.6" fill="none" stroke="#272727" stroke-opacity="1.000" stroke-width="2.6" stroke-linecap="butt" stroke-linejoin="round"/><path stroke-dasharray="4 1.2" d="M136.3 81.8L153.3 70.7L170.4 61.7" fill="none" stroke="#272727" stroke-opacity="1.000" stroke-width="2.4" stroke-linecap="butt" stroke-linejoin="round"/><path stroke-dasharray="2 3" d="M87.7 17L84.3 34.1L81.8 51.1" fill="none" stroke="#1a1a1a" stroke-opacity="1.000" stroke-width="1.8" stroke-linecap="butt" stroke-linejoin="round"/><path stroke-dasharray="3 2" d="M81.8 51.1L68.1 62.2" fill="none" stroke="#1a1a1a" stroke-opacity="1.000" stroke-width="1.8" stroke-linecap="butt" stroke-linejoin="round"/><path d="M49.4 55.4L54.5 55.9" fill="none" stroke="#1d1d1d" stroke-opacity="1.000" stroke-width="2.2" stroke-linecap="butt" stroke-linejoin="round"/><path d="M88.6 42.6L93.7 42.9" fill="none" stroke="#1d1d1d" stroke-opacity="1.000" stroke-width="2.2" stroke-linecap="butt" stroke-linejoin="round"/><path stroke-dasharray="2 3" d="M151.6 27.3L148.2 40.9L144 56.2" fill="none" stroke="#1d1d1d" stroke-opacity="1.000" stroke-width="1.8" stroke-linecap="butt" stroke-linejoin="round"/><path stroke-dasharray="2 2" d="M132.9 42.6L146.5 40" fill="none" stroke="#151515" stroke-opacity="1.000" stroke-width="1.6" stroke-linecap="butt" stroke-linejoin="round"/><path stroke-dasharray="2 2" d="M95.4 18.7L103.9 23" fill="none" stroke="#151515" stroke-opacity="1.000" stroke-width="1.6" stroke-linecap="butt" stroke-linejoin="round"/><path d="M122.7 71.6L129.5 78.4" fill="none" stroke="#171717" stroke-opacity="1.000" stroke-width="1.6" stroke-linecap="butt" stroke-linejoin="round"/><path d="M3.4 55.5L6.5 55.5" fill="none" stroke="#272727" stroke-opacity="1.000" stroke-width="2.6" stroke-linecap="butt" stroke-linejoin="round"/><path d="M12.8 44.3L15.3 46" fill="none" stroke="#222222" stroke-opacity="1.000" stroke-width="2" stroke-linecap="butt" stroke-linejoin="round"/><path d="M7.2 129.5L12.3 129.5" fill="none" stroke="#404040" stroke-opacity="1.000" stroke-width="2.8" stroke-linecap="butt" stroke-linejoin="round"/><path d="M11.9 155.4L14.7 155.4" fill="none" stroke="#363636" stroke-opacity="1.000" stroke-width="2.6" stroke-linecap="butt" stroke-linejoin="round"/><path d="M15.3 36.6L17 38.3" fill="none" stroke="#1a1a1a" stroke-opacity="1.000" stroke-width="2" stroke-linecap="butt" stroke-linejoin="round"/><path stroke-dasharray="2 2" d="M17 163.5L22.1 168.7L27.3 173.8" fill="none" stroke="#222222" stroke-opacity="1.000" stroke-width="1.8" stroke-linecap="butt" stroke-linejoin="round"/><path stroke-dasharray="2 2" d="M37.5 170.4L41.7 160.1" fill="none" stroke="#222222" stroke-opacity="1.000" stroke-width="1.8" stroke-linecap="butt" stroke-linejoin="round"/><path d="M175.5 71.6L180.6 75" fill="none" stroke="#151515" stroke-opacity="1.000" stroke-width="1.6" stroke-linecap="butt" stroke-linejoin="round"/><path stroke-dasharray="3.2 1.2" d="M230 73.3L247 95.4L262.4 114.1" fill="none" stroke="#343434" stroke-opacity="1.000" stroke-width="2.2" stroke-linecap="butt" stroke-linejoin="round"/><path stroke-dasharray="2 3" d="M260.7 76.7L266.6 95.4L270.9 105.6" fill="none" stroke="#1d1d1d" stroke-opacity="1.000" stroke-width="1.8" stroke-linecap="butt" stroke-linejoin="round"/><path stroke-dasharray="2 3" d="M247 42.6L253.9 52.8L260.7 63" fill="none" stroke="#1a1a1a" stroke-opacity="1.000" stroke-width="1.8" stroke-linecap="butt" stroke-linejoin="round"/><path stroke-dasharray="2 3" d="M262.4 22.1L266.6 32.4L264.1 46" fill="none" stroke="#151515" stroke-opacity="1.000" stroke-width="1.6" stroke-linecap="butt" stroke-linejoin="round"/><path d="M235.1 117.5L244.5 117.5" fill="none" stroke="#1d1d1d" stroke-opacity="1.000" stroke-width="2" stroke-linecap="butt" stroke-linejoin="round"/><path stroke-dasharray="3 2" d="M263.2 114.1L272.6 102.2" fill="none" stroke="#1d1d1d" stroke-opacity="1.000" stroke-width="1.8" stroke-linecap="butt" stroke-linejoin="round"/><path d="M293 66.4L298.1 66.8" fill="none" stroke="#151515" stroke-opacity="1.000" stroke-width="1.8" stroke-linecap="butt" stroke-linejoin="round"/><path stroke-dasharray="2.2 2.6" d="M333.1 17L339 37.5L344.1 58.8L349.3 80.1" fill="none" stroke="#2e2e2e" stroke-opacity="1.000" stroke-width="2.4" stroke-linecap="butt" stroke-linejoin="round"/><path stroke-dasharray="2.2 2.6" d="M365.4 36.6L360.3 58.8L354.4 80.1" fill="none" stroke="#292929" stroke-opacity="1.000" stroke-width="2.2" stroke-linecap="butt" stroke-linejoin="round"/><path d="M348.4 82.6L354.4 82.6" fill="none" stroke="#292929" stroke-opacity="1.000" stroke-width="3" stroke-linecap="butt" stroke-linejoin="round"/><path stroke-dasharray="4 1.2" d="M404.6 51.1L391.8 64.7L379.9 75L368 86" fill="none" stroke="#242424" stroke-opacity="1.000" stroke-width="2.4" stroke-linecap="butt" stroke-linejoin="round"/><path d="M362.9 83.5L368 87.7" fill="none" stroke="#222222" stroke-opacity="1.000" stroke-width="2" stroke-linecap="butt" stroke-linejoin="round"/><path stroke-dasharray="3 2" d="M368 26.4L378.2 30.7L388.4 36.6" fill="none" stroke="#1f1f1f" stroke-opacity="1.000" stroke-width="2" stroke-linecap="butt" stroke-linejoin="round"/><path d="M390.1 42.6L398.7 37.5" fill="none" stroke="#1d1d1d" stroke-opacity="1.000" stroke-width="2" stroke-linecap="butt" stroke-linejoin="round"/><path stroke-dasharray="2 3" d="M411.4 12.8L424.2 34.1L437.8 57.1" fill="none" stroke="#1d1d1d" stroke-opacity="1.000" stroke-width="1.8" stroke-linecap="butt" stroke-linejoin="round"/><path d="M413.1 44.3L420.8 36.6" fill="none" stroke="#1d1d1d" stroke-opacity="1.000" stroke-width="2" stroke-linecap="butt" stroke-linejoin="round"/><path stroke-dasharray="2 3" d="M398.7 15.3L396.1 27.3" fill="none" stroke="#171717" stroke-opacity="1.000" stroke-width="1.6" stroke-linecap="butt" stroke-linejoin="round"/><path d="M422.5 55.4L425.9 55.4" fill="none" stroke="#171717" stroke-opacity="1.000" stroke-width="1.8" stroke-linecap="butt" stroke-linejoin="round"/><path d="M454.9 53.2L457.9 53.2" fill="none" stroke="#484848" stroke-opacity="1.000" stroke-width="2.8" stroke-linecap="butt" stroke-linejoin="round"/><path d="M453.5 82.6L456.2 82.6" fill="none" stroke="#484848" stroke-opacity="1.000" stroke-width="2.8" stroke-linecap="butt" stroke-linejoin="round"/><path stroke-dasharray="2 4" d="M437 92.8L439.5 102.2L442.9 121" fill="none" stroke="#222222" stroke-opacity="1.000" stroke-width="1.8" stroke-linecap="butt" stroke-linejoin="round"/><path stroke-dasharray="2 3" d="M30.7 185.6L34.1 179.7L37.5 174.6" fill="none" stroke="#2c2c2c" stroke-opacity="1.000" stroke-width="1.8" stroke-linecap="butt" stroke-linejoin="round"/><path stroke-dasharray="2 3" d="M63 195.9L66.4 188.2L69.8 180.5" fill="none" stroke="#1f1f1f" stroke-opacity="1.000" stroke-width="1.8" stroke-linecap="butt" stroke-linejoin="round"/><path d="M75.8 187.7L78.7 187.7" fill="none" stroke="#222222" stroke-opacity="1.000" stroke-width="2" stroke-linecap="butt" stroke-linejoin="round"/><path stroke-dasharray="2 2" d="M42.6 184.8L49.4 175.4L54.5 174.6" fill="none" stroke="#1a1a1a" stroke-opacity="1.000" stroke-width="1.6" stroke-linecap="butt" stroke-linejoin="round"/><path d="M79.2 200.1L80.1 201.8" fill="none" stroke="#1d1d1d" stroke-opacity="1.000" stroke-width="1.8" stroke-linecap="butt" stroke-linejoin="round"/><path d="M30.7 285.3L34.1 280.7L38.3 279.3L42.6 282.4" fill="none" stroke="#222222" stroke-opacity="1.000" stroke-width="2" stroke-linecap="butt" stroke-linejoin="round"/><path stroke-dasharray="2.2 2.6" d="M43.4 289.5L47.7 304.9L52.8 320.2" fill="none" stroke="#2e2e2e" stroke-opacity="1.000" stroke-width="2.2" stroke-linecap="butt" stroke-linejoin="round"/><path stroke-dasharray="2 3" d="M53.7 325.3L57.9 335.5" fill="none" stroke="#1a1a1a" stroke-opacity="1.000" stroke-width="1.6" stroke-linecap="butt" stroke-linejoin="round"/><path d="M3.4 309.1L7.7 304L12.8 303.5" fill="none" stroke="#242424" stroke-opacity="1.000" stroke-width="2.4" stroke-linecap="butt" stroke-linejoin="round"/><path d="M14.5 306.6L23.9 307.1" fill="none" stroke="#272727" stroke-opacity="1.000" stroke-width="2.6" stroke-linecap="butt" stroke-linejoin="round"/><path d="M24.7 309.1L30.7 309.5" fill="none" stroke="#242424" stroke-opacity="1.000" stroke-width="2.4" stroke-linecap="butt" stroke-linejoin="round"/><path d="M54.5 301.5L58.8 297.7L63.9 304" fill="none" stroke="#1d1d1d" stroke-opacity="1.000" stroke-width="1.8" stroke-linecap="butt" stroke-linejoin="round"/><path d="M58.8 316.8L65.6 319.9" fill="none" stroke="#1a1a1a" stroke-opacity="1.000" stroke-width="1.8" stroke-linecap="butt" stroke-linejoin="round"/><path d="M72.4 318.8L75 320.2" fill="none" stroke="#171717" stroke-opacity="1.000" stroke-width="1.6" stroke-linecap="butt" stroke-linejoin="round"/><path d="M197.6 304L203.6 295L208.2 300.1" fill="none" stroke="#151515" stroke-opacity="1.000" stroke-width="1.6" stroke-linecap="butt" stroke-linejoin="round"/><path d="M195.9 308.3L194.2 315.1" fill="none" stroke="#101010" stroke-opacity="1.000" stroke-width="1.4" stroke-linecap="butt" stroke-linejoin="round"/><path d="M287.9 266L297.3 261.4L305 261.4" fill="none" stroke="#222222" stroke-opacity="1.000" stroke-width="2.2" stroke-linecap="butt" stroke-linejoin="round"/><path stroke-dasharray="2.2 2.6" d="M305 267.4L308.4 281L311.8 296.4" fill="none" stroke="#272727" stroke-opacity="1.000" stroke-width="2" stroke-linecap="butt" stroke-linejoin="round"/><path stroke-dasharray="2 3" d="M313.5 298.1L318.6 315.1" fill="none" stroke="#171717" stroke-opacity="1.000" stroke-width="1.6" stroke-linecap="butt" stroke-linejoin="round"/><path d="M314.3 287L332.2 290.4L352.7 298.1L369.7 303.2" fill="none" stroke="#272727" stroke-opacity="1.000" stroke-width="2.6" stroke-linecap="butt" stroke-linejoin="round"/><path stroke-dasharray="2.2 2.6" d="M369.7 284.4L378.2 306.6L390.1 333.8" fill="none" stroke="#222222" stroke-opacity="1.000" stroke-width="2" stroke-linecap="butt" stroke-linejoin="round"/><path stroke-dasharray="4 1.5" d="M383.3 308.3L391.8 299.8L402.1 295" fill="none" stroke="#222222" stroke-opacity="1.000" stroke-width="2" stroke-linecap="butt" stroke-linejoin="round"/><path stroke-dasharray="2 2" d="M335.6 320.2L340.7 326.2L346.7 333" fill="none" stroke="#151515" stroke-opacity="1.000" stroke-width="1.6" stroke-linecap="butt" stroke-linejoin="round"/><path d="M417.4 321.9L420.8 318.8L424.2 322.8" fill="none" stroke="#151515" stroke-opacity="1.000" stroke-width="1.6" stroke-linecap="butt" stroke-linejoin="round"/><path d="M272.6 293L274.6 296" fill="none" stroke="#171717" stroke-opacity="1.000" stroke-width="1.6" stroke-linecap="butt" stroke-linejoin="round"/><path d="M444.3 209.5L446 214.6" fill="none" stroke="#505050" stroke-opacity="1.000" stroke-width="2.2" stroke-linecap="butt" stroke-linejoin="round"/><path d="M447.2 218.8L448.9 223.1" fill="none" stroke="#767676" stroke-opacity="1.000" stroke-width="2.2" stroke-linecap="butt" stroke-linejoin="round"/><path d="M449.4 229.1L450.3 231.6" fill="none" stroke="#838383" stroke-opacity="1.000" stroke-width="2.2" stroke-linecap="butt" stroke-linejoin="round"/><path d="M451.1 240.1L451.8 242.7" fill="none" stroke="#767676" stroke-opacity="1.000" stroke-width="2" stroke-linecap="butt" stroke-linejoin="round"/><path d="M452.3 271.5L458.3 271.5" fill="none" stroke="#5f5f5f" stroke-opacity="1.000" stroke-width="3" stroke-linecap="butt" stroke-linejoin="round"/><path d="M455.2 308.3L457.6 308.3" fill="none" stroke="#484848" stroke-opacity="1.000" stroke-width="2.8" stroke-linecap="butt" stroke-linejoin="round"/><path d="M439.9 306.6L442.3 306.6" fill="none" stroke="#272727" stroke-opacity="1.000" stroke-width="2.4" stroke-linecap="butt" stroke-linejoin="round"/><path d="M454.5 298.1L455.9 299.4" fill="none" stroke="#2c2c2c" stroke-opacity="1.000" stroke-width="2" stroke-linecap="butt" stroke-linejoin="round"/><path d="M230 179.7L233.4 180.9" fill="none" stroke="#272727" stroke-opacity="1.000" stroke-width="2.4" stroke-linecap="butt" stroke-linejoin="round"/><path d="M252.1 190.4L258.1 190.7" fill="none" stroke="#5f5f5f" stroke-opacity="1.000" stroke-width="3" stroke-linecap="butt" stroke-linejoin="round"/></g>
</g>
<g filter="url(#bl0_5)"><rect x="0.0" y="92.1" width="7.3" height="2.8" fill="#15ffea"/><rect x="7.2" y="94.8" width="3.7" height="2.8" fill="#4cffb3"/><rect x="10.7" y="97.6" width="7.3" height="2.8" fill="#7eff81"/><rect x="17.9" y="100.3" width="7.3" height="2.8" fill="#baff45"/><rect x="25.1" y="103.0" width="7.3" height="2.8" fill="#dfff20"/><rect x="32.2" y="105.7" width="7.3" height="2.8" fill="#fffb00"/><rect x="39.4" y="108.4" width="7.3" height="2.8" fill="#ffd900"/><rect x="46.5" y="111.1" width="5.5" height="2.8" fill="#ffbb00"/><rect x="51.9" y="113.8" width="9.1" height="2.8" fill="#ffa200"/><rect x="60.9" y="116.5" width="7.3" height="2.8" fill="#ff8a00"/><rect x="68.0" y="119.2" width="7.3" height="2.8" fill="#ff7400"/><rect x="75.2" y="122.0" width="7.3" height="2.8" fill="#ff6000"/><rect x="82.3" y="124.7" width="5.5" height="2.8" fill="#ff5700"/><rect x="87.7" y="127.4" width="5.5" height="2.8" fill="#ff4f00"/><rect x="93.1" y="130.1" width="7.3" height="2.8" fill="#ff5300"/><rect x="100.2" y="132.8" width="7.3" height="2.8" fill="#ff5e00"/><rect x="107.4" y="135.5" width="7.3" height="2.8" fill="#ff6800"/><rect x="114.6" y="138.2" width="9.1" height="2.8" fill="#ff7400"/><rect x="123.5" y="140.9" width="7.3" height="2.8" fill="#ff7e00"/><rect x="130.7" y="143.6" width="7.3" height="2.8" fill="#ff8700"/><rect x="137.8" y="146.3" width="9.1" height="2.8" fill="#ff9300"/><rect x="146.8" y="149.1" width="7.3" height="2.8" fill="#ff9f00"/><rect x="153.9" y="151.8" width="7.3" height="2.8" fill="#ffaa00"/><rect x="161.1" y="154.5" width="9.1" height="2.8" fill="#ffba00"/><rect x="170.1" y="157.2" width="7.3" height="2.8" fill="#ffd200"/><rect x="177.2" y="159.9" width="9.1" height="2.8" fill="#ffeb00"/><rect x="186.2" y="162.6" width="7.3" height="2.8" fill="#fbff04"/><rect x="193.3" y="165.3" width="9.1" height="2.8" fill="#e1ff1e"/><rect x="202.3" y="168.0" width="7.3" height="2.8" fill="#aeff51"/><rect x="209.4" y="170.7" width="7.3" height="2.8" fill="#75ff8a"/><rect x="216.6" y="173.4" width="5.5" height="2.8" fill="#35ffca"/><rect x="222.0" y="176.2" width="7.3" height="2.8" fill="#00ebff"/><rect x="229.1" y="178.9" width="7.3" height="2.8" fill="#0072ff"/><rect x="252.4" y="189.7" width="7.3" height="2.8" fill="#04fffb"/><rect x="259.6" y="192.4" width="7.3" height="2.8" fill="#ff6300"/><rect x="266.7" y="195.1" width="9.1" height="2.8" fill="#ff5e00"/><rect x="275.7" y="197.8" width="7.3" height="2.8" fill="#ff7100"/><rect x="282.8" y="200.5" width="7.3" height="2.8" fill="#ff7d00"/><rect x="290.0" y="203.2" width="7.3" height="2.8" fill="#ff8700"/><rect x="297.1" y="206.0" width="7.3" height="2.8" fill="#ff9100"/><rect x="304.3" y="208.7" width="5.5" height="2.8" fill="#ff9900"/><rect x="309.7" y="211.4" width="7.3" height="2.8" fill="#ffa200"/><rect x="316.8" y="214.1" width="7.3" height="2.8" fill="#ffac00"/><rect x="324.0" y="216.8" width="7.3" height="2.8" fill="#ffb700"/><rect x="331.2" y="219.5" width="7.3" height="2.8" fill="#ffc500"/><rect x="338.3" y="222.2" width="5.5" height="2.8" fill="#ffd200"/><rect x="343.7" y="224.9" width="9.1" height="2.8" fill="#ffde00"/><rect x="352.6" y="227.6" width="9.1" height="2.8" fill="#ffe900"/><rect x="361.6" y="230.3" width="9.1" height="2.8" fill="#fff500"/><rect x="370.5" y="233.1" width="7.3" height="2.8" fill="#fffc00"/><rect x="377.7" y="235.8" width="5.5" height="2.8" fill="#ffff00"/><rect x="383.1" y="238.5" width="5.5" height="2.8" fill="#fcff03"/><rect x="388.4" y="241.2" width="7.3" height="2.8" fill="#f6ff09"/><rect x="395.6" y="243.9" width="7.3" height="2.8" fill="#e7ff18"/><rect x="402.8" y="246.6" width="7.3" height="2.8" fill="#d9ff26"/><rect x="409.9" y="249.3" width="5.5" height="2.8" fill="#ccff33"/><rect x="415.3" y="252.0" width="5.5" height="2.8" fill="#c3ff3c"/><rect x="420.7" y="254.7" width="5.5" height="2.8" fill="#b9ff46"/><rect x="426.0" y="257.4" width="5.5" height="2.8" fill="#adff52"/><rect x="431.4" y="260.2" width="5.5" height="2.8" fill="#9cff63"/><rect x="436.8" y="262.9" width="5.5" height="2.8" fill="#8bff74"/><rect x="442.1" y="265.6" width="7.3" height="2.8" fill="#67ff98"/><rect x="449.3" y="268.3" width="5.5" height="2.8" fill="#2effd1"/><rect x="454.7" y="271.0" width="3.7" height="2.8" fill="#12ffed"/><rect x="0.0" y="203.2" width="3.7" height="2.8" fill="#1fffe0"/><rect x="3.6" y="206.0" width="3.7" height="2.8" fill="#4fffb0"/><rect x="7.2" y="208.7" width="3.7" height="2.8" fill="#69ff96"/><rect x="10.7" y="211.4" width="5.5" height="2.8" fill="#8aff75"/><rect x="16.1" y="214.1" width="3.7" height="2.8" fill="#aaff55"/><rect x="19.7" y="216.8" width="3.7" height="2.8" fill="#bdff42"/><rect x="23.3" y="219.5" width="3.7" height="2.8" fill="#ccff33"/><rect x="26.9" y="222.2" width="3.7" height="2.8" fill="#dbff24"/><rect x="30.4" y="224.9" width="3.7" height="2.8" fill="#e5ff1a"/><rect x="34.0" y="227.6" width="3.7" height="2.8" fill="#e5ff1a"/><rect x="37.6" y="230.3" width="3.7" height="2.8" fill="#e5ff1a"/><rect x="41.2" y="233.1" width="5.5" height="2.8" fill="#e5ff1a"/><rect x="46.5" y="235.8" width="3.7" height="2.8" fill="#e5ff1a"/><rect x="50.1" y="238.5" width="5.5" height="2.8" fill="#e5ff1a"/><rect x="55.5" y="241.2" width="5.5" height="2.8" fill="#e5ff1a"/><rect x="60.9" y="243.9" width="5.5" height="2.8" fill="#e5ff1a"/><rect x="66.2" y="246.6" width="7.3" height="2.8" fill="#e5ff1a"/><rect x="73.4" y="249.3" width="5.5" height="2.8" fill="#deff21"/><rect x="78.8" y="252.0" width="5.5" height="2.8" fill="#d0ff2f"/><rect x="84.1" y="254.7" width="7.3" height="2.8" fill="#beff41"/><rect x="91.3" y="257.4" width="19.8" height="2.8" fill="#94ff6b"/><rect x="111.0" y="260.2" width="5.5" height="2.8" fill="#9aff65"/><rect x="116.4" y="262.9" width="10.9" height="2.8" fill="#b6ff49"/><rect x="127.1" y="260.2" width="7.3" height="2.8" fill="#e4ff1b"/><rect x="134.2" y="257.4" width="7.3" height="2.8" fill="#f5ff0a"/><rect x="141.4" y="254.7" width="7.3" height="2.8" fill="#ffeb00"/><rect x="148.6" y="252.0" width="5.5" height="2.8" fill="#ffce00"/><rect x="153.9" y="249.3" width="5.5" height="2.8" fill="#ffb800"/><rect x="159.3" y="246.6" width="3.7" height="2.8" fill="#ffa800"/><rect x="162.9" y="243.9" width="5.5" height="2.8" fill="#ff9500"/><rect x="168.3" y="241.2" width="3.7" height="2.8" fill="#ff7c00"/><rect x="171.8" y="238.5" width="5.5" height="2.8" fill="#ff6400"/><rect x="177.2" y="235.8" width="3.7" height="2.8" fill="#ff5300"/><rect x="180.8" y="233.1" width="3.7" height="2.8" fill="#ff3f00"/><rect x="184.4" y="230.3" width="1.9" height="2.8" fill="#ff2800"/><rect x="186.2" y="227.6" width="5.5" height="2.8" fill="#ff1600"/><rect x="191.5" y="224.9" width="3.7" height="2.8" fill="#ff0e00"/><rect x="195.1" y="222.2" width="3.7" height="2.8" fill="#ff0700"/><rect x="198.7" y="219.5" width="3.7" height="2.8" fill="#ff0200"/><rect x="202.3" y="216.8" width="3.7" height="2.8" fill="#fc0000"/><rect x="205.8" y="214.1" width="3.7" height="2.8" fill="#f70000"/><rect x="209.4" y="211.4" width="3.7" height="2.8" fill="#ef0000"/><rect x="213.0" y="208.7" width="3.7" height="2.8" fill="#e80000"/><rect x="216.6" y="206.0" width="3.7" height="2.8" fill="#e00000"/><rect x="220.2" y="203.2" width="1.9" height="2.8" fill="#da0000"/><rect x="222.0" y="200.5" width="3.7" height="2.8" fill="#d40000"/><rect x="225.5" y="197.8" width="3.7" height="2.8" fill="#c80000"/><rect x="229.1" y="195.1" width="3.7" height="2.8" fill="#b90000"/><rect x="232.7" y="192.4" width="1.9" height="2.8" fill="#ae0000"/><rect x="234.5" y="189.7" width="3.7" height="2.8" fill="#a80000"/><rect x="238.1" y="187.0" width="1.9" height="2.8" fill="#a80000"/><rect x="239.9" y="184.3" width="3.7" height="2.8" fill="#a80000"/><rect x="243.4" y="181.6" width="3.7" height="2.8" fill="#aa0000"/><rect x="247.0" y="178.9" width="3.7" height="2.8" fill="#ca0000"/><rect x="250.6" y="176.2" width="3.7" height="2.8" fill="#e80000"/><rect x="254.2" y="173.4" width="3.7" height="2.8" fill="#ff0100"/><rect x="257.8" y="170.7" width="3.7" height="2.8" fill="#ff2a00"/><rect x="261.3" y="168.0" width="3.7" height="2.8" fill="#ff6700"/><rect x="264.9" y="165.3" width="3.7" height="2.8" fill="#ff7b00"/><rect x="268.5" y="162.6" width="3.7" height="2.8" fill="#ff8400"/><rect x="272.1" y="159.9" width="3.7" height="2.8" fill="#ff8e00"/><rect x="275.7" y="157.2" width="3.7" height="2.8" fill="#ffa000"/><rect x="279.2" y="154.5" width="3.7" height="2.8" fill="#ffb300"/><rect x="282.8" y="151.8" width="3.7" height="2.8" fill="#ffc300"/><rect x="286.4" y="149.1" width="5.5" height="2.8" fill="#ffd700"/><rect x="291.8" y="146.3" width="7.3" height="2.8" fill="#fff000"/><rect x="298.9" y="143.6" width="5.5" height="2.8" fill="#fffe00"/><rect x="304.3" y="140.9" width="7.3" height="2.8" fill="#f5ff0a"/><rect x="311.5" y="138.2" width="7.3" height="2.8" fill="#d1ff2e"/><rect x="318.6" y="135.5" width="37.7" height="2.8" fill="#94ff6b"/><rect x="356.2" y="138.2" width="7.3" height="2.8" fill="#a6ff59"/><rect x="363.4" y="135.5" width="10.9" height="2.8" fill="#ecff13"/><rect x="374.1" y="138.2" width="3.7" height="2.8" fill="#faff05"/><rect x="377.7" y="140.9" width="5.5" height="2.8" fill="#faff05"/><rect x="383.1" y="143.6" width="3.7" height="2.8" fill="#fcff03"/><rect x="386.6" y="146.3" width="5.5" height="2.8" fill="#fffe00"/><rect x="392.0" y="149.1" width="5.5" height="2.8" fill="#fff800"/><rect x="397.4" y="151.8" width="5.5" height="2.8" fill="#ffe700"/><rect x="402.8" y="154.5" width="5.5" height="2.8" fill="#ffde00"/><rect x="408.1" y="157.2" width="3.7" height="2.8" fill="#ffe700"/><rect x="411.7" y="159.9" width="5.5" height="2.8" fill="#fff000"/><rect x="417.1" y="162.6" width="3.7" height="2.8" fill="#fff500"/><rect x="420.7" y="165.3" width="5.5" height="2.8" fill="#fffa00"/><rect x="426.0" y="168.0" width="5.5" height="2.8" fill="#ffff00"/><rect x="431.4" y="170.7" width="3.7" height="2.8" fill="#f9ff06"/><rect x="435.0" y="173.4" width="3.7" height="2.8" fill="#eaff15"/><rect x="438.6" y="176.2" width="3.7" height="2.8" fill="#dbff24"/><rect x="442.1" y="178.9" width="3.7" height="2.8" fill="#cbff34"/><rect x="445.7" y="181.6" width="3.7" height="2.8" fill="#adff52"/><rect x="449.3" y="184.3" width="5.5" height="2.8" fill="#80ff7f"/><rect x="454.7" y="187.0" width="3.7" height="2.8" fill="#48ffb7"/></g>
</g>
<path d="M93.2 345.8v-4.6M93.2 1v4.6M184.4 345.8v-4.6M184.4 1v4.6M275.6 345.8v-4.6M275.6 1v4.6M366.8 345.8v-4.6M366.8 1v4.6M1 290.2h5.2M457.8 290.2h-4.6M1 236.7h5.2M457.8 236.7h-4.6M1 183.3h5.2M457.8 183.3h-4.6M1 129.8h5.2M457.8 129.8h-4.6M1 76.4h5.2M457.8 76.4h-4.6M1 22.9h5.2M457.8 22.9h-4.6" stroke="#262626" stroke-width="1.5" stroke-opacity="0.7" fill="none"/>
<path d="M457.75 0.4V346.6" fill="none" stroke="#22222e" stroke-width="2.1" stroke-opacity="0.92"/>
<path d="M0.4 345.40H458.7" fill="none" stroke="#22222e" stroke-width="2.5" stroke-opacity="0.92"/>
<path d="M1.3 346.65000000000003V1.3H458.7" fill="none" stroke="#262626" stroke-width="2.6"/>
</g>
<g class="tk">
<text x="1377.3" y="839.4" text-anchor="end">20</text>
<text x="1377.3" y="786.0" text-anchor="end">40</text>
<text x="1377.3" y="732.7" text-anchor="end">60</text>
<text x="1377.3" y="679.3" text-anchor="end">80</text>
<text x="1377.3" y="625.9" text-anchor="end">100</text>
<text x="1377.3" y="572.5" text-anchor="end">120</text>
<text x="1385.1" y="923.2" text-anchor="middle">0</text>
<text x="1476.5" y="923.2" text-anchor="middle">0.2</text>
<text x="1567.8" y="923.2" text-anchor="middle">0.4</text>
<text x="1659.2" y="923.2" text-anchor="middle">0.6</text>
<text x="1750.5" y="923.2" text-anchor="middle">0.8</text>
<text x="1841.9" y="923.2" text-anchor="middle">1</text>
<text x="1613.3" y="967.7" text-anchor="middle">Time / s</text>
<text transform="translate(1305.6 707.3) rotate(-90)" text-anchor="middle">Freq / Hz</text>
</g>
<text class="cap" x="1612.0" y="1016.4" text-anchor="middle" stroke="#000" stroke-width="0.15">(f)</text>
</svg>
</body>
</html>
